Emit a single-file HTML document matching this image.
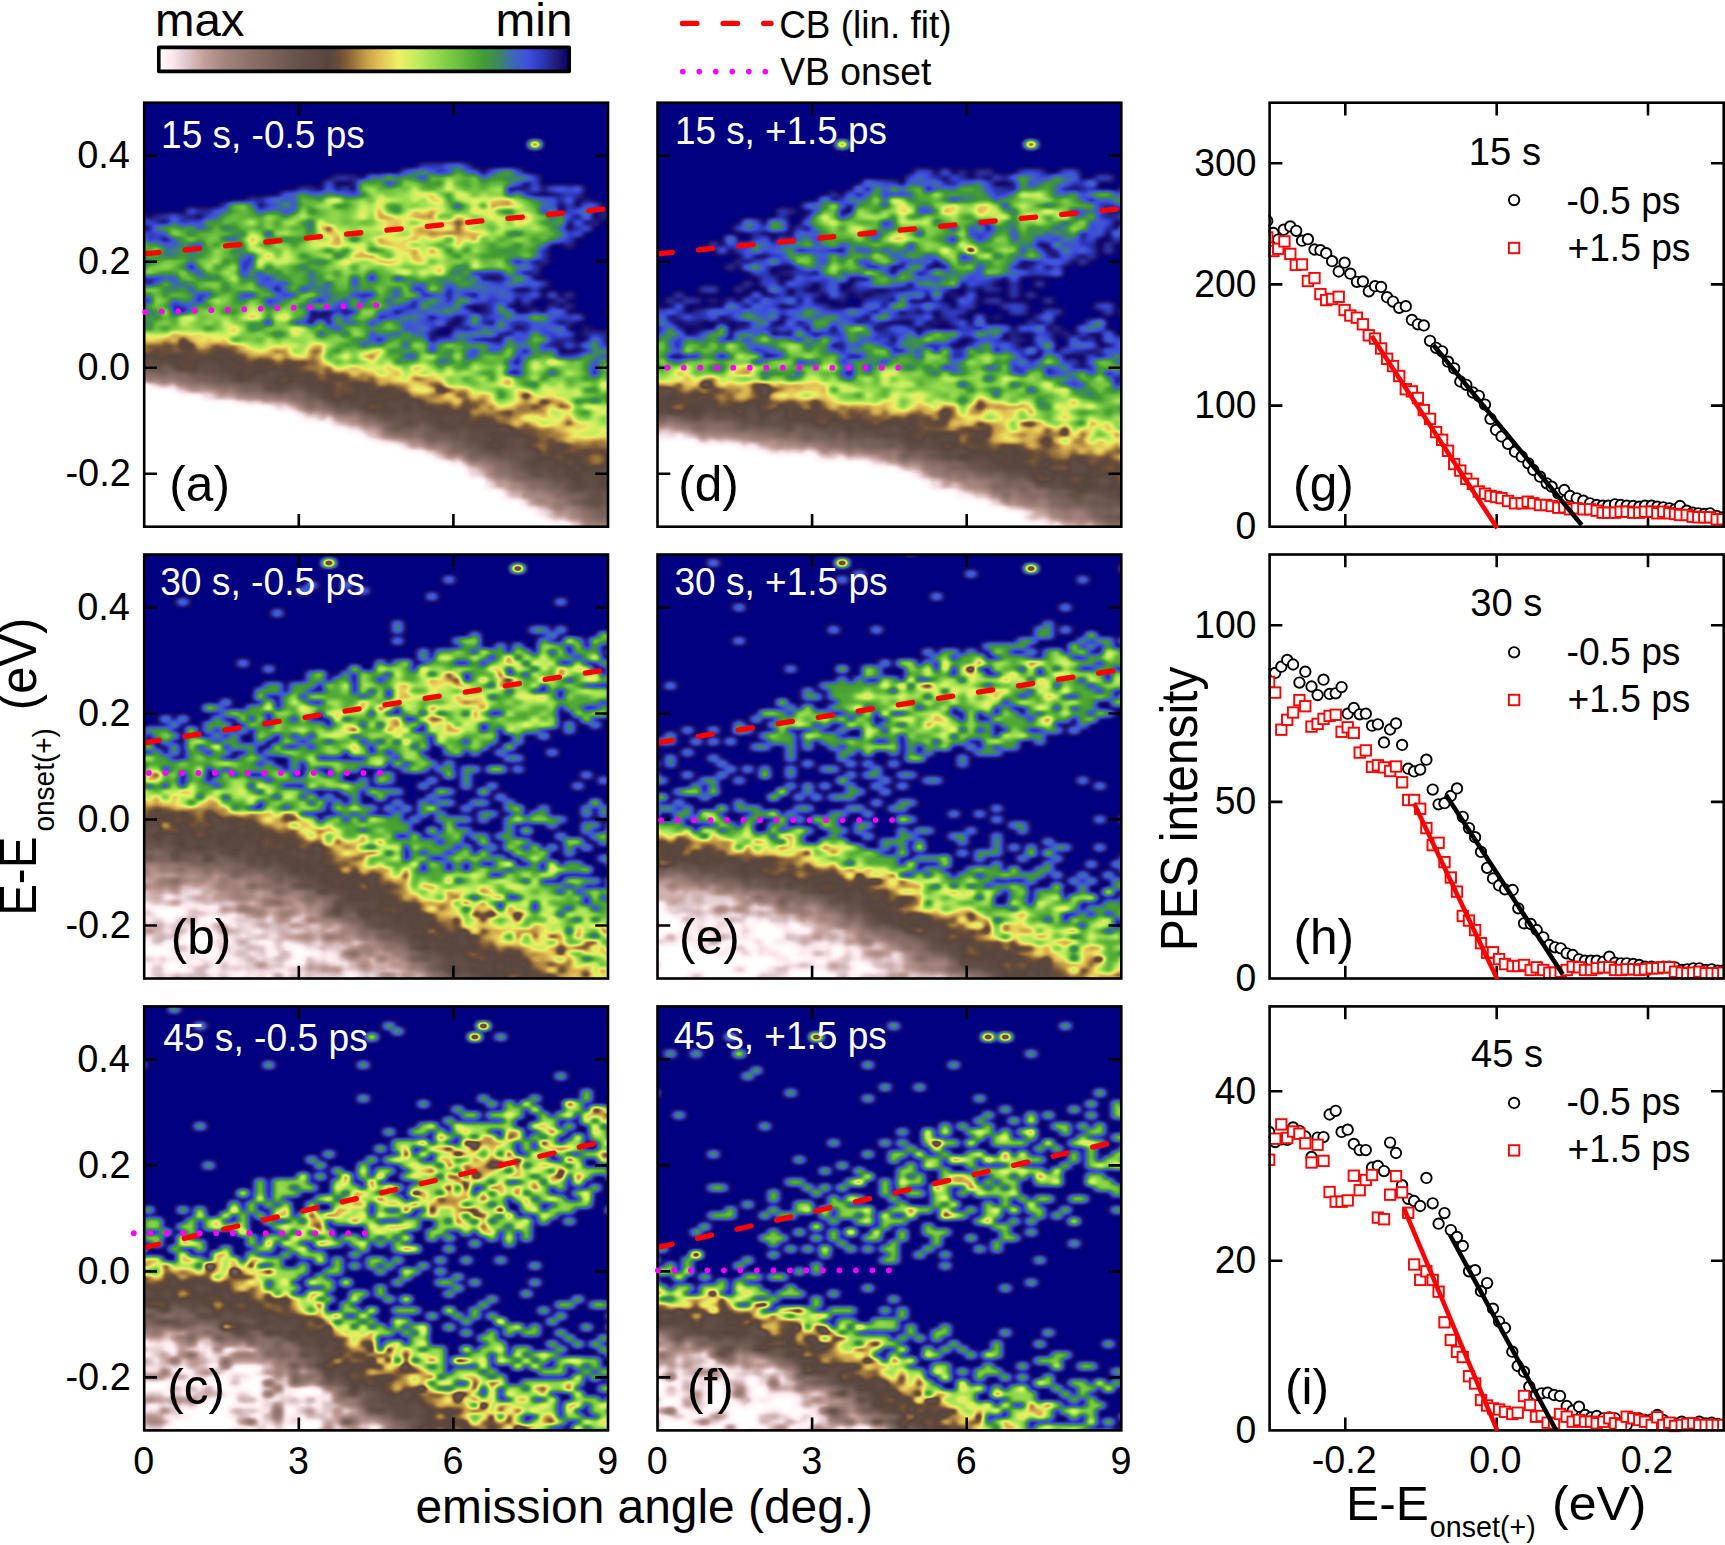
<!DOCTYPE html>
<html lang="en"><head><meta charset="utf-8"><title>Figure</title>
<style>html,body{margin:0;padding:0;background:#fff}svg{display:block}text{font-family:"Liberation Sans", Arial, sans-serif;fill:#000}</style>
</head><body>
<svg width="1725" height="1545" viewBox="0 0 1725 1545">
<defs>
<filter id="hm" x="-5%" y="-5%" width="110%" height="110%" color-interpolation-filters="sRGB"><feGaussianBlur stdDeviation="3.3 2.2"/><feComponentTransfer><feFuncR type="table" tableValues="1 1 1 1 0.965 0.93 0.895 0.864 0.84 0.817 0.793 0.77 0.745 0.718 0.692 0.666 0.639 0.625 0.61 0.595 0.58 0.566 0.551 0.538 0.525 0.513 0.5 0.488 0.475 0.463 0.451 0.439 0.428 0.416 0.404 0.392 0.385 0.377 0.37 0.362 0.355 0.347 0.363 0.388 0.418 0.468 0.518 0.573 0.63 0.687 0.744 0.795 0.828 0.862 0.889 0.899 0.909 0.919 0.929 0.91 0.872 0.834 0.795 0.757 0.719 0.682 0.644 0.606 0.57 0.541 0.511 0.482 0.453 0.424 0.395 0.368 0.34 0.313 0.286 0.259 0.253 0.247 0.241 0.235 0.235 0.235 0.235 0.239 0.244 0.248 0.246 0.224 0.201 0.178 0.161 0.151 0.141 0.127 0.095 0.063 0"/><feFuncG type="table" tableValues="1 0.973 0.945 0.918 0.882 0.846 0.81 0.773 0.737 0.7 0.663 0.626 0.6 0.58 0.561 0.541 0.522 0.509 0.496 0.483 0.47 0.457 0.444 0.433 0.423 0.413 0.403 0.393 0.383 0.373 0.364 0.354 0.344 0.334 0.324 0.314 0.308 0.301 0.295 0.289 0.283 0.276 0.281 0.291 0.306 0.343 0.381 0.43 0.483 0.537 0.59 0.64 0.682 0.724 0.765 0.805 0.845 0.885 0.925 0.939 0.936 0.932 0.929 0.926 0.911 0.894 0.878 0.862 0.845 0.826 0.807 0.788 0.769 0.75 0.731 0.708 0.684 0.66 0.636 0.612 0.59 0.569 0.547 0.525 0.489 0.452 0.416 0.389 0.362 0.335 0.308 0.282 0.255 0.228 0.199 0.167 0.135 0.103 0.067 0.031 0"/><feFuncB type="table" tableValues="1 0.978 0.956 0.933 0.896 0.859 0.822 0.783 0.739 0.694 0.65 0.606 0.576 0.555 0.535 0.515 0.494 0.481 0.468 0.456 0.443 0.43 0.417 0.405 0.394 0.383 0.371 0.36 0.349 0.338 0.329 0.32 0.31 0.301 0.292 0.282 0.276 0.27 0.264 0.257 0.251 0.245 0.237 0.227 0.22 0.22 0.22 0.23 0.244 0.258 0.272 0.288 0.306 0.324 0.341 0.352 0.364 0.376 0.387 0.389 0.384 0.379 0.374 0.369 0.355 0.341 0.326 0.311 0.297 0.287 0.277 0.267 0.257 0.246 0.236 0.228 0.22 0.212 0.204 0.196 0.245 0.294 0.343 0.392 0.492 0.591 0.69 0.74 0.789 0.839 0.87 0.826 0.783 0.74 0.684 0.611 0.537 0.474 0.453 0.431 0.502"/><feFuncA type="linear" slope="0" intercept="1"/></feComponentTransfer></filter>
<clipPath id="cp00"><rect x="144.2" y="102.7" width="463.8" height="424.0"/></clipPath>
<clipPath id="cp01"><rect x="144.2" y="554.5" width="463.8" height="424.0"/></clipPath>
<clipPath id="cp02"><rect x="144.2" y="1006.4" width="463.8" height="424.0"/></clipPath>
<clipPath id="cp10"><rect x="657.5" y="102.7" width="463.8" height="424.0"/></clipPath>
<clipPath id="cp11"><rect x="657.5" y="554.5" width="463.8" height="424.0"/></clipPath>
<clipPath id="cp12"><rect x="657.5" y="1006.4" width="463.8" height="424.0"/></clipPath>
<clipPath id="cl0"><rect x="1268.3" y="100.7" width="457.4" height="429.5"/></clipPath>
<clipPath id="cl1"><rect x="1268.3" y="552.5" width="457.4" height="429.5"/></clipPath>
<clipPath id="cl2"><rect x="1268.3" y="1004.4" width="457.4" height="429.5"/></clipPath>
<linearGradient id="cbg" x1="0" x2="1" y1="0" y2="0">
<stop offset="0.000" stop-color="rgb(255,255,255)"/>
<stop offset="0.030" stop-color="rgb(255,234,238)"/>
<stop offset="0.067" stop-color="rgb(222,200,203)"/>
<stop offset="0.114" stop-color="rgb(194,156,150)"/>
<stop offset="0.160" stop-color="rgb(163,133,126)"/>
<stop offset="0.224" stop-color="rgb(139,112,105)"/>
<stop offset="0.287" stop-color="rgb(119,96,87)"/>
<stop offset="0.350" stop-color="rgb(100,80,72)"/>
<stop offset="0.413" stop-color="rgb(88,70,62)"/>
<stop offset="0.438" stop-color="rgb(104,76,56)"/>
<stop offset="0.463" stop-color="rgb(136,100,56)"/>
<stop offset="0.507" stop-color="rgb(200,160,72)"/>
<stop offset="0.537" stop-color="rgb(226,192,86)"/>
<stop offset="0.584" stop-color="rgb(238,240,100)"/>
<stop offset="0.631" stop-color="rgb(192,236,94)"/>
<stop offset="0.679" stop-color="rgb(146,216,76)"/>
<stop offset="0.741" stop-color="rgb(100,186,60)"/>
<stop offset="0.790" stop-color="rgb(66,156,50)"/>
<stop offset="0.830" stop-color="rgb(60,134,100)"/>
<stop offset="0.860" stop-color="rgb(60,106,176)"/>
<stop offset="0.898" stop-color="rgb(64,80,224)"/>
<stop offset="0.936" stop-color="rgb(42,54,182)"/>
<stop offset="0.968" stop-color="rgb(34,28,122)"/>
<stop offset="0.990" stop-color="rgb(16,8,110)"/>
<stop offset="1.000" stop-color="rgb(0,0,128)"/>
</linearGradient>
</defs>
<rect width="1725" height="1545" fill="#fff"/>
<rect x="158.8" y="47.4" width="410.4" height="24" fill="url(#cbg)" stroke="#000" stroke-width="3.6" stroke-linejoin="round"/>
<text transform="translate(154.92,36.20) scale(1.0190,1)" font-size="46.50">max</text>
<text transform="translate(495.60,36.20) scale(1.0259,1)" font-size="46.50">min</text>
<path d="M682.5 23.4H771" stroke="#f00" stroke-width="5.4" stroke-linecap="round" stroke-dasharray="14.4 26.2" fill="none"/>
<path d="M682.8 71.6H766" stroke="#f0f" stroke-width="5.8" stroke-linecap="round" stroke-dasharray="0 16.5" fill="none"/>
<text transform="translate(779.15,37.60) scale(0.9474,1)" font-size="39.00">CB (lin. fit)</text>
<text transform="translate(780.31,85.30) scale(0.9540,1)" font-size="39.00">VB onset</text>
<g clip-path="url(#cp00)">
<g filter="url(#hm)">
<rect x="127.0" y="91.5" width="498.2" height="446.3" fill="#fff"/>
<g transform="translate(144.20,105.49) scale(8.5889,5.5789)" stroke-width="1.08" fill="none">
<path stroke="#000000" d="M-2 50h3M-2 51h6M-2 52h9M-2 53h13M-2 54h17M-2 55h20M-2 56h21M-2 57h24M-2 58h26M-2 59h28M-2 60h29M-2 61h32M-2 62h35M-2 63h36M-2 64h38M-2 65h39M-2 66h40M-2 67h42M-2 68h42M-2 69h44M-2 70h44M-2 71h46M-2 72h47M-2 73h48M-2 74h49M-2 75h52M-2 76h52M-2 77h53"/>
<path stroke="#030303" d="M7 52h1M16 54h1M36 64h1M37 65h1M45 72h1"/>
<path stroke="#050505" d="M11 53h1M19 56h1M21 56h1M24 58h1M27 60h1M40 68h1M44 71h1M46 73h1M50 76h1"/>
<path stroke="#080808" d="M15 54h1M30 61h1M38 66h1"/>
<path stroke="#0b0b0b" d="M28 60h1M34 63h1M47 74h1M50 75h1"/>
<path stroke="#0d0d0d" d="M1 50h1M4 51h1M18 55h1M22 57h1M33 62h1M38 65h1M42 70h1M48 74h1M51 77h1"/>
<path stroke="#101010" d="M-2 49h1M3 50h1M12 53h2M26 59h1M39 66h1M43 70h1M46 72h1M47 73h1"/>
<path stroke="#131313" d="M17 54h1M20 56h1"/>
<path stroke="#151515" d="M8 52h1M23 57h1M25 58h1M29 60h1M40 67h1M42 69h1"/>
<path stroke="#181818" d="M9 52h1M26 58h1M36 63h1M37 64h1M43 69h1"/>
<path stroke="#1b1b1b" d="M-1 49h1M2 50h1M10 52h1M14 53h1M27 59h1M34 62h1M41 68h2M49 74h1M52 76h1"/>
<path stroke="#1e1e1e" d="M5 51h1M19 55h2M24 57h1M31 61h2M39 65h1M49 73h1M51 76h1"/>
<path stroke="#202020" d="M6 51h2M15 53h2M22 56h1M30 60h1M35 63h1M43 68h1M45 71h1M47 71h1M48 73h1M50 74h1M53 77h2"/>
<path stroke="#232323" d="M23 56h1M27 58h1M41 67h1M44 69h1M47 72h1"/>
<path stroke="#262626" d="M8 51h1M21 55h1M24 56h1M31 60h1M44 70h3M46 71h1M49 72h1M55 77h1"/>
<path stroke="#282828" d="M1 49h1M4 50h1M11 52h1M40 65h1M40 66h1M42 67h1M50 73h1M51 75h1M53 76h1M52 77h1"/>
<path stroke="#2b2b2b" d="M12 52h1M18 54h1M25 57h1M34 61h1M47 70h1M48 71h1"/>
<path stroke="#2e2e2e" d="M0 49h1M6 50h1M13 52h1M26 57h1M33 61h1M38 64h2M52 75h2M54 76h2"/>
<path stroke="#303030" d="M-1 48h1M2 49h2M5 50h1M9 51h2M14 52h1M17 53h1M28 59h1M44 68h1M45 69h2M48 72h1M50 72h1M51 74h1"/>
<path stroke="#333333" d="M20 54h1M32 60h1M35 61h1M35 62h1"/>
<path stroke="#363636" d="M4 49h1M7 50h1M16 52h1M29 59h1M37 63h1M41 66h1M51 73h1M55 75h1"/>
<path stroke="#383838" d="M18 53h1M31 59h1M40 64h1M42 66h1M52 74h1M55 74h1"/>
<path stroke="#3b3b3b" d="M-2 48h1M0 48h1M5 49h1M15 52h1M24 55h1M27 57h1M37 62h1M41 65h1M43 67h1M45 68h2M49 71h1"/>
<path stroke="#3e3e3e" d="M3 48h1M13 51h1M17 52h2M25 56h1M30 59h1M39 63h1M43 66h1M47 69h2M48 70h1M50 70h1M52 73h1M54 73h1M54 74h1M54 75h1"/>
<path stroke="#404040" d="M45 7h1M4 48h1M11 51h1M20 53h1M19 54h1M22 55h1M26 56h1M32 58h1M34 60h1M36 62h1M41 64h1M42 65h1M49 70h1M53 74h1"/>
<path stroke="#434343" d="M2 47h1M1 48h1M7 49h1M8 50h3M12 51h1M19 53h1M21 54h1M23 55h1M32 59h1M35 60h1M36 61h1M51 72h1M55 73h1"/>
<path stroke="#464646" d="M2 48h1M6 49h1M12 50h1M28 57h1M28 58h1M31 58h1M38 63h1M42 64h1M44 67h2M47 68h1M53 72h1"/>
<path stroke="#484848" d="M11 50h1M30 58h1M34 59h1M33 60h1M38 62h1M40 63h1M44 66h1M46 67h1M48 68h1M53 73h1"/>
<path stroke="#4b4b4b" d="M-1 47h1M9 49h1M13 50h1M17 51h1M25 55h1M32 57h1M33 58h1M33 59h1M35 59h1M38 61h1M43 65h1M51 70h1M50 71h1M54 72h1"/>
<path stroke="#4e4e4e" d="M-2 47h1M0 47h1M6 48h1M8 49h1M18 51h1M23 54h1M29 57h1M36 60h1M37 61h1M43 64h1M52 72h1M55 72h1"/>
<path stroke="#515151" d="M-1 46h1M19 52h1M44 52h1M37 60h1M39 62h1M43 62h1M43 63h1M46 66h1M47 67h1M49 68h1M53 70h1M54 71h2"/>
<path stroke="#535353" d="M1 47h1M5 48h1M7 48h1M13 49h1M22 54h1M27 56h1M29 56h1M31 56h1M29 58h1M36 59h2M43 61h1M40 62h1M42 62h1M41 63h2M44 63h1M51 69h2M54 70h1M51 71h1M53 71h1"/>
<path stroke="#565656" d="M-2 46h1M3 47h1M8 48h1M17 50h1M16 51h1M34 51h1M20 52h1M21 53h1M24 54h1M32 55h1M28 56h1M30 56h1M37 58h1M43 60h1M44 65h1M49 69h2M53 69h1"/>
<path stroke="#595959" d="M-2 45h1M0 46h1M15 48h1M14 51h1M25 53h1M46 53h1M31 54h1M31 57h1M33 57h1M39 61h1M48 66h1M48 67h2M51 67h1M55 67h1M52 68h1M54 69h1M52 71h1"/>
<path stroke="#5b5b5b" d="M2 46h1M7 46h1M6 47h3M14 48h1M12 49h1M14 49h1M18 49h1M14 50h1M15 51h1M25 52h1M23 53h1M29 54h1M26 55h2M29 55h1M35 56h1M36 58h1M41 58h2M38 59h1M42 60h1M44 60h1M44 62h2M47 64h1M45 65h2M50 65h1M45 66h1M51 66h1M53 66h2M52 67h1M51 68h1M55 68h1M52 70h1"/>
<path stroke="#5e5e5e" d="M21 22h1M1 46h1M6 46h1M9 48h1M16 48h1M18 50h1M26 53h1M28 53h1M28 54h1M30 55h2M32 56h1M34 56h1M36 56h1M30 57h1M35 58h1M39 58h1M39 59h1M38 60h3M42 61h1M41 62h1M45 63h1M44 64h1M46 64h1M48 65h1M47 66h1M55 70h1"/>
<path stroke="#616161" d="M9 46h1M10 47h2M10 49h1M17 49h1M16 50h1M20 50h1M24 50h1M19 51h2M25 51h1M28 51h1M22 53h1M24 53h1M29 53h3M33 55h1M33 56h1M34 58h1M38 58h1M40 58h1M49 63h1M54 63h1M55 64h1M47 65h1M53 65h1M52 66h1"/>
<path stroke="#636363" d="M4 42h1M4 43h2M-2 44h1M-1 45h2M8 46h1M13 46h1M9 47h1M13 47h1M10 48h1M13 48h1M15 49h1M21 50h1M25 50h1M21 51h1M27 51h1M35 51h1M21 52h1M23 52h1M26 52h1M30 52h1M25 54h1M45 54h1M28 55h1M35 55h1M35 57h2M40 57h1M44 61h1M48 61h1M47 62h1M50 63h1M54 64h1M52 65h1M54 65h1M54 68h1M55 69h1"/>
<path stroke="#666666" d="M3 45h2M9 45h1M10 46h1M14 46h1M18 46h1M16 47h1M11 48h1M11 49h1M15 50h1M26 50h1M29 52h1M27 53h1M33 54h1M36 55h2M42 55h1M37 56h1M34 57h1M39 57h1M49 57h1M40 59h1M42 59h2M41 60h1M45 60h1M51 62h1M45 64h1M50 64h1M49 65h1M50 66h1M50 68h1M53 68h1"/>
<path stroke="#696969" d="M36 21h1M35 23h1M1 44h1M5 44h1M8 44h2M1 45h1M6 45h1M10 45h1M3 46h1M11 46h1M12 47h1M14 47h2M17 47h1M17 48h1M19 49h1M21 49h3M19 50h1M24 52h1M27 52h2M37 53h1M30 54h1M32 54h1M37 54h1M48 54h1M34 55h1M39 56h1M38 57h1M41 59h1M41 61h1M47 61h1M49 61h1M48 62h1M47 63h1M48 64h1M51 65h1M55 66h1M50 67h1M53 67h1"/>
<path stroke="#6b6b6b" d="M2 43h1M2 45h1M5 45h1M7 45h2M11 45h1M4 46h2M16 46h2M12 48h1M18 48h2M21 48h1M23 50h1M24 51h1M29 51h1M32 53h1M34 54h2M38 54h1M44 59h1M47 60h1M50 62h1M52 62h2M46 63h1M55 63h1M51 64h1M49 66h1M54 67h1"/>
<path stroke="#6e6e6e" d="M-2 43h1M8 43h1M2 44h1M4 44h1M26 45h1M12 46h1M4 47h2M21 47h1M16 49h1M26 49h1M31 49h1M33 50h2M26 51h1M22 52h1M36 52h1M27 54h1M41 55h1M40 56h1M37 57h1M45 59h1M40 61h1M51 63h1M55 65h1"/>
<path stroke="#717171" d="M36 22h1M33 23h1M26 27h1M-1 43h1M7 44h1M10 44h1M15 44h1M19 46h1M18 47h1M20 49h1M22 50h1M22 51h2M39 53h1M49 54h1M38 56h1M41 57h1M44 57h1M43 58h3M45 61h1M52 61h1M49 62h1M54 62h1M48 63h1M53 63h1M49 64h1M53 64h1"/>
<path stroke="#737373" d="M33 26h1M0 43h2M3 43h1M0 44h1M3 44h1M6 44h1M20 44h1M22 48h2M24 49h1M32 49h1M28 50h1M33 52h1M37 52h1M26 54h1M40 54h1M46 59h1M46 60h1M50 61h1M46 62h1"/>
<path stroke="#767676" d="M40 18h1M33 20h1M22 24h1M38 24h1M10 43h1M19 44h1M15 46h1M47 46h1M30 51h1M38 53h1M47 53h1M44 55h1M42 56h1M53 60h1M55 60h1M46 61h1M51 61h1M53 61h1"/>
<path stroke="#797979" d="M27 20h1M32 20h1M34 23h1M36 23h1M27 24h1M27 28h1M9 43h1M16 44h1M16 45h1M19 45h1M19 47h1M20 48h1M25 48h1M25 49h1M29 50h1M34 52h1M35 53h1M44 53h1M36 54h1M43 54h2M39 55h1M43 55h1M46 55h1M46 58h2M52 60h1M52 63h1M52 64h1"/>
<path stroke="#7b7b7b" d="M33 19h1M28 20h1M31 26h1M14 27h1M25 27h1M28 28h1M34 30h1M12 38h1M3 41h1M2 42h1M27 44h1M13 45h2M20 47h1M24 47h1M42 50h1M37 51h1M31 52h2M39 52h1M33 53h1M46 54h1M40 55h1M45 55h1M41 56h1M42 57h1M47 59h2M48 60h1"/>
<path stroke="#7e7e7e" d="M42 17h1M42 18h1M27 19h1M44 20h1M34 21h1M32 22h1M12 24h1M31 24h1M31 27h1M-2 42h1M7 43h1M-1 44h1M11 44h1M12 45h1M20 46h1M31 47h1M29 48h1M42 49h1M27 50h1M30 50h1M34 53h1M48 53h1M38 55h1M43 56h1M49 56h1M50 60h1"/>
<path stroke="#818181" d="M33 16h1M22 17h1M41 18h1M31 20h1M32 23h1M37 23h2M22 25h1M28 25h1M24 27h1M23 28h1M30 30h1M16 38h1M20 43h1M27 49h1M53 50h1M36 51h1M39 54h1M55 59h1M51 60h1"/>
<path stroke="#848484" d="M41 17h1M31 19h1M36 20h1M29 21h1M35 21h1M37 21h1M28 22h2M21 23h1M27 25h1M36 25h1M32 28h1M10 40h1M-1 42h1M5 42h1M25 45h1M26 48h1M52 54h1M54 61h1"/>
<path stroke="#868686" d="M32 16h1M34 17h1M38 19h1M20 21h1M43 21h1M31 22h1M39 23h1M36 24h1M21 25h1M13 28h1M17 40h1M9 42h1M20 45h1M23 45h1M28 47h1M28 49h1M33 49h1M32 50h1M51 54h1M48 58h1M49 59h1"/>
<path stroke="#898989" d="M27 17h1M33 17h1M39 19h1M22 23h1M31 23h1M29 28h1M31 28h1M38 29h1M6 41h1M1 42h1M3 42h1M6 43h1M11 43h1M12 44h1M14 44h1M32 47h1M45 57h1M55 62h1"/>
<path stroke="#8c8c8c" d="M35 15h1M36 16h1M38 17h1M25 20h1M40 20h1M28 21h1M30 24h1M33 24h1M20 25h1M29 25h1M13 26h1M30 26h1M32 30h1M5 38h1M10 41h1M17 41h1M7 42h1M35 48h1M43 51h1M43 52h1M42 54h1M53 55h1M46 56h1M43 57h1M48 57h1M50 58h1M49 60h1"/>
<path stroke="#8e8e8e" d="M35 14h1M40 17h1M27 18h1M43 18h1M30 20h1M20 22h1M12 25h1M30 25h1M25 26h1M34 29h1M4 41h1M19 43h1M15 45h1M17 45h1M45 47h1M24 48h1M34 49h1M33 51h1M40 52h1M47 52h1M50 57h2M53 58h1"/>
<path stroke="#919191" d="M21 17h1M38 18h1M34 19h1M38 21h1M33 22h1M28 23h1M28 24h1M37 24h1M23 25h2M29 26h1M15 28h1M5 41h1M0 42h1M6 42h1M33 45h1M26 46h1M23 47h1M28 48h1M33 48h1M31 50h1M41 50h1M38 52h1M45 52h1M36 53h1M40 53h1M43 53h1M45 53h1M47 54h1M47 56h1M51 58h1M55 61h1"/>
<path stroke="#949494" d="M25 19h1M40 19h1M29 20h1M12 21h1M41 21h1M29 24h1M16 27h1M21 27h1M29 27h1M33 27h1M13 29h1M29 30h1M10 31h1M15 38h1M-2 41h1M0 41h1M16 43h1M27 47h1M29 47h1M38 47h1M31 48h1M49 48h1M29 49h1M31 51h1M46 51h2M35 52h1M49 55h1M49 58h1M53 59h1"/>
<path stroke="#969696" d="M31 15h1M37 16h1M28 17h1M39 17h1M32 19h1M33 21h1M44 21h1M27 22h1M34 22h1M37 22h1M34 24h1M9 25h1M25 25h1M32 27h1M34 27h1M16 28h1M38 28h1M33 29h1M-2 37h1M13 38h1M9 39h1M18 40h1M7 41h2M8 42h1M17 43h1M13 44h1M26 44h1M18 45h1M45 46h1M48 46h1M25 47h1M37 48h1M41 49h1M45 49h1M50 52h1M41 54h1M54 54h1"/>
<path stroke="#999999" d="M31 16h1M31 17h1M37 17h1M25 18h1M34 18h1M18 20h1M37 20h1M41 20h1M45 22h1M12 23h1M41 23h1M13 24h1M12 37h1M4 38h1M4 39h1M-1 41h1M36 45h1M28 46h1M26 47h1M39 49h1M48 50h1M44 51h1M50 51h1M48 56h1M47 57h1M52 57h1M50 59h1M54 60h1"/>
<path stroke="#9c9c9c" d="M26 15h1M30 21h1M32 21h1M25 22h1M30 22h1M35 22h1M16 23h1M24 23h1M43 24h1M15 25h1M16 26h1M30 27h1M7 29h1M10 29h1M25 29h1M8 35h1M11 38h1M9 41h1M14 42h1M14 43h2M22 47h1M41 47h1M41 48h1M30 49h1M46 50h1M54 50h1M32 51h1M48 51h1M53 51h1M53 54h1M45 56h1M52 56h1"/>
<path stroke="#9e9e9e" d="M41 15h1M29 17h1M43 20h1M27 21h1M26 22h1M41 22h2M15 23h1M20 23h1M19 24h1M19 25h1M32 25h1M12 26h1M24 26h1M34 26h1M38 26h1M8 28h1M22 28h1M24 28h1M28 29h1M9 30h1M2 37h1M35 47h1M51 50h1M46 52h1M49 52h1M48 55h1M52 55h1M44 56h1M52 58h1M52 59h1"/>
<path stroke="#a1a1a1" d="M27 16h1M39 16h1M21 18h1M16 21h2M23 22h1M3 23h1M21 24h1M26 24h1M32 24h1M26 28h1M23 29h1M33 30h1M33 33h1M12 36h1M13 37h1M16 37h1M-2 39h1M9 40h1M1 41h2M24 41h1M19 42h1M21 43h1M27 45h1M21 46h1M40 50h1M38 51h1M48 52h1M42 53h1M49 53h1M55 53h1M54 57h1M54 58h1M51 59h1M54 59h1"/>
<path stroke="#a4a4a4" d="M25 17h1M20 18h1M26 18h1M33 18h1M18 19h1M44 19h1M14 20h1M22 22h1M29 23h1M40 24h1M1 26h1M34 28h1M36 28h1M2 29h1M29 29h1M0 30h1M23 30h1M0 33h1M26 37h1M9 38h1M11 40h1M16 42h1M12 43h1M31 43h1M18 44h1M25 44h1M32 45h1M27 48h1M30 48h1M36 50h1M49 51h1M47 55h1M55 57h1"/>
<path stroke="#a6a6a6" d="M30 16h1M36 17h1M32 18h1M26 19h1M30 19h1M24 20h1M39 20h1M39 22h1M43 22h1M23 23h1M35 25h1M8 26h1M19 26h1M32 26h1M36 26h1M27 27h1M37 27h1M17 28h1M30 28h1M22 29h1M41 29h1M4 30h1M21 31h1M19 34h1M1 35h1M25 37h1M7 39h1M13 41h1M18 41h2M35 43h1M22 45h1M33 47h1M46 47h1M34 48h1M46 57h1"/>
<path stroke="#a9a9a9" d="M35 13h1M30 14h1M36 15h1M40 15h1M30 17h1M30 18h1M22 19h1M43 19h1M42 20h1M45 20h1M14 22h1M26 23h1M40 23h1M5 24h1M20 24h1M8 27h1M17 27h1M20 27h1M14 28h1M41 28h1M7 32h1M7 37h1M8 38h1M5 39h1M15 39h1M22 42h1M13 43h1M32 46h1M39 47h1M36 48h1M45 48h1M36 49h1M47 49h1M35 50h1M39 50h1M39 51h1M54 56h1"/>
<path stroke="#acacac" d="M26 16h1M41 16h1M43 17h1M11 18h1M24 19h1M35 19h1M22 21h1M39 21h1M45 21h1M38 22h1M46 22h1M13 23h1M25 23h1M23 24h1M18 25h1M14 26h1M22 26h1M7 28h1M1 29h1M15 29h1M26 29h1M8 32h1M12 33h1M27 33h1M30 33h1M31 34h1M9 35h1M2 39h1M4 40h2M14 40h1M16 40h1M24 40h1M18 42h1M18 43h1M23 44h1M42 44h1M23 46h1M32 48h1M38 49h1M50 56h1M53 57h1M55 58h1"/>
<path stroke="#aeaeae" d="M25 15h1M34 15h1M29 16h1M32 17h1M17 20h1M21 20h2M46 20h1M14 21h1M40 21h1M44 22h1M17 23h1M27 23h1M30 23h1M25 24h1M-1 25h1M16 25h1M38 25h1M18 26h1M28 26h1M13 27h1M44 27h1M25 28h1M21 29h1M39 29h1M25 30h1M23 31h1M29 32h1M18 34h1M12 35h1M15 37h1M10 39h1M28 43h1M17 44h1M25 46h1M50 48h1M48 49h1M53 49h1M37 50h1M47 50h1M50 50h1M40 51h1M42 51h1"/>
<path stroke="#b1b1b1" d="M38 13h1M31 14h1M29 15h1M38 15h1M34 16h1M40 16h1M44 18h1M21 19h1M26 20h1M21 21h1M24 21h1M16 22h1M24 22h1M8 24h1M44 24h1M20 26h1M2 28h2M6 28h1M35 28h1M35 29h1M10 30h1M31 30h1M32 31h1M12 32h1M1 33h1M3 34h1M1 36h1M8 36h1M13 36h1M8 37h1M45 38h1M6 40h1M28 40h1M25 41h1M12 42h1M17 42h1M21 42h1M23 42h1M32 43h1M40 45h1M27 46h1M50 46h1M48 47h1M50 47h1M38 48h1M43 50h1M51 52h1M41 53h1M53 56h1"/>
<path stroke="#b4b4b4" d="M36 13h1M38 14h1M28 16h1M24 17h1M24 18h1M37 19h1M10 20h1M23 20h1M9 21h1M11 21h1M42 21h1M9 23h1M-1 24h1M7 24h1M31 25h1M33 25h1M37 25h1M39 25h1M41 25h1M44 25h1M17 26h1M-2 27h1M18 28h1M40 28h1M31 29h2M21 30h1M24 30h1M10 32h1M23 32h1M11 33h1M1 34h1M9 34h1M14 34h1M2 35h1M7 35h1M17 35h1M17 36h1M20 36h1M27 36h1M6 37h1M-2 38h1M7 38h1M25 38h1M1 39h1M16 39h1M28 39h1M-2 40h1M3 40h1M15 40h1M11 41h2M20 42h1M24 45h1M42 45h1M46 46h1M30 47h1M49 47h1M35 49h1M45 51h1M42 52h1"/>
<path stroke="#b7b7b7" d="M28 13h1M33 13h1M31 18h1M35 18h1M45 19h1M15 20h1M19 20h1M38 20h1M31 21h1M-2 23h1M4 23h1M45 23h1M46 24h1M7 25h1M10 25h1M39 26h1M15 27h1M35 27h1M0 29h1M16 29h1M16 30h1M4 31h2M2 32h1M28 32h1M8 33h1M17 33h1M27 34h1M18 35h1M11 37h1M18 37h1M11 39h1M-1 40h1M1 40h1M8 40h1M29 43h1M24 44h1M32 44h1M38 46h1M49 46h1M40 47h1M53 47h1M52 52h1M50 54h1M54 55h1M55 56h1"/>
<path stroke="#b9b9b9" d="M34 13h1M41 14h1M28 15h1M30 15h1M18 17h1M44 17h1M10 18h1M11 19h1M23 19h1M26 21h1M8 22h1M11 22h1M6 23h1M8 23h1M18 23h1M44 23h1M11 24h1M42 24h1M42 25h1M9 27h1M38 27h1M4 28h1M3 29h1M19 29h1M27 29h1M30 29h1M40 29h1M28 30h1M9 31h1M25 31h1M28 31h1M22 32h1M-2 33h1M30 34h1M-2 35h1M16 36h1M6 38h1M6 39h1M20 40h1M22 41h1M11 42h1M15 42h1M45 42h2M36 44h1M41 46h1M54 47h1M50 49h1M51 56h1"/>
<path stroke="#bcbcbc" d="M25 14h1M40 14h1M38 16h1M19 17h1M26 17h1M19 18h1M28 19h1M20 20h1M35 20h1M23 21h1M12 22h1M18 22h1M7 23h1M46 23h2M13 25h1M26 25h1M9 26h1M19 27h1M23 27h1M39 28h1M9 29h1M1 30h1M7 30h1M18 30h1M27 30h1M37 30h1M42 30h1M17 31h1M36 31h1M6 32h1M4 34h1M26 35h1M9 36h1M11 36h1M-1 37h1M2 38h1M10 38h1M17 38h1M24 38h1M8 39h1M29 42h1M22 43h1M36 43h1M21 44h1M29 45h1M39 45h1M41 45h1M46 45h1M36 46h1M38 50h1M52 50h1M53 53h1"/>
<path stroke="#bfbfbf" d="M36 12h1M42 12h1M37 13h1M32 15h1M37 15h1M39 15h1M23 17h1M18 18h1M37 18h1M20 19h1M36 19h1M11 20h1M34 20h1M25 21h1M48 21h1M3 22h1M39 24h1M15 26h1M7 27h1M37 28h1M42 29h1M8 30h1M22 31h1M43 31h1M18 32h1M37 32h1M6 33h1M10 33h1M24 35h1M37 35h1M6 36h1M17 37h1M-1 38h1M26 38h1M38 38h1M20 39h1M23 40h1M29 40h1M30 41h1M34 44h1M51 45h1M22 46h1M24 46h1M33 46h1M46 48h1M53 48h1M49 49h1M55 55h1"/>
<path stroke="#c1c1c1" d="M27 14h1M36 14h1M27 15h1M45 18h1M9 20h1M12 20h1M7 21h1M10 21h1M13 21h1M15 22h1M40 22h1M45 25h1M44 26h1M0 27h1M10 28h1M33 28h1M20 29h1M14 30h1M20 30h1M17 32h1M25 32h1M27 32h1M33 32h1M13 33h1M22 33h2M10 34h1M13 34h1M13 35h1M29 35h1M33 35h1M10 36h1M14 41h1M45 41h1M13 42h1M24 43h1M28 45h1M31 46h1M39 46h2M55 47h1M48 48h1M51 48h1M43 49h2M49 50h1M50 55h1"/>
<path stroke="#c4c4c4" d="M32 14h1M33 15h1M18 16h1M43 16h1M10 19h1M12 19h1M13 20h1M2 22h1M5 22h1M17 22h1M14 24h1M0 25h1M0 26h1M43 26h1M6 29h1M17 30h1M18 31h1M27 31h1M11 32h1M30 32h1M-1 33h1M27 35h1M0 36h1M24 36h1M32 36h1M22 38h1M46 38h1M3 39h1M25 39h1M19 40h1M25 40h1M21 41h1M38 43h2M45 43h1M47 45h1M44 47h1M47 47h1M44 48h1M53 52h1"/>
<path stroke="#c7c7c7" d="M32 12h1M30 13h1M26 14h1M33 14h1M39 14h1M42 14h1M4 24h1M6 24h1M41 24h1M40 26h1M4 27h1M28 27h1M41 27h2M1 28h1M15 31h1M31 31h1M20 32h1M26 32h1M4 33h1M7 33h1M34 33h1M8 34h1M23 34h1M21 36h1M41 36h1M14 37h1M35 37h1M0 38h1M3 38h1M13 39h1M22 39h1M38 39h1M26 40h2M16 41h1M34 43h1M42 43h1M31 44h1M45 44h1M21 45h1M30 46h1M44 46h1M51 46h1M54 46h1M37 47h1M52 49h1M41 51h1M54 51h1"/>
<path stroke="#c9c9c9" d="M41 12h1M40 13h1M37 14h1M16 18h1M48 20h1M15 21h1M13 22h1M10 23h1M34 25h1M4 26h1M7 26h1M-1 27h1M1 27h1M10 27h1M39 27h2M43 27h1M21 28h1M17 29h1M-1 30h1M2 30h2M12 30h1M35 30h1M38 31h1M25 33h1M28 33h1M5 34h1M4 35h1M10 35h1M2 36h1M19 36h1M36 36h1M41 39h1M42 42h1M30 44h1M39 44h1M34 45h1M53 46h1M34 47h1M36 47h1M39 48h2M37 49h1"/>
<path stroke="#cccccc" d="M41 13h1M43 13h1M20 17h1M35 17h1M23 18h1M28 18h2M41 19h1M47 19h1M16 20h1M8 21h1M18 21h1M46 21h1M1 22h1M4 22h1M47 22h1M48 23h1M15 24h1M17 24h2M45 24h1M47 24h1M1 25h1M17 25h1M40 25h1M-2 26h1M27 26h1M41 26h1M45 27h1M24 29h1M22 30h1M33 31h1M26 33h1M22 34h1M28 34h1M-1 35h1M30 35h1M-2 36h1M26 36h1M1 37h1M10 37h1M41 37h1M18 38h1M30 38h1M42 38h1M12 39h1M13 40h1M38 41h1M40 41h1M31 42h2M23 43h1M37 43h1M52 43h1M28 44h1M51 53h1"/>
<path stroke="#cfcfcf" d="M44 13h1M34 14h1M35 16h1M12 18h1M47 21h1M10 22h1M35 24h1M8 25h1M14 25h1M6 26h1M45 26h1M6 27h1M19 28h1M4 29h1M8 29h1M5 30h1M6 31h1M16 31h1M20 31h1M35 31h1M5 32h1M34 32h1M42 32h1M2 34h1M16 35h1M36 35h1M7 36h1M15 36h1M42 37h1M-1 39h1M27 39h1M2 40h1M21 40h1M25 42h1M28 42h1M30 42h1M29 44h1M52 44h2M51 47h1M54 48h1M40 49h1M51 49h1M51 51h1"/>
<path stroke="#d1d1d1" d="M31 12h1M29 13h1M21 16h1M45 17h1M39 18h1M15 19h1M51 19h1M-1 23h1M4 25h1M-1 26h1M37 26h1M42 26h1M5 27h1M43 29h2M9 32h1M36 32h1M16 33h1M24 33h1M-1 34h1M20 34h1M22 35h1M25 36h1M29 39h1M7 40h1M32 40h1M41 40h1M48 40h1M27 41h1M36 41h1M39 41h1M10 42h1M24 42h1M52 42h1M26 43h1M22 44h1M47 44h1M54 44h1M35 45h1M45 45h1M52 45h1M42 47h1M44 50h1M52 51h1M51 55h1"/>
<path stroke="#d4d4d4" d="M36 11h1M26 13h1M31 13h1M15 17h1M22 18h1M7 22h1M43 25h1M46 25h1M3 26h1M10 26h2M11 27h1M18 27h1M36 27h1M9 28h1M36 29h1M12 31h1M30 31h1M2 33h1M9 33h1M19 33h1M21 33h1M0 34h1M5 35h1M21 35h1M28 36h1M5 37h1M9 37h1M34 37h1M1 38h1M14 38h1M31 38h1M0 39h1M34 39h1M0 40h1M39 40h1M37 41h1M27 43h1M43 43h2M35 44h1M37 44h1M55 45h1M37 46h1M46 49h1"/>
<path stroke="#d7d7d7" d="M37 12h1M42 13h1M29 14h1M22 16h1M19 19h1M29 19h1M51 20h1M3 21h1M11 23h1M42 23h1M16 24h1M11 25h1M2 26h1M23 26h1M26 26h1M35 26h1M42 28h1M37 29h1M15 30h1M26 30h1M8 31h1M11 31h1M19 31h1M34 31h1M44 31h1M-1 32h1M31 32h1M39 32h1M43 32h1M3 33h1M14 33h1M38 33h1M39 34h1M32 35h1M34 35h1M44 38h1M12 40h1M51 43h1M41 44h1M29 46h1M41 52h1M50 53h1"/>
<path stroke="#d9d9d9" d="M35 11h1M27 13h1M20 16h1M25 16h1M46 18h1M9 19h1M14 19h1M5 23h1M19 23h1M2 27h2M7 31h1M-2 32h1M38 32h1M45 32h1M36 33h1M15 34h1M36 34h1M11 35h1M33 37h1M47 37h1M23 39h1M46 39h1M47 40h1M31 41h1M36 42h2M44 45h1M35 46h1M54 49h1M54 52h1"/>
<path stroke="#dcdcdc" d="M33 12h1M21 15h1M48 15h1M50 15h1M17 16h1M19 16h1M46 17h1M49 17h1M17 19h1M8 20h1M47 20h1M50 21h1M19 22h1M48 24h1M21 26h1M0 28h1M5 28h1M20 28h1M14 29h1M36 30h1M13 31h1M37 31h1M1 32h1M3 32h2M19 32h1M35 32h1M20 33h1M39 33h3M21 34h1M34 34h1M41 34h2M14 36h1M29 36h1M33 36h1M0 37h1M31 37h1M48 37h1M29 38h1M43 38h1M31 39h1M40 40h1M15 41h1M28 41h1M48 41h1M26 42h1M44 42h1M43 44h1M55 44h1"/>
<path stroke="#dfdfdf" d="M39 13h1M16 17h2M47 17h1M47 18h1M51 18h1M-1 20h1M9 22h1M48 22h1M43 23h1M-2 24h1M3 24h1M5 25h1M5 26h1M18 29h1M19 30h1M14 32h1M16 32h1M32 32h1M37 33h1M45 34h1M28 35h1M5 36h1M18 36h1M35 36h1M27 37h1M36 37h2M32 38h1M45 40h1M32 41h1M43 41h1M40 43h1M46 44h1M37 45h1M53 45h2M34 46h1M45 50h1"/>
<path stroke="#e1e1e1" d="M30 12h1M38 12h1M40 12h1M43 14h1M45 15h1M16 16h1M23 16h1M14 17h1M15 18h1M52 18h1M5 19h1M8 19h1M42 19h1M50 19h1M3 20h1M19 21h1M6 22h1M51 22h1M2 23h1M50 23h1M10 24h1M2 25h2M22 27h1M12 29h1M2 31h1M29 33h1M47 34h1M15 35h1M38 35h1M42 35h1M23 36h1M34 36h1M28 37h1M32 37h1M50 38h1M24 39h1M23 41h1M49 43h1M55 43h1M30 45h1M55 46h1M55 48h1M52 53h1M54 53h1"/>
<path stroke="#e4e4e4" d="M43 12h1M21 14h1M47 15h1M17 18h1M13 19h1M0 21h1M9 24h1M44 28h1M43 30h1M-2 31h1M21 32h1M40 32h1M44 32h1M5 33h1M17 34h1M29 34h1M3 35h1M19 35h1M23 35h1M25 35h1M39 35h1M44 35h1M47 38h1M30 39h1M45 39h1M29 41h1M49 41h1M25 43h1M33 43h1M38 45h1M42 46h1M52 46h1M43 47h1"/>
<path stroke="#e7e7e7" d="M35 12h1M45 14h1M49 15h1M24 16h1M7 20h1M49 20h1M5 21h2M1 24h1M24 24h1M-2 28h1M6 30h1M13 30h1M3 31h1M42 31h1M13 32h1M15 32h1M23 38h1M34 38h1M40 38h2M17 39h1M32 39h1M37 39h1M30 40h2M42 40h1M46 41h1M30 43h1M40 44h1M31 45h1M50 45h1M55 51h1"/>
<path stroke="#eaeaea" d="M37 11h1M45 13h1M42 16h1M9 18h1M49 19h1M0 23h2M6 25h1M11 28h1M24 31h1M24 32h1M42 33h1M7 34h1M24 34h1M40 34h1M41 35h1M22 37h1M30 37h1M28 38h1M35 38h1M48 38h2M18 39h1M33 39h1M42 39h1M47 39h1M22 40h1M46 40h1M20 41h1M26 41h1M44 41h1M35 42h1M41 43h1M47 48h1M55 54h1"/>
<path stroke="#ececec" d="M32 11h3M23 15h1M49 16h1M14 18h1M49 18h1M16 19h1M49 23h1M49 24h1M45 29h1M11 30h1M41 32h1M46 32h1M32 33h1M45 33h1M11 34h1M44 34h1M4 36h1M22 36h1M30 36h1M33 40h1M47 41h1M34 42h1M43 42h1M46 43h1M53 43h1M38 44h1M52 47h1"/>
<path stroke="#efefef" d="M34 12h1M22 13h2M32 13h1M28 14h1M18 15h1M44 16h1M50 16h1M12 17h1M36 18h1M46 19h1M2 20h1M-1 21h1M4 21h1M-2 22h1M50 22h1M0 24h1M12 27h1M46 27h1M12 28h1M39 30h3M-1 31h1M1 31h1M14 31h1M6 34h1M16 34h1M43 34h1M49 34h1M40 35h1M48 35h1M40 36h1M40 37h1M45 37h1M54 37h1M39 38h1M44 39h1M55 39h1M36 40h1M38 40h1M52 41h1M47 42h1M53 42h1M43 45h1M49 45h1M55 49h1M55 52h1"/>
<path stroke="#f2f2f2" d="M13 17h1M55 18h1M6 19h2M1 20h1M4 20h1M-2 21h1M1 21h1M49 25h1M46 26h1M-1 28h1M46 28h1M11 29h1M38 30h1M45 30h1M0 31h1M18 33h1M33 34h1M37 34h1M31 35h1M35 35h1M47 36h1M49 36h1M3 37h1M24 37h1M37 38h1M26 39h1M39 39h1M43 39h1M49 39h1M53 41h1M54 43h1M51 44h1"/>
<path stroke="#f4f4f4" d="M24 13h1M19 15h1M48 16h1M48 17h1M53 19h1M53 20h1M52 21h1M14 23h1M31 33h1M35 33h1M12 34h1M25 34h2M32 34h1M-1 36h1M3 36h1M44 40h1M54 40h1M51 41h1M38 42h1M48 42h2M55 42h1M33 44h1M48 45h1"/>
<path stroke="#f7f7f7" d="M24 14h1M22 15h1M44 15h1M46 15h1M51 17h1M5 20h1M-1 22h1M-2 25h1M29 31h1M-2 34h1M35 34h1M6 35h1M14 35h1M20 35h1M31 36h1M44 36h1M20 37h1M21 38h1M27 38h1M14 39h1M37 40h1M51 40h1M41 41h1M47 43h1M50 43h1M55 50h1"/>
<path stroke="#fafafa" d="M-2 30h1M39 31h1M41 31h1M0 32h1M39 36h1M29 37h1M39 37h1M19 38h2M35 39h1M33 41h1M39 42h1M48 43h1M52 48h1"/>
<path stroke="#fcfcfc" d="M5 29h1M26 31h1M19 37h1M40 42h1M42 48h2"/>
</g></g>
<path d="M144.7 253.8L616.0 207.9" stroke="#f00" stroke-width="5.3" stroke-linecap="round" stroke-dasharray="14.4 26.15" fill="none"/>
</g>
<rect x="144.2" y="102.7" width="463.8" height="424.0" fill="none" stroke="#000" stroke-width="2.6"/>
<path d="M298.8 102.7v12.8M298.8 526.7v-12.8M453.4 102.7v12.8M453.4 526.7v-12.8M144.2 155.7h12.8M608.0 155.7h-12.8M144.2 261.7h12.8M608.0 261.7h-12.8M144.2 367.7h12.8M608.0 367.7h-12.8M144.2 473.7h12.8M608.0 473.7h-12.8" stroke="#000" stroke-width="2.6" fill="none"/>
<path d="M145.3 312.1L377.3 305.2" stroke="#f0f" stroke-width="5.8" stroke-linecap="round" stroke-dasharray="0 16.5" fill="none"/>
<text transform="translate(161.12,148.10) scale(0.9419,1)" font-size="39.30" style="fill:#fff">15 s, -0.5 ps</text>
<text transform="translate(169.32,500.80) scale(0.9880,1)" font-size="50.20">(a)</text>
<text transform="translate(77.22,168.20) scale(0.9650,1)" font-size="39.30">0.4</text>
<text transform="translate(77.98,274.20) scale(0.9650,1)" font-size="39.30">0.2</text>
<text transform="translate(77.41,380.20) scale(0.9650,1)" font-size="39.30">0.0</text>
<text transform="translate(65.47,486.20) scale(0.9650,1)" font-size="39.30">-0.2</text>
<g clip-path="url(#cp01)">
<g filter="url(#hm)">
<rect x="127.0" y="543.4" width="498.2" height="446.3" fill="#fff"/>
<g transform="translate(144.20,557.34) scale(8.5889,5.5789)" stroke-width="1.08" fill="none">
<path stroke="#000000" d="M21 1h1M43 2h1M2 61h1M-2 62h2M5 62h1M-2 63h1M0 63h5M6 63h3M-2 64h1M1 64h4M10 64h1M0 65h1M2 65h2M6 65h4M17 65h1M6 66h1M10 66h1M5 67h3M13 67h1M0 68h1M4 68h5M11 68h1M-2 69h3M2 69h6M9 69h1M13 69h2M16 69h1M-2 70h5M5 70h3M14 70h1M16 70h3M-2 71h6M6 71h3M12 71h1M14 71h1M17 71h4M4 72h1M7 72h1M10 72h1M17 72h2M21 72h1M-2 73h3M2 73h3M8 73h1M10 73h1M16 73h3M23 73h1M-2 74h3M2 74h4M7 74h2M11 74h1M-2 75h3M10 75h2M14 75h1M16 75h1M-1 76h4M5 76h2M8 76h1M10 76h1M12 76h3M19 76h1M22 76h1M24 76h1M29 76h1M-2 77h2M1 77h1M4 77h2M7 77h2M11 77h4M22 77h3"/>
<path stroke="#030303" d="M-1 61h1M3 61h1M0 62h1M-1 63h1M7 64h1M-2 65h1M14 65h1M7 66h1M9 68h1M12 69h1M8 70h1M10 70h1M4 71h1M15 71h1M21 71h1M3 72h1M9 72h1M13 72h1M1 73h1M5 73h2M11 73h1M22 73h1M15 74h2M23 74h1M12 75h1M23 75h2M26 75h1M15 76h1M18 76h1M23 76h1M0 77h1M2 77h1M6 77h1"/>
<path stroke="#050505" d="M-1 60h1M4 61h1M5 63h1M8 64h1M-2 66h1M4 66h1M2 67h1M12 67h1M17 67h1M-2 68h1M5 71h1M9 71h1M22 71h1M-2 72h1M1 72h1M5 72h2M8 72h1M20 72h1M22 72h1M8 75h1M18 75h1M4 76h1M7 76h1M20 76h2M10 77h1M17 77h1M27 77h2"/>
<path stroke="#080808" d="M5 60h2M4 62h1M6 62h1M9 62h1M9 64h1M10 65h1M5 66h1M10 68h1M15 68h1M8 69h1M10 69h1M17 69h1M20 69h1M24 69h1M3 70h1M11 70h1M19 70h1M-1 72h1M11 72h1M14 72h1M9 74h2M18 74h1M24 74h1M28 74h1M2 75h1M13 75h1M25 75h1M-2 76h1M28 76h1M30 76h1"/>
<path stroke="#0b0b0b" d="M-2 58h1M4 60h1M8 62h1M10 62h1M12 62h1M-1 64h2M5 64h1M11 64h1M18 64h1M-1 65h1M1 65h1M12 65h1M0 66h1M2 66h1M11 66h2M19 66h1M8 67h1M11 67h1M12 68h1M14 68h1M10 71h1M2 72h1M12 73h1M21 73h1M12 74h3M17 74h1M29 74h1M7 75h1M9 75h1M22 75h1M16 76h1M27 76h1M3 77h1M9 77h1M18 77h1M21 77h1"/>
<path stroke="#0d0d0d" d="M-2 60h1M7 61h1M6 64h1M11 65h1M-1 66h1M9 66h1M16 66h1M14 67h1M18 67h1M21 67h1M15 70h1M21 70h1M13 71h1M0 72h1M16 72h1M26 72h1M7 73h1M9 73h1M14 73h2M1 74h1M4 75h1M17 75h1M19 75h3M9 76h1M20 77h1"/>
<path stroke="#101010" d="M-2 57h1M4 59h1M0 60h1M2 60h1M0 61h1M5 61h1M1 62h2M7 62h1M14 64h1M18 65h1M3 66h1M22 66h1M-1 67h1M3 67h1M15 67h1M1 68h1M13 68h1M15 69h1M18 69h1M22 69h1M13 70h1M20 70h1M22 70h2M19 72h1M20 73h1M24 73h1M27 74h1M1 75h1M3 75h1M26 76h1M15 77h1M19 77h1M29 77h1"/>
<path stroke="#131313" d="M1 57h1M0 58h1M-2 59h1M5 59h1M4 65h1M13 65h1M15 66h1M20 66h1M1 67h1M4 67h1M10 67h1M16 67h1M-1 68h1M2 68h2M1 69h1M19 69h1M4 70h1M9 70h1M11 71h1M15 72h1M23 72h1M6 74h1M11 76h1"/>
<path stroke="#151515" d="M-1 58h1M13 60h1M-2 61h1M1 61h1M14 63h2M18 63h1M14 66h1M-2 67h1M19 67h1M20 68h1M25 69h1M12 70h1M16 71h1M12 72h1M26 73h3M19 74h1M26 74h1M5 75h2M29 75h1M31 75h2M3 76h1M25 76h1"/>
<path stroke="#181818" d="M-2 56h1M2 57h2M8 57h1M6 59h2M1 60h1M7 60h2M6 61h1M10 63h1M16 63h1M19 64h1M5 65h1M1 66h1M13 66h1M18 66h1M20 67h1M22 67h1M16 68h1M11 69h1M27 71h1M19 73h1M20 74h1M25 74h1M30 74h1M17 76h1M31 76h1"/>
<path stroke="#1b1b1b" d="M-1 57h1M5 57h1M13 61h1M11 62h1M8 66h1M17 68h1M21 69h1M23 69h1M24 70h1M28 71h1M25 72h1M29 72h1M30 73h1M21 74h1M27 75h1"/>
<path stroke="#1e1e1e" d="M7 58h1M11 58h1M0 59h1M3 60h1M16 61h1M3 62h1M13 62h1M9 63h1M13 63h1M15 64h1M17 64h1M15 65h1M25 71h1M28 72h1M29 73h1M22 74h1M15 75h1M26 77h1M30 77h1"/>
<path stroke="#202020" d="M4 57h1M6 57h1M8 58h1M2 59h1M11 59h1M9 60h1M14 60h1M8 61h2M17 61h1M17 62h2M17 63h1M19 63h1M12 64h1M16 65h1M17 66h1M21 66h1M0 67h1M9 67h1M19 68h1M26 69h1M24 72h1M13 73h1M30 75h1M31 77h1"/>
<path stroke="#232323" d="M0 56h2M0 57h1M1 58h1M5 58h1M10 58h1M1 59h1M12 61h1M14 61h1M20 62h1M23 66h1M18 68h1M23 68h2M27 70h1M31 74h1M25 77h1"/>
<path stroke="#262626" d="M0 55h1M5 56h1M6 58h1M11 60h2M11 61h1M12 63h1M20 65h1M26 70h1M25 73h1M16 77h1"/>
<path stroke="#282828" d="M1 55h1M9 57h1M8 59h1M10 59h1M10 60h1M17 60h1M10 61h1M15 61h1M16 62h1M20 63h1M20 64h1M21 65h1M22 68h1M26 71h1M32 76h1"/>
<path stroke="#2b2b2b" d="M-1 55h1M2 56h1M6 56h1M4 58h1M13 58h1M9 59h1M18 60h1M13 64h1M23 67h2M26 68h1M25 70h1M23 71h1M32 74h1M28 75h1M33 75h1"/>
<path stroke="#2e2e2e" d="M-1 54h1M3 55h1M3 56h1M8 56h1M7 57h1M13 57h1M12 58h1M3 59h1M16 64h1M22 65h1M27 69h1M29 70h1M27 72h1M30 72h1"/>
<path stroke="#303030" d="M4 55h1M-1 56h1M2 58h1M9 58h1M19 65h1M29 71h2M31 73h2M32 77h1M34 77h2"/>
<path stroke="#333333" d="M-1 53h1M-2 55h1M2 55h1M12 57h1M14 58h1M16 59h1M18 61h1M20 61h1M11 63h1M24 66h1"/>
<path stroke="#363636" d="M-2 53h1M4 56h1M13 59h1M19 62h1M21 62h1M21 68h1M25 68h1M28 69h1M28 70h1"/>
<path stroke="#383838" d="M1 53h1M11 57h1M15 59h1M16 60h1M14 62h1M34 75h1"/>
<path stroke="#3b3b3b" d="M9 55h1M9 56h1M14 59h1M34 76h1M33 77h1M36 77h1"/>
<path stroke="#3e3e3e" d="M2 54h1M6 54h1M5 55h1M7 55h1M7 56h1M3 58h1M-1 59h1M19 60h1M21 61h1M15 62h1M24 64h1M23 65h1M30 70h1M31 71h1M33 76h1"/>
<path stroke="#404040" d="M10 55h1M10 56h1M16 58h1M19 61h1M21 63h1M25 67h2M29 69h1M24 71h1M35 76h2M37 77h1"/>
<path stroke="#434343" d="M-2 54h1M1 54h1M11 55h1M12 56h1M17 58h1M23 64h1M33 74h1"/>
<path stroke="#464646" d="M0 53h1M2 53h1M6 55h1M14 56h1M14 57h1M12 59h1M15 60h1M22 61h1M24 65h1M25 66h1M28 67h1M33 73h1"/>
<path stroke="#484848" d="M42 22h1M5 54h1M8 54h2M8 55h1M11 56h1M10 57h1M15 57h1M23 63h1M40 64h1M43 64h1M27 67h1M27 68h1M29 68h1M30 69h1M35 75h1"/>
<path stroke="#4b4b4b" d="M-1 52h1M11 54h1M13 56h1M16 57h1M34 74h1M37 75h1M38 77h1"/>
<path stroke="#4e4e4e" d="M-2 52h1M2 52h1M4 53h1M8 53h1M4 54h1M21 64h1M25 65h1M28 68h1M32 71h1M31 72h1M33 72h2M39 77h1"/>
<path stroke="#515151" d="M-2 51h1M0 51h1M0 52h2M7 53h1M10 54h1M15 58h1M30 68h1M33 71h1M34 73h1"/>
<path stroke="#535353" d="M24 31h1M2 51h1M3 52h1M5 53h2M11 53h1M0 54h1M15 55h1M15 56h2M17 57h1M17 59h1M37 62h1M24 63h1M47 68h1M32 72h1M38 75h1M39 76h1"/>
<path stroke="#565656" d="M-2 49h1M0 49h2M11 49h1M-1 51h1M12 52h1M13 54h1M13 55h1M18 58h2M20 59h1M27 65h1M26 66h1M48 71h1M36 75h1M40 77h1"/>
<path stroke="#595959" d="M0 50h1M2 50h1M5 51h1M18 54h1M18 57h1M19 59h1M22 62h1M26 62h1M26 63h1M22 64h1M26 65h1M36 72h1M38 73h1M51 75h1M37 76h1M40 76h1M41 77h1"/>
<path stroke="#5b5b5b" d="M8 47h1M9 48h1M-1 50h1M3 50h1M1 51h1M20 52h1M17 53h1M3 54h1M12 55h1M18 56h1M20 56h1M26 58h1M26 59h1M21 60h2M25 62h1M38 64h1M28 65h1M28 66h1M30 66h1M29 67h1M37 67h1M38 68h1M31 69h1M33 69h1M31 70h1M34 71h1M35 73h3M44 73h1M37 74h1M42 74h1M41 75h1M38 76h1M48 77h1"/>
<path stroke="#5e5e5e" d="M35 21h1M41 21h1M36 22h1M46 22h1M27 27h1M1 39h1M1 48h1M4 48h1M8 48h1M12 48h1M-1 49h1M7 49h1M8 50h1M6 51h2M11 51h1M5 52h1M7 52h2M3 53h1M9 53h1M12 53h1M18 53h1M26 53h1M14 54h2M20 54h1M17 55h1M22 57h1M24 57h1M30 57h1M18 59h1M23 60h1M26 61h1M23 62h2M26 64h1M30 64h1M36 65h1M39 65h1M43 65h1M33 66h1M37 69h1M52 69h1M38 70h1M50 70h1M36 71h1M40 72h1M35 74h1M40 74h1M47 75h1"/>
<path stroke="#616161" d="M4 46h1M7 46h1M2 47h1M17 47h1M-1 48h2M8 49h2M-2 50h1M10 50h1M10 51h1M9 52h2M19 52h1M16 53h1M12 54h1M19 54h1M14 55h1M16 55h1M19 55h1M21 56h1M20 57h1M21 59h1M24 59h1M24 60h2M27 60h1M23 61h1M28 61h1M27 62h1M31 63h1M31 65h1M27 66h1M34 67h1M36 68h1M32 69h1M34 69h1M36 69h1M33 70h1M40 71h1M35 72h1M39 73h2M43 73h1M39 74h1M48 74h1M39 75h1M46 76h2"/>
<path stroke="#636363" d="M1 46h1M7 47h1M4 49h2M13 49h1M4 50h2M12 50h2M15 50h1M3 51h1M8 51h1M12 51h1M22 51h1M11 52h1M17 52h1M15 53h1M20 53h1M17 54h1M19 57h1M26 57h1M21 58h1M23 58h1M25 58h1M28 59h1M20 60h1M22 63h1M25 63h1M30 63h1M27 64h2M32 64h1M30 65h1M29 66h1M30 67h3M39 67h1M33 68h1M35 68h1M45 68h1M35 69h1M48 70h1M35 71h1M39 71h1M43 71h1M37 72h1M42 72h1M42 73h1M47 73h1M36 74h1M44 75h1M41 76h1M44 76h1M46 77h2"/>
<path stroke="#666666" d="M3 46h1M-2 47h2M5 47h1M16 47h1M-2 48h1M3 48h1M10 48h1M10 49h1M7 50h1M11 50h1M4 51h1M9 51h1M13 51h1M15 51h1M13 52h1M19 53h1M21 54h1M20 55h1M24 56h1M20 58h1M29 64h1M31 64h1M29 65h1M33 65h1M32 68h1M37 68h1M34 70h2M37 70h1M42 71h1M41 72h1M44 74h1M45 75h1M43 76h1M48 76h1M42 77h3M54 77h1"/>
<path stroke="#696969" d="M-1 44h1M1 45h1M0 47h2M9 47h3M12 49h1M14 49h1M17 49h1M9 50h1M14 50h1M16 50h1M16 51h2M4 52h1M6 52h1M16 52h1M14 53h1M16 54h1M21 55h1M22 56h1M21 57h1M23 57h1M22 59h2M26 60h1M25 61h1M27 61h1M28 62h2M31 62h1M27 63h1M29 63h1M33 64h1M32 66h1M31 68h1M43 68h1M32 70h1M40 70h1M43 72h1M38 74h1M41 74h1M43 74h1M40 75h1"/>
<path stroke="#6b6b6b" d="M42 18h1M48 21h1M39 22h1M41 23h1M37 26h1M33 27h1M39 27h1M38 28h1M33 29h2M29 30h1M28 31h1M30 33h1M2 46h1M16 46h1M3 47h1M6 48h1M6 49h1M20 49h1M17 50h1M27 51h1M14 52h1M13 53h1M7 54h1M18 55h1M23 55h1M19 56h1M24 58h1M35 58h1M39 60h1M24 61h1M29 61h1M36 61h1M41 61h1M30 62h1M39 62h1M28 63h1M42 63h1M32 65h1M34 66h1M36 66h1M36 67h1M53 67h1M50 68h1M38 69h1M51 69h1M36 70h1M51 70h1M54 71h1M38 72h1M44 72h1M41 73h1M45 74h1M46 75h1M45 76h1M45 77h1M49 77h1"/>
<path stroke="#6e6e6e" d="M-2 43h1M-2 46h1M0 46h1M5 46h1M4 47h1M12 47h1M11 48h1M2 49h1M1 50h1M18 51h1M20 51h1M15 52h1M21 52h1M10 53h1M24 54h1M22 55h1M17 56h1M27 57h1M22 58h1M27 59h1M29 59h1M28 60h1M34 63h1M25 64h1M39 64h1M31 66h1M44 67h1M34 68h1M42 70h1M37 71h1M41 71h1M52 77h2"/>
<path stroke="#717171" d="M2 45h1M8 46h1M5 48h1M7 48h1M13 48h1M16 49h1M6 50h1M14 51h1M23 52h1M21 53h1M25 54h1M35 67h1M39 70h1M53 74h1M42 76h1"/>
<path stroke="#737373" d="M0 45h1M12 46h1M3 49h1M25 57h1M27 58h1M40 69h1M38 71h1M39 72h1M49 72h1M51 74h1M42 75h2"/>
<path stroke="#767676" d="M-2 45h1M7 45h1M9 45h1M6 47h1M15 49h1M19 51h1M18 52h1M23 54h1M26 56h1M28 58h1M29 60h1M31 61h1M33 62h1M35 66h1M39 69h1M43 70h1M45 71h1M45 73h1M48 73h2M46 74h1M49 76h1"/>
<path stroke="#797979" d="M14 48h1M18 50h1M22 54h1M32 63h1"/>
<path stroke="#7b7b7b" d="M52 18h1M42 19h1M45 19h1M32 20h1M40 20h1M48 20h1M50 20h1M33 22h1M35 22h1M30 23h1M36 23h1M30 25h1M36 25h1M46 25h1M25 26h1M38 26h1M14 27h1M18 27h1M25 27h1M22 29h1M29 29h1M35 30h1M44 30h1M30 31h1M35 31h2M29 32h1M8 34h1M24 34h1M0 40h1M13 41h1M4 42h1M1 43h1M3 43h1M-1 45h1M5 45h2M6 46h1M10 46h1M14 46h1M17 46h1M21 49h1M25 50h1M25 51h1M24 52h1M22 53h1M25 53h1M24 55h1M31 55h1M42 55h1M30 56h1M47 56h1M25 59h1M32 59h2M35 60h1M35 61h1M32 62h1M38 63h1M40 63h1M34 65h2M47 65h1M45 66h1M52 66h1M55 66h1M33 67h1M45 67h1M50 67h1M39 68h1M48 68h1M48 69h1M41 70h1M49 70h1M53 70h1M46 73h1M50 76h1M50 77h1"/>
<path stroke="#7e7e7e" d="M1 44h1M7 44h2M3 45h1M8 45h1M-1 46h1M9 46h1M13 46h1M13 47h1M15 47h1M16 48h1M18 48h1M20 50h1M27 56h2M30 58h1M30 60h1M34 62h2M43 67h1M44 70h1M47 70h1M44 71h1M46 72h1M49 74h1M52 76h1"/>
<path stroke="#818181" d="M4 45h1M29 58h1M30 59h1M35 63h1M40 67h2M46 71h1M50 74h1M48 75h1"/>
<path stroke="#848484" d="M30 61h1M34 64h1M45 72h1"/>
<path stroke="#868686" d="M2 48h1M15 48h1M40 68h1M49 75h1"/>
<path stroke="#898989" d="M-2 44h1M0 44h1M11 46h1M23 56h1M35 64h1M50 75h1"/>
<path stroke="#8c8c8c" d="M2 44h2M25 55h1M25 56h1M36 64h1M38 66h2M41 68h1M43 69h1M47 72h1M55 77h1"/>
<path stroke="#8e8e8e" d="M49 15h1M39 17h1M34 18h2M38 18h1M44 18h1M46 18h1M43 19h1M47 19h1M55 19h1M27 20h1M41 20h1M43 20h1M46 20h1M51 20h1M29 21h1M32 21h1M45 21h1M52 21h1M34 22h1M41 22h1M51 22h2M54 22h1M23 23h1M29 23h1M33 23h2M37 23h1M45 23h1M55 23h1M29 24h2M33 24h1M37 24h1M40 24h1M51 24h1M29 25h1M31 25h3M38 25h2M43 25h3M17 26h1M28 26h2M36 26h1M39 26h1M28 27h1M30 27h1M34 27h2M21 28h3M27 28h1M33 28h1M42 28h1M28 29h1M32 29h1M38 29h2M45 29h1M23 30h1M26 30h1M28 30h1M33 30h1M37 30h1M46 30h1M18 31h1M23 31h1M33 31h1M42 31h1M21 32h2M34 32h1M6 33h1M34 33h1M24 35h1M0 36h1M19 36h1M9 37h1M27 37h1M6 38h1M0 39h1M19 39h1M1 40h1M5 41h1M19 41h1M23 41h1M-2 42h2M2 42h1M5 42h1M8 42h1M11 42h1M14 42h1M-1 43h1M5 43h1M7 43h1M12 43h1M16 43h1M6 44h1M12 44h1M24 45h1M18 47h1M26 47h1M19 48h1M21 48h1M19 49h1M22 49h1M22 50h1M23 51h2M22 52h1M28 52h2M24 53h1M27 53h1M29 54h1M45 54h1M27 55h1M47 55h1M28 57h1M38 57h1M44 57h1M46 57h1M41 58h1M45 58h1M39 59h1M42 59h2M33 60h1M36 60h2M40 60h1M40 61h1M54 61h1M44 62h1M46 62h1M36 63h1M39 63h1M47 63h1M41 64h2M44 64h1M46 64h1M49 64h1M51 65h1M40 66h1M42 66h1M46 66h1M50 66h1M53 66h1M42 67h1M46 67h1M48 67h1M54 67h1M54 68h1M45 69h2M55 70h1M47 71h1M51 71h3M54 72h1M51 73h2M54 73h1M53 75h1M53 76h2M51 77h1"/>
<path stroke="#919191" d="M33 45h1M43 47h1M41 69h1"/>
<path stroke="#969696" d="M42 69h1"/>
<path stroke="#999999" d="M18 49h1M47 74h1"/>
<path stroke="#9c9c9c" d="M14 47h1M23 53h1M31 60h1M32 61h1"/>
<path stroke="#9e9e9e" d="M4 44h1M33 63h1M38 65h1M38 67h1M45 70h1M52 75h1"/>
<path stroke="#a1a1a1" d="M33 61h1M46 70h1M50 73h1M52 74h1M55 76h1"/>
<path stroke="#a4a4a4" d="M43 17h1M46 17h1M48 17h1M41 19h1M46 19h1M50 19h1M29 20h1M33 20h2M36 20h2M44 20h1M49 20h1M34 21h1M36 21h1M49 21h1M51 21h1M54 21h1M25 22h1M29 22h1M32 22h1M43 22h1M47 22h1M25 23h2M31 23h2M35 23h1M38 23h1M42 23h2M47 23h1M49 23h1M23 24h1M25 24h1M27 24h1M34 24h2M39 24h1M41 24h1M43 24h2M50 24h1M52 24h2M20 25h1M27 25h1M34 25h2M37 25h1M49 25h1M52 25h1M21 26h2M26 26h1M30 26h2M35 26h1M40 26h1M42 26h1M44 26h4M19 27h1M22 27h1M24 27h1M31 27h1M36 27h3M43 27h2M47 27h1M16 28h1M18 28h2M24 28h2M31 28h1M36 28h1M46 28h1M18 29h1M27 29h1M36 29h2M41 29h1M15 30h1M24 30h1M31 30h1M34 30h1M38 30h1M42 30h2M17 31h1M20 31h1M22 31h1M29 31h1M34 31h1M37 31h2M20 32h1M23 32h1M26 32h2M31 32h1M35 32h2M39 32h1M24 33h1M28 33h1M23 34h1M27 34h1M30 34h1M32 34h1M10 40h1M-1 41h1M3 41h1M10 41h2M0 42h1M3 42h1M9 42h2M0 43h1M4 43h1M8 43h1M10 43h2M13 43h1M17 43h1M15 44h1M18 44h1M14 45h1M18 45h2M15 46h1M19 47h1M22 47h1M24 47h1M25 48h1M27 49h1M28 50h1M26 51h1M27 52h1M31 52h1M29 53h1M28 54h1M32 54h1M33 55h1M39 56h1M29 57h1M35 57h3M39 57h1M42 57h1M32 58h1M38 58h1M40 58h1M42 58h1M34 59h1M36 59h3M40 59h1M44 59h2M34 60h1M38 60h1M43 60h2M46 60h1M49 60h1M44 61h5M50 61h1M52 61h1M38 62h1M42 62h2M43 63h2M46 63h1M50 63h2M47 64h1M50 64h3M54 64h1M40 65h1M42 65h1M48 65h1M53 65h1M37 66h1M41 66h1M43 66h1M47 66h2M51 66h1M47 67h1M51 67h1M46 68h1M53 68h1M52 70h1M49 71h1M50 72h1M53 72h1M54 75h2"/>
<path stroke="#a6a6a6" d="M38 15h1M52 15h1M46 16h2M50 16h1M36 17h1M30 19h1M24 20h1M28 20h1M25 21h1M21 23h1M17 25h1M19 25h1M53 25h1M55 25h1M14 26h1M10 28h1M15 28h1M50 28h1M52 28h2M11 29h1M13 29h1M47 29h1M51 29h1M12 30h1M45 30h1M47 30h1M5 31h1M15 31h1M43 31h1M2 32h1M13 32h1M40 32h1M5 33h1M16 33h1M38 33h1M0 34h1M5 34h1M15 34h1M21 34h1M35 34h1M38 34h1M16 35h2M21 35h2M25 35h1M30 35h2M36 35h1M6 36h1M12 36h1M26 36h2M30 36h2M4 37h1M8 37h1M10 37h1M19 37h4M26 37h1M29 37h1M32 37h1M0 38h2M22 38h1M31 38h1M3 39h1M6 39h1M9 39h1M15 39h2M11 40h1M20 40h2M27 40h1M14 41h1M21 41h2M16 42h2M26 42h1M19 43h1M27 43h1M20 44h1M22 45h1M27 47h1M35 48h1M33 49h1M35 49h1M31 50h1M36 50h1M39 51h1M43 51h1M49 51h2M42 52h1M45 52h1M37 53h1M39 53h1M43 53h1M46 53h1M36 54h1M38 54h1M41 55h1M55 55h1M48 56h1M51 56h1M47 57h1M49 58h2M54 58h1M52 60h1M54 60h1M55 61h1M51 76h1"/>
<path stroke="#a9a9a9" d="M53 14h1M37 15h1M20 21h1M13 25h1M7 27h1M42 34h1M35 39h1M34 42h1M39 42h1M52 44h1M43 45h1M45 47h2M44 49h1M54 49h1M19 50h1M53 50h1"/>
<path stroke="#acacac" d="M40 38h2"/>
<path stroke="#b1b1b1" d="M37 65h1"/>
<path stroke="#b4b4b4" d="M48 72h1"/>
<path stroke="#b7b7b7" d="M17 48h1M44 69h1"/>
<path stroke="#b9b9b9" d="M21 51h1"/>
<path stroke="#bcbcbc" d="M26 55h1M32 60h1M37 64h1"/>
<path stroke="#bfbfbf" d="M31 59h1M44 68h1"/>
<path stroke="#c1c1c1" d="M11 45h1M34 61h1M54 74h1"/>
<path stroke="#c4c4c4" d="M43 16h1M48 16h1M37 17h1M40 17h2M44 17h1M50 17h3M54 17h1M36 18h2M39 18h1M41 18h1M45 18h1M47 18h3M51 18h1M55 18h1M33 19h3M38 19h1M40 19h1M53 19h2M30 20h1M35 20h1M38 20h2M47 20h1M54 20h2M26 21h2M30 21h2M38 21h3M43 21h1M46 21h2M50 21h1M55 21h1M26 22h1M28 22h1M30 22h2M38 22h1M40 22h1M44 22h2M48 22h1M50 22h1M53 22h1M22 23h1M27 23h2M39 23h1M44 23h1M48 23h1M50 23h1M21 24h2M31 24h2M36 24h1M38 24h1M47 24h1M49 24h1M54 24h2M21 25h4M26 25h1M41 25h2M47 25h1M50 25h2M18 26h1M23 26h2M27 26h1M32 26h3M41 26h1M43 26h1M48 26h4M16 27h2M20 27h2M23 27h1M26 27h1M32 27h1M40 27h3M45 27h2M49 27h2M17 28h1M30 28h1M35 28h1M39 28h1M43 28h3M47 28h1M15 29h2M24 29h3M35 29h1M40 29h1M42 29h3M46 29h1M16 30h5M22 30h1M30 30h1M36 30h1M40 30h2M13 31h2M16 31h1M19 31h1M21 31h1M25 31h3M40 31h1M14 32h1M16 32h1M18 32h1M25 32h1M28 32h1M30 32h1M32 32h1M37 32h2M17 33h1M19 33h2M22 33h2M26 33h1M31 33h2M35 33h2M18 34h1M20 34h1M22 34h1M25 34h1M28 34h2M36 34h1M19 35h2M3 38h3M8 38h1M10 38h2M2 39h1M5 39h1M11 39h1M-2 40h1M2 40h2M5 40h2M8 40h2M12 40h2M1 41h1M6 41h2M9 41h1M15 41h1M1 42h1M6 42h2M12 42h1M15 42h1M2 43h1M14 43h1M9 44h3M14 44h1M16 44h2M15 45h1M17 45h1M20 45h1M23 46h1M21 47h1M20 48h1M22 48h3M26 48h1M23 49h2M26 49h1M28 49h1M21 50h1M23 50h2M26 50h2M28 51h4M25 52h1M32 52h2M31 53h1M33 53h2M26 54h2M31 54h1M35 54h1M37 54h1M28 55h3M34 55h1M36 55h1M38 55h1M29 56h1M31 56h1M33 56h2M36 56h1M38 56h1M40 56h2M43 56h2M31 57h4M43 57h1M45 57h1M31 58h1M33 58h2M37 58h1M39 58h1M43 58h1M35 59h1M41 59h1M46 59h3M50 59h1M41 60h2M45 60h1M47 60h1M51 60h1M53 60h1M37 61h1M39 61h1M49 61h1M36 62h1M40 62h1M47 62h4M52 62h3M48 63h1M53 63h3M45 64h1M53 64h1M55 64h1M41 65h1M44 65h3M49 65h1M54 65h2M44 66h1M49 66h1M52 67h1M49 68h1M51 68h1M47 69h1M49 69h2M53 69h2M50 71h1M52 72h1M55 72h1M53 73h1M55 73h1"/>
<path stroke="#c7c7c7" d="M47 14h1M54 14h2M46 15h1M50 15h1M53 15h2M37 16h2M41 16h1M52 16h1M32 17h1M34 17h2M32 18h1M27 19h1M29 19h1M23 21h1M20 22h1M22 22h2M18 23h2M17 24h2M16 25h1M54 25h1M16 26h1M52 26h1M54 26h2M12 27h2M53 27h3M9 28h1M11 28h3M51 28h1M8 29h1M7 30h3M13 30h1M49 30h1M2 31h1M7 31h1M9 31h1M11 31h1M44 31h2M-1 32h1M1 32h1M3 32h1M5 32h1M8 32h1M10 32h1M43 32h1M46 32h1M-2 33h2M2 33h1M7 33h1M9 33h2M13 33h1M39 33h2M43 33h1M3 34h1M7 34h1M10 34h3M37 34h1M39 34h1M-2 35h1M1 35h1M3 35h1M5 35h2M8 35h2M12 35h1M14 35h2M18 35h1M27 35h1M29 35h1M35 35h1M38 35h1M-2 36h2M1 36h2M5 36h1M7 36h2M11 36h1M13 36h1M17 36h2M28 36h1M32 36h1M0 37h4M5 37h3M11 37h2M14 37h1M17 37h1M23 37h3M31 37h1M33 37h1M35 37h1M12 38h4M17 38h1M19 38h1M23 38h2M30 38h1M32 38h1M14 39h1M20 39h1M22 39h1M27 39h2M15 40h5M22 40h1M25 40h1M28 40h1M20 41h1M24 41h2M18 42h1M23 42h2M27 42h2M21 43h1M24 43h1M22 44h1M24 44h1M29 44h1M23 45h1M25 45h2M28 45h1M30 45h1M25 46h1M29 46h1M32 46h1M28 47h2M31 47h1M34 47h1M27 48h4M29 49h2M36 49h2M42 49h1M34 50h2M38 50h2M41 50h2M48 50h1M32 51h2M35 51h2M42 51h1M44 51h1M53 51h1M34 52h2M37 52h1M40 52h1M43 52h1M47 52h1M49 52h1M51 52h1M55 52h1M36 53h1M44 53h2M49 53h1M55 53h1M39 54h3M44 54h1M46 54h1M53 54h3M45 55h1M49 55h2M54 55h1M45 56h1M49 56h2M51 58h2M54 59h2"/>
<path stroke="#c9c9c9" d="M45 13h2M48 13h1M38 14h1M36 15h1M19 21h1M19 22h1M15 23h1M17 23h1M13 24h3M9 26h1M8 27h1M2 29h1M4 29h1M55 29h1M3 30h1M52 30h1M0 31h2M49 31h1M41 35h1M42 36h1M34 38h2M37 38h2M37 39h1M33 40h1M37 40h1M32 41h1M37 41h1M40 41h1M29 42h1M35 42h1M33 43h1M41 43h1M32 44h1M34 44h2M38 44h2M42 44h1M55 44h1M32 45h1M37 45h1M42 45h1M46 45h1M51 45h1M53 45h1M34 46h1M39 46h2M43 46h1M45 46h2M51 46h1M53 46h1M35 47h3M39 47h1M42 47h1M44 47h1M47 47h2M55 47h1M42 48h1M47 48h1M51 48h2M54 48h2M51 49h1M52 50h1"/>
<path stroke="#cccccc" d="M55 0h1M35 4h1M19 5h1M23 5h1M18 6h1M25 6h1M33 7h1M4 8h1M48 8h1M15 10h1M29 12h1M29 13h1M29 15h1M11 19h1M14 20h1M14 23h1M47 35h1M43 36h1M43 38h1M51 39h1M53 40h1M50 41h1"/>
<path stroke="#d7d7d7" d="M42 68h1"/>
<path stroke="#e1e1e1" d="M10 45h1"/>
<path stroke="#e4e4e4" d="M5 44h1"/>
<path stroke="#f2f2f2" d="M37 63h1M51 72h1M55 74h1"/>
</g></g>
<path d="M144.7 742.7L616.0 668.3" stroke="#f00" stroke-width="5.3" stroke-linecap="round" stroke-dasharray="14.4 26.15" fill="none"/>
</g>
<rect x="144.2" y="554.5" width="463.8" height="424.0" fill="none" stroke="#000" stroke-width="2.6"/>
<path d="M298.8 554.5v12.8M298.8 978.5v-12.8M453.4 554.5v12.8M453.4 978.5v-12.8M144.2 607.5h12.8M608.0 607.5h-12.8M144.2 713.5h12.8M608.0 713.5h-12.8M144.2 819.5h12.8M608.0 819.5h-12.8M144.2 925.5h12.8M608.0 925.5h-12.8" stroke="#000" stroke-width="2.6" fill="none"/>
<path d="M148.9 772.9L380.9 772.9" stroke="#f0f" stroke-width="5.8" stroke-linecap="round" stroke-dasharray="0 16.5" fill="none"/>
<text transform="translate(160.16,595.20) scale(0.9466,1)" font-size="39.30" style="fill:#fff">30 s, -0.5 ps</text>
<text transform="translate(170.67,954.40) scale(0.9880,1)" font-size="50.20">(b)</text>
<text transform="translate(77.22,620.05) scale(0.9650,1)" font-size="39.30">0.4</text>
<text transform="translate(77.98,726.05) scale(0.9650,1)" font-size="39.30">0.2</text>
<text transform="translate(77.41,832.05) scale(0.9650,1)" font-size="39.30">0.0</text>
<text transform="translate(65.47,938.05) scale(0.9650,1)" font-size="39.30">-0.2</text>
<g clip-path="url(#cp02)">
<g filter="url(#hm)">
<rect x="127.0" y="995.2" width="498.2" height="446.3" fill="#fff"/>
<g transform="translate(144.20,1009.19) scale(8.5889,5.5789)" stroke-width="1.08" fill="none">
<path stroke="#000000" d="M39 3h1M38 5h1M-2 60h3M2 60h1M6 60h1M3 61h1M7 61h1M9 61h2M12 61h1M-2 62h3M7 62h1M1 63h1M-1 64h1M4 64h1M7 64h2M10 64h4M0 65h1M3 65h3M9 65h4M-1 66h1M5 66h1M7 66h3M12 66h3M-1 67h11M11 67h3M-1 68h4M6 68h1M8 68h6M16 68h1M18 68h2M-2 69h2M2 69h1M10 69h1M12 69h2M17 69h4M-2 70h2M7 70h4M13 70h1M15 70h1M21 70h1M-2 71h1M0 71h2M6 71h8M16 71h1M18 71h1M-1 72h1M4 72h6M16 72h2M-2 73h2M5 73h5M12 73h2M16 73h1M18 73h1M-2 74h2M3 74h8M13 74h1M16 74h1M18 74h3M-2 75h2M2 75h11M14 75h1M16 75h5M26 75h2M-2 76h5M4 76h6M12 76h8M22 76h1M26 76h1M-2 77h4M3 77h7M11 77h2M15 77h2M18 77h1M21 77h2M27 77h1"/>
<path stroke="#030303" d="M2 61h1M5 61h1M3 62h1M13 65h1M11 66h1M17 68h1M20 68h1M4 69h2M9 69h1M16 69h1M14 70h1M18 70h1M20 70h1M2 71h1M4 71h1M19 71h2M23 72h1M2 73h1M4 73h1M10 73h1M21 73h1M22 75h1M3 76h1M2 77h1M10 77h1M14 77h1"/>
<path stroke="#050505" d="M-1 59h1M1 60h1M6 61h1M9 62h1M8 63h1M1 64h1M-2 65h1M1 65h1M4 68h1M3 69h1M21 69h1M17 71h1M0 72h1M20 72h1M3 73h1M17 73h1M25 75h1M21 76h1M13 77h1M28 77h1"/>
<path stroke="#080808" d="M3 60h1M0 61h1M4 63h1M0 64h1M3 66h1M6 66h1M10 66h1M16 66h1M-2 67h1M16 67h1M-2 68h1M14 68h1M15 69h1M14 71h1M1 72h1M13 72h2M14 74h1M0 75h1M26 77h1"/>
<path stroke="#0b0b0b" d="M2 59h1M1 61h1M8 62h1M7 63h1M-2 64h1M2 64h2M14 64h1M0 69h1M11 69h1M16 70h1M21 72h1M17 74h1M13 75h1M15 75h1M11 76h1M23 76h1"/>
<path stroke="#0d0d0d" d="M-2 59h1M7 59h1M7 60h1M11 61h1M1 62h1M18 65h1M15 67h1M1 69h1M3 71h1M3 72h1M1 75h1"/>
<path stroke="#101010" d="M4 58h1M6 62h1M0 63h1M6 64h1M8 65h1M6 69h1M6 70h1M17 70h1M5 71h1M21 71h2M11 73h1"/>
<path stroke="#131313" d="M-2 63h1M2 66h1M10 67h1M2 70h1M11 72h2M18 72h1M20 73h1M22 74h1M23 75h1M10 76h1M23 77h1"/>
<path stroke="#151515" d="M7 46h1M2 58h2M0 59h1M2 63h1M-1 65h1M6 65h1M3 68h1M5 68h1M8 69h1M10 72h1M24 72h1M14 73h1M19 73h1M2 74h1M26 74h1M17 77h1"/>
<path stroke="#181818" d="M1 59h1M6 59h1M11 60h1M6 63h1M11 63h1M5 64h1M4 66h1M7 68h1M7 69h1M11 70h2M19 70h1M-1 71h1M29 76h1M20 77h1"/>
<path stroke="#1b1b1b" d="M4 61h1M2 62h1M5 63h1M10 63h1M12 63h1M14 63h1M16 65h1M1 70h1M1 73h1M21 74h1M25 74h1M24 75h1M29 77h1"/>
<path stroke="#1e1e1e" d="M-1 58h1M8 60h1M-1 61h1M14 65h1M19 67h1M4 70h1M19 72h1M15 74h1"/>
<path stroke="#202020" d="M3 59h1M4 60h1M-2 61h1M13 62h1M13 63h1M7 65h1M15 66h1M0 73h1M22 73h2"/>
<path stroke="#232323" d="M10 47h1M1 66h1M3 70h1M5 70h1M23 71h1M39 71h1M22 72h1M25 73h1M0 74h1M11 74h1M27 74h1M21 75h1M20 76h1M27 76h2"/>
<path stroke="#262626" d="M4 62h1M-1 63h1M15 65h1M19 65h1M0 66h1M0 70h1M24 73h1"/>
<path stroke="#282828" d="M6 57h1M0 58h1M10 62h1M-2 66h1M15 71h1M2 72h1M1 74h1M30 76h1"/>
<path stroke="#2b2b2b" d="M36 26h1M7 57h1M4 59h1M10 60h1M8 61h1M13 61h1M12 62h1M15 64h2M24 71h1M28 75h1M25 77h1"/>
<path stroke="#2e2e2e" d="M0 57h1M6 58h1M8 58h1M9 60h1M16 63h1M20 66h1M21 68h1M23 70h2M26 73h1M28 74h1"/>
<path stroke="#303030" d="M2 55h1M5 58h1M5 60h1M14 60h1M11 62h1M15 63h1M17 63h1M18 64h1M2 65h1M18 66h1M22 68h1M22 70h1M25 72h1M30 77h1"/>
<path stroke="#333333" d="M31 33h1M2 57h1M-2 58h1M13 59h1M16 60h1M17 61h1M18 67h1M22 69h1M-2 72h1M24 76h1"/>
<path stroke="#363636" d="M38 30h1M41 36h1M1 57h1M1 58h1M9 58h1M13 60h1M16 61h1M17 62h1M25 76h1M19 77h1"/>
<path stroke="#383838" d="M41 28h1M-1 55h1M5 57h1M14 61h1M17 65h1M19 66h1M24 74h1M29 75h1M31 76h1M31 77h1"/>
<path stroke="#3b3b3b" d="M-1 54h2M5 55h1M-1 56h1M9 59h2M18 63h1M9 64h1M20 67h1M15 68h1M15 73h1M27 73h1"/>
<path stroke="#3e3e3e" d="M3 55h1M-2 56h1M0 56h1M8 57h1M15 59h1M15 62h1M3 63h1M14 69h1M43 75h1"/>
<path stroke="#404040" d="M3 54h1M4 55h1M6 56h1M14 59h1M9 63h1M20 65h1M23 68h1M15 72h1M12 74h1M24 77h1"/>
<path stroke="#434343" d="M4 54h1M1 55h1M4 56h1M12 56h1M3 57h1M7 58h1M12 58h2M12 60h1M15 61h1M5 62h1M25 69h1M36 70h1M28 73h1M30 75h1M32 77h1"/>
<path stroke="#464646" d="M8 56h1M5 59h1M11 59h1M17 60h1M14 62h1M19 63h1M17 66h1M17 67h1M25 71h1"/>
<path stroke="#484848" d="M54 19h1M37 24h2M46 24h1M35 25h1M30 26h1M42 26h1M43 27h1M49 27h1M48 29h1M48 30h1M35 32h1M37 32h1M30 36h1M33 36h1M12 46h1M14 47h1M7 56h1M28 61h1M16 62h1M36 63h1M30 64h1M14 67h1M25 70h1M29 74h2"/>
<path stroke="#4b4b4b" d="M49 17h1M52 18h1M3 53h1M-2 54h1M1 54h1M4 57h1M12 59h1M15 60h1M22 67h1M32 68h1M36 69h1M27 71h1"/>
<path stroke="#4e4e4e" d="M38 25h1M40 28h1M6 54h2M5 56h1M18 61h1M26 63h1M19 64h1M26 69h1M28 72h1M31 74h1M33 77h2"/>
<path stroke="#515151" d="M-2 53h1M-2 55h1M9 55h1M11 55h1M1 56h1M11 56h1M14 57h1M8 59h1M26 61h1M19 62h1M28 63h1M22 66h1M21 67h1M23 69h1M43 77h1"/>
<path stroke="#535353" d="M3 56h1M16 57h1M16 59h1M19 61h1M20 63h1M17 64h1M25 68h1M30 69h1M40 73h1"/>
<path stroke="#565656" d="M6 50h1M0 51h1M2 51h1M5 54h1M20 56h1M-2 57h1M21 57h1M10 58h1M28 66h1M26 70h1M29 70h1M26 71h1M31 71h1M31 72h1M31 73h1M36 77h1"/>
<path stroke="#595959" d="M3 49h1M9 51h1M-1 53h1M4 53h1M0 55h1M9 56h2M17 56h1M12 57h1M16 58h1M19 60h1M22 60h1M21 61h1M20 62h1M22 62h1M23 67h1M26 68h1M27 69h1M27 70h1M28 71h1M29 72h1M32 72h1M38 72h1M29 73h1M23 74h1M31 75h1"/>
<path stroke="#5b5b5b" d="M-2 50h2M9 52h1M11 52h1M15 52h2M6 53h1M9 54h1M10 55h1M-1 57h1M15 57h1M17 57h1M18 58h1M18 62h1M23 64h1M27 64h1M22 65h1M30 71h1M35 72h1M35 77h1M38 77h1"/>
<path stroke="#5e5e5e" d="M42 23h1M43 28h1M33 29h1M35 30h1M28 32h1M40 32h1M27 34h1M34 34h1M39 34h1M31 35h1M37 36h2M-1 49h1M7 50h1M-2 51h1M0 52h1M2 52h1M5 52h1M5 53h1M20 53h1M12 54h1M6 55h1M14 55h1M22 55h1M2 56h1M13 56h1M15 56h2M18 59h2M26 60h1M20 61h1M30 62h1M30 63h1M21 66h1M23 66h1M33 66h1M38 67h1M38 68h1M24 69h1M37 69h1M28 70h1M38 70h1M26 72h1M41 72h1M43 72h1M30 73h1M42 73h1M32 74h1M47 74h1M37 75h1M35 76h1M38 76h1M40 76h1M37 77h1M50 77h1"/>
<path stroke="#616161" d="M55 21h1M47 22h1M34 23h1M32 24h1M54 24h1M48 25h1M53 26h2M35 28h1M23 30h1M27 30h1M50 30h1M26 31h1M37 31h1M45 32h1M43 33h1M10 36h1M19 37h1M21 37h1M38 37h2M42 37h1M24 38h1M36 38h1M20 39h1M39 39h1M11 40h1M14 42h1M20 42h1M-1 43h1M2 46h1M-1 48h1M12 48h1M5 49h1M0 50h1M2 50h1M5 50h1M3 51h1M7 51h1M11 51h1M14 51h1M10 52h1M14 52h1M12 53h1M12 55h1M15 55h1M18 56h1M13 57h1M11 58h1M20 58h2M21 59h1M21 60h1M21 63h1M33 63h1M37 63h1M22 64h1M24 64h2M23 65h1M31 65h1M27 66h1M27 67h1M40 67h1M46 68h1M49 68h1M31 70h1M29 71h1M27 72h1M30 72h1M37 74h1M35 75h1M40 75h1M44 75h1M32 76h1M39 77h1"/>
<path stroke="#636363" d="M55 17h1M36 30h1M30 43h1M-1 46h1M6 49h1M9 50h1M1 51h1M6 51h1M4 52h1M6 52h1M7 53h1M10 54h1M13 54h1M7 55h2M13 55h1M19 55h1M14 56h1M11 57h1M15 58h1M18 60h1M21 62h1M20 64h1M21 65h1M25 67h1M27 68h1M28 69h1M34 72h1M36 72h1M32 73h1M35 73h1M33 74h1M42 74h1M33 75h1"/>
<path stroke="#666666" d="M3 48h1M11 48h1M-2 49h1M4 49h1M9 49h1M8 50h1M8 51h1M13 53h1M16 53h1M17 55h1M41 56h1M18 57h1M17 59h1M20 59h1M25 60h1M22 61h1M25 62h1M27 62h1M23 63h1M26 64h1M30 65h1M26 66h1M24 67h1M31 68h1M30 70h1M32 71h1M33 72h1M33 73h1M34 74h3M33 76h1M44 76h1"/>
<path stroke="#696969" d="M7 47h1M10 48h1M7 49h1M-1 51h1M1 52h1M3 52h1M11 54h1M16 54h1M17 58h1M23 61h1M24 62h1M31 69h1M34 76h1M43 76h1"/>
<path stroke="#6b6b6b" d="M40 27h1M37 29h1M-2 48h1M2 48h1M1 50h1M3 50h2M5 51h1M7 52h2M9 53h2M2 54h1M14 54h1M18 55h1M10 57h1M19 58h1M20 60h1M24 65h2M29 65h1M25 66h1M30 68h1M29 69h1M34 69h1M40 74h1M38 75h1M41 75h1M42 76h1"/>
<path stroke="#6e6e6e" d="M38 27h1M37 28h1M38 29h1M-2 47h1M2 47h1M4 47h1M5 48h3M1 49h2M8 49h1M12 50h1M10 51h1M12 51h1M12 52h1M16 55h1M19 57h1M14 58h1M22 59h2M29 66h1M28 67h1M24 68h1M28 68h1M33 69h1M32 70h1M33 71h1M39 74h1M32 75h1M41 77h1"/>
<path stroke="#717171" d="M0 53h3M15 53h1M8 54h1M25 63h1M21 64h1M24 66h1M39 76h1"/>
<path stroke="#737373" d="M0 48h1M-2 52h1M11 53h1M19 56h1M26 67h1M34 75h1M36 76h1"/>
<path stroke="#767676" d="M0 49h1M15 54h1M17 54h1M20 57h1M23 62h1M24 63h1M36 73h1M36 75h1M37 76h1"/>
<path stroke="#797979" d="M13 52h1M14 53h1M23 60h1M33 70h1"/>
<path stroke="#7b7b7b" d="M10 49h1M10 50h1M24 61h1M30 67h1M32 69h1M39 75h1M40 77h1"/>
<path stroke="#7e7e7e" d="M51 20h1M53 20h1M45 21h2M52 21h1M37 22h1M42 22h2M52 22h1M39 23h2M43 23h1M50 23h1M39 24h3M30 25h1M33 25h2M40 25h1M47 25h1M49 25h1M32 26h1M45 26h1M29 27h1M34 27h2M41 27h1M53 27h1M31 28h1M39 28h1M46 28h2M50 28h1M25 29h1M32 29h1M43 29h1M45 29h1M31 30h1M42 30h2M47 30h1M23 31h1M36 31h1M41 31h1M45 31h1M47 31h1M50 31h1M22 32h1M26 32h1M41 32h1M43 32h1M24 33h2M32 33h1M35 33h1M37 33h1M39 33h1M41 33h1M21 34h1M24 34h1M32 34h1M35 34h3M44 34h1M24 35h2M28 35h2M33 35h4M44 35h1M16 36h1M19 36h1M22 36h2M36 36h1M15 37h2M22 37h1M25 37h1M27 37h1M33 37h1M36 37h1M19 38h2M39 38h1M10 39h1M16 39h1M19 39h1M26 39h1M28 39h3M37 39h1M18 40h1M20 40h1M27 40h1M17 41h1M4 42h2M4 44h1M8 44h2M0 45h2M4 45h2M8 45h1M10 45h1M12 45h2M0 46h1M8 46h1M10 46h1M11 47h1M13 47h1M11 49h1M16 49h1M16 51h1M19 51h2M19 52h1M20 54h1M25 55h1M23 57h1M25 57h1M24 58h1M26 58h1M25 59h2M29 60h1M32 60h1M30 61h1M28 62h1M32 62h1M31 64h1M27 65h2M32 65h1M32 66h1M37 66h2M29 67h1M34 67h2M41 67h1M40 68h1M45 68h1M40 69h1M42 69h1M46 69h1M34 70h1M40 70h1M43 70h2M47 70h1M35 71h1M41 71h2M46 71h1M49 71h2M45 72h1M49 72h1M46 73h2M55 73h1M46 74h1M51 74h1M53 74h1M45 75h1M50 75h1M54 75h1M50 76h1M47 77h1M49 77h1"/>
<path stroke="#818181" d="M45 18h1M53 18h1M42 19h1M49 19h1M51 19h3M36 21h1M37 26h1M40 26h1M39 29h2M55 29h1M39 30h1M51 33h1M13 34h1M47 34h1M51 34h1M45 36h1M6 37h1M9 37h1M46 37h1M8 38h1M44 38h1M8 39h1M43 39h1M39 40h2M4 41h1M30 41h1M16 42h1M21 42h1M25 42h1M18 43h1M31 43h1M3 47h1M5 47h1M8 47h1M9 48h1M13 49h1M19 49h1M13 50h1M-1 52h1M17 52h1M24 52h1M8 53h1M17 53h1M26 54h1M20 55h1M21 56h1M29 56h1M32 57h1M22 58h1M32 58h1M25 61h1M37 61h1M41 61h1M26 62h1M43 62h1M39 63h1M41 63h1M44 63h1M29 64h1M39 64h1M43 64h1M45 64h1M30 66h1M50 66h1M32 67h1M49 67h1M54 68h1M35 69h1M50 69h1M54 70h2M36 71h2M53 71h1M37 72h1M39 72h1M41 74h1M44 77h2"/>
<path stroke="#848484" d="M44 17h1M33 21h1M18 30h1M11 33h1M42 41h1M20 45h1M4 48h1M23 49h1M4 51h1M46 62h1M22 63h1M49 63h2"/>
<path stroke="#868686" d="M30 47h1M13 51h1M30 52h1M35 54h1M43 57h1M34 71h1M34 73h1"/>
<path stroke="#898989" d="M54 36h1M26 65h1M29 68h1"/>
<path stroke="#8c8c8c" d="M26 5h1"/>
<path stroke="#8e8e8e" d="M9 57h1"/>
<path stroke="#919191" d="M38 28h1M1 48h1M37 73h1"/>
<path stroke="#949494" d="M11 50h1M18 54h1"/>
<path stroke="#969696" d="M39 27h1M41 76h1"/>
<path stroke="#9c9c9c" d="M38 26h1M24 60h1M31 67h1"/>
<path stroke="#9e9e9e" d="M27 63h1M28 64h1M35 70h1"/>
<path stroke="#a1a1a1" d="M6 47h1M12 49h1M33 68h1M39 73h1"/>
<path stroke="#a4a4a4" d="M36 28h1M18 53h1M22 57h1M31 66h1M42 75h1"/>
<path stroke="#a6a6a6" d="M1 46h1M23 58h1M24 59h1M37 70h1"/>
<path stroke="#a9a9a9" d="M46 20h2M37 21h6M47 21h1M49 21h1M54 21h1M36 22h1M38 22h2M46 22h1M48 22h1M53 22h1M55 22h1M35 23h1M37 23h1M45 23h1M47 23h1M52 23h2M34 24h1M42 24h1M44 24h1M47 24h1M49 24h2M53 24h1M36 25h2M39 25h1M41 25h2M44 25h1M46 25h1M50 25h1M53 25h1M34 26h2M46 26h1M48 26h1M51 26h2M28 27h1M30 27h2M42 27h1M44 27h3M50 27h1M54 27h1M30 28h1M32 28h2M42 28h1M45 28h1M48 28h1M27 29h2M31 29h1M34 29h2M41 29h1M44 29h1M46 29h1M49 29h4M25 30h1M30 30h1M32 30h2M40 30h2M44 30h1M46 30h1M51 30h1M22 31h1M32 31h4M38 31h2M44 31h1M48 31h1M23 32h2M27 32h1M29 32h1M31 32h4M42 32h1M44 32h1M46 32h1M48 32h1M22 33h1M26 33h1M28 33h1M33 33h1M36 33h1M42 33h1M45 33h2M20 34h1M23 34h1M25 34h2M28 34h2M33 34h1M38 34h1M40 34h2M43 34h1M46 34h1M16 35h1M19 35h1M22 35h2M27 35h1M30 35h1M32 35h1M38 35h2M41 35h1M15 36h1M24 36h2M27 36h1M34 36h2M39 36h2M13 37h1M18 37h1M20 37h1M23 37h2M28 37h2M32 37h1M34 37h2M40 37h1M11 38h1M14 38h1M17 38h1M22 38h2M25 38h2M30 38h2M34 38h1M37 38h1M11 39h1M15 39h1M17 39h2M27 39h1M31 39h1M34 39h3M38 39h1M16 40h1M21 40h1M26 40h1M28 40h2M33 40h2M37 40h1M6 42h1M3 43h1M6 43h1M9 43h1M-2 45h2M6 45h1M9 45h1M3 46h3M9 46h1M11 46h1M9 47h1M12 47h1M15 47h1M13 48h5M15 49h1M15 50h3M18 52h1M21 52h1M19 53h1M23 54h2M21 55h1M23 56h2M26 56h1M27 57h1M25 58h1M27 58h2M28 60h1M31 60h1M29 61h1M31 61h1M33 61h1M29 62h1M31 62h1M33 62h2M32 63h1M34 63h1M32 64h1M34 64h1M33 65h2M36 65h3M40 65h1M35 66h2M39 66h1M41 66h1M39 67h1M36 68h2M42 68h2M38 69h1M43 69h3M39 70h1M40 71h1M43 71h3M47 71h1M40 72h1M42 72h1M44 72h1M46 72h2M52 72h1M43 73h1M49 73h2M53 73h2M43 74h1M45 74h1M48 74h1M52 74h1M54 74h1M46 75h1M52 75h2M46 76h3M51 76h1M55 76h1M48 77h1M52 77h1"/>
<path stroke="#acacac" d="M50 17h1M43 18h1M49 18h2M55 18h1M37 19h2M40 19h2M43 19h1M46 19h1M48 19h1M55 19h1M42 20h1M54 20h1M32 22h1M34 22h1M29 24h3M27 25h1M29 25h1M26 27h1M55 27h1M25 28h1M55 28h1M22 29h1M53 29h1M20 30h1M54 30h1M17 31h2M15 32h2M18 32h2M52 32h1M13 33h1M15 33h3M50 33h1M15 34h1M48 34h1M10 35h1M12 35h1M14 35h1M45 35h1M48 35h2M12 36h1M44 36h1M47 36h1M11 37h1M5 38h1M7 38h1M41 38h3M4 39h2M7 39h1M9 39h1M40 39h2M2 40h1M5 40h1M0 41h2M12 41h1M14 41h2M18 41h2M21 41h1M23 41h2M26 41h1M28 41h1M33 41h1M35 41h1M1 42h1M12 42h1M17 42h1M22 42h1M24 42h1M27 42h1M29 42h1M38 42h1M13 43h2M17 43h1M25 43h1M29 43h1M12 44h1M16 44h1M18 44h3M14 45h2M15 46h1M18 46h1M16 47h3M20 48h1M20 49h2M21 50h1M23 53h1M30 56h1M29 57h1M31 57h1M30 58h1M31 59h2M34 61h1M39 61h2M38 62h2M41 62h1M38 63h1M42 63h1M46 65h3M52 66h1M44 67h5M50 67h1M47 68h2M53 68h1M50 70h3M52 71h1M54 71h1M53 72h1"/>
<path stroke="#aeaeae" d="M51 16h1M42 17h1M42 18h1M35 20h1M32 21h1M31 22h1M20 28h1M15 31h2M13 32h1M55 33h1M50 35h2M6 36h1M48 36h2M47 37h1M1 38h1M46 38h1M-2 39h1M0 39h2M44 39h1M-1 40h1M42 40h1M44 40h1M40 41h1M35 43h1M24 44h1M22 45h1M26 45h2M29 45h1M22 46h1M24 46h1M21 47h2M24 51h2M27 51h1M28 52h1M29 54h3M33 55h1M37 56h1M35 57h1M37 58h1M40 58h1M42 58h1M44 58h1M39 59h2M40 60h2M47 60h1M50 60h1M43 61h2M48 61h1M53 61h1M45 62h1M47 62h1M54 62h2M46 63h1M48 63h1M51 63h2M48 64h1M50 64h1M52 64h1M51 65h1M53 65h3M54 66h1"/>
<path stroke="#b1b1b1" d="M51 15h1M45 16h1M40 17h1M36 18h1M13 31h1M4 36h1M0 38h1M49 38h1M44 41h1M42 42h1M34 45h1M37 45h1M26 46h1M28 46h1M32 46h1M27 47h1M29 49h1M27 50h1M39 53h1M38 54h1M46 54h1M36 55h1M38 55h1M40 55h1M48 55h1M47 56h1M42 57h1M45 57h1M51 57h1M54 57h1M45 58h1M48 58h1M49 59h1M53 59h1M52 60h1M38 74h1"/>
<path stroke="#b4b4b4" d="M39 16h1M28 22h1M21 26h1M19 27h1M31 47h1M34 47h1M30 48h1M36 48h1M34 49h2M38 49h1M36 50h1M35 51h1M44 51h1M40 52h1M50 52h1M48 53h2M52 53h2M54 55h1"/>
<path stroke="#b7b7b7" d="M18 -2h1M3 0h1M6 3h1M28 3h1M29 4h1M41 5h1M-1 10h1M14 10h1M25 10h1M48 12h1M25 16h1M32 17h1M6 21h1M7 28h1M0 36h1M41 45h1M45 46h1M45 49h1"/>
<path stroke="#bcbcbc" d="M42 77h1"/>
<path stroke="#bfbfbf" d="M-1 47h1"/>
<path stroke="#c1c1c1" d="M0 47h1"/>
<path stroke="#c4c4c4" d="M37 27h1M1 47h1M8 48h1"/>
<path stroke="#c7c7c7" d="M38 73h1"/>
<path stroke="#d4d4d4" d="M39 26h1"/>
<path stroke="#d9d9d9" d="M15 51h1"/>
<path stroke="#dfdfdf" d="M36 27h1M19 54h1"/>
<path stroke="#e4e4e4" d="M36 29h1M37 30h1M14 50h1"/>
<path stroke="#e7e7e7" d="M34 68h1"/>
<path stroke="#eaeaea" d="M33 67h1M38 71h1"/>
<path stroke="#ececec" d="M-2 46h1M41 73h1"/>
<path stroke="#efefef" d="M45 76h1M46 77h1"/>
<path stroke="#f2f2f2" d="M35 68h1"/>
</g></g>
<path d="M144.7 1247.5L616.0 1138.6" stroke="#f00" stroke-width="5.3" stroke-linecap="round" stroke-dasharray="14.4 26.15" fill="none"/>
</g>
<rect x="144.2" y="1006.4" width="463.8" height="424.0" fill="none" stroke="#000" stroke-width="2.6"/>
<path d="M298.8 1006.4v12.8M298.8 1430.4v-12.8M453.4 1006.4v12.8M453.4 1430.4v-12.8M144.2 1059.4h12.8M608.0 1059.4h-12.8M144.2 1165.4h12.8M608.0 1165.4h-12.8M144.2 1271.4h12.8M608.0 1271.4h-12.8M144.2 1377.4h12.8M608.0 1377.4h-12.8" stroke="#000" stroke-width="2.6" fill="none"/>
<path d="M133.8 1233.2L365.8 1233.2" stroke="#f0f" stroke-width="5.8" stroke-linecap="round" stroke-dasharray="0 16.5" fill="none"/>
<text transform="translate(163.16,1051.20) scale(0.9464,1)" font-size="39.30" style="fill:#fff">45 s, -0.5 ps</text>
<text transform="translate(167.22,1403.50) scale(0.9880,1)" font-size="50.20">(c)</text>
<text transform="translate(77.22,1071.90) scale(0.9650,1)" font-size="39.30">0.4</text>
<text transform="translate(77.98,1177.90) scale(0.9650,1)" font-size="39.30">0.2</text>
<text transform="translate(77.41,1283.90) scale(0.9650,1)" font-size="39.30">0.0</text>
<text transform="translate(65.47,1389.90) scale(0.9650,1)" font-size="39.30">-0.2</text>
<text transform="translate(133.34,1473.50) scale(0.9600,1)" font-size="39.30">0</text>
<text transform="translate(288.03,1473.50) scale(0.9600,1)" font-size="39.30">3</text>
<text transform="translate(442.44,1473.50) scale(0.9600,1)" font-size="39.30">6</text>
<text transform="translate(597.23,1473.50) scale(0.9600,1)" font-size="39.30">9</text>
<g clip-path="url(#cp10)">
<g filter="url(#hm)">
<rect x="640.3" y="91.5" width="498.2" height="446.3" fill="#fff"/>
<g transform="translate(657.50,105.49) scale(8.5889,5.5789)" stroke-width="1.08" fill="none">
<path stroke="#000000" d="M-2 59h2M2 59h1M-2 60h7M-2 61h12M-2 62h15M17 62h1M-2 63h21M21 63h1M-2 64h27M-2 65h30M-2 66h32M-2 67h33M-2 68h34M-2 69h37M-2 70h37M-2 71h41M-2 72h43M-2 73h45M-2 74h45M-2 75h47M46 75h1M-2 76h50M49 76h1M-2 77h52"/>
<path stroke="#030303" d="M10 61h2M32 68h1M35 70h2"/>
<path stroke="#050505" d="M0 59h1M6 60h1M14 62h1M31 67h1M43 73h1"/>
<path stroke="#080808" d="M1 59h1M15 62h1M30 66h1M39 71h1M45 75h1M48 76h1M50 76h1M50 77h1"/>
<path stroke="#0b0b0b" d="M13 62h1M18 62h1M19 63h1M25 64h1M34 68h1M35 69h1M44 74h1"/>
<path stroke="#0d0d0d" d="M3 59h1M16 62h1M20 63h1M26 64h1M28 65h1M37 70h1M41 72h1M43 74h1M51 77h1"/>
<path stroke="#101010" d="M7 60h2M32 67h1M45 74h1M52 77h1"/>
<path stroke="#131313" d="M0 58h1M9 60h1M29 65h1M38 70h1M42 72h1M50 75h1"/>
<path stroke="#151515" d="M-2 58h2M1 58h1M5 60h1M12 61h1M22 63h3M36 69h1M48 75h1"/>
<path stroke="#181818" d="M4 59h1M20 62h1M25 63h1M30 65h1M33 68h1M35 68h1M44 73h1M47 75h1M55 77h1"/>
<path stroke="#1b1b1b" d="M13 61h1M27 64h1M37 69h1M51 76h1"/>
<path stroke="#1e1e1e" d="M10 60h1M31 66h1M41 71h1M45 73h1"/>
<path stroke="#202020" d="M2 58h1M13 60h1M17 61h1M21 62h1M33 67h1M46 74h1"/>
<path stroke="#232323" d="M3 58h1M7 59h1M14 61h3M38 69h1M39 70h1M43 72h2M49 75h1M54 77h1"/>
<path stroke="#262626" d="M36 26h1M5 59h2M8 59h1M19 62h1M23 62h1M29 64h1M34 67h1M36 67h1M36 68h2M40 71h1"/>
<path stroke="#282828" d="M1 57h1M11 60h2M14 60h1M18 61h1M27 63h1M30 64h1M41 70h1M44 71h1M46 73h1M47 74h1M53 77h1"/>
<path stroke="#2b2b2b" d="M26 63h1M28 64h1M42 71h1M45 72h1M48 73h2M48 74h2M51 75h1"/>
<path stroke="#2e2e2e" d="M-2 57h2M9 59h2M15 60h1M19 61h1M27 62h1M32 66h1M34 66h1M38 68h1M41 69h1M47 73h1"/>
<path stroke="#303030" d="M22 62h1M24 62h1M26 62h1M32 65h1M36 66h1M38 67h1M43 71h1M45 71h1M53 76h1"/>
<path stroke="#333333" d="M43 7h1M2 57h1M6 58h1M16 60h1M31 65h1M35 67h1M37 67h1M46 72h1M50 74h1M52 76h1M55 76h1"/>
<path stroke="#363636" d="M0 57h1M11 59h2M25 62h1M33 65h1M33 66h1M43 68h1M40 69h1M42 70h1"/>
<path stroke="#383838" d="M7 57h1M7 58h1M21 61h1M31 64h1M35 66h1M39 67h1M43 69h2M44 70h1M48 72h1M54 75h1"/>
<path stroke="#3b3b3b" d="M3 57h1M5 58h1M8 58h1M13 59h1M18 60h1M20 61h1M32 64h1M41 68h1M39 69h1M47 71h1M49 72h1M53 75h1M55 75h1"/>
<path stroke="#3e3e3e" d="M1 56h1M6 57h1M8 57h1M4 58h1M15 59h1M19 60h1M21 60h1M30 63h1M39 68h1M42 68h1M40 70h1M43 70h1M50 73h1M53 73h1M52 75h1M54 76h1"/>
<path stroke="#404040" d="M-1 56h1M16 59h1M22 61h2M28 62h1M29 63h1M34 64h1M40 68h1M46 71h1M47 72h1M51 74h1"/>
<path stroke="#434343" d="M5 50h1M4 57h2M16 58h1M14 59h1M21 59h1M17 60h1M20 60h1M24 60h1M25 61h1M33 64h1M35 65h1M42 67h1M42 69h1M45 69h1M46 70h1M53 72h1"/>
<path stroke="#464646" d="M10 58h2M13 58h1M24 61h1M55 62h1M28 63h1M34 65h1M39 66h1M45 70h1M50 72h1M51 73h2M54 73h1"/>
<path stroke="#484848" d="M-2 56h1M2 56h1M9 58h1M12 58h1M18 59h2M28 61h1M30 62h1M35 64h1M40 67h1M47 69h1M50 70h1M48 71h1M51 72h1"/>
<path stroke="#4b4b4b" d="M21 7h1M5 56h1M14 58h1M17 59h1M22 60h2M25 60h2M26 61h1M31 62h1M37 66h2M41 67h1M47 70h1M51 70h1M51 71h1"/>
<path stroke="#4e4e4e" d="M0 56h1M13 56h1M9 57h1M17 58h1M27 60h1M27 61h1M29 62h1M32 62h1M31 63h1M36 65h1M40 66h1M46 69h1M49 70h1M49 71h2M52 72h1M54 72h2"/>
<path stroke="#515151" d="M18 58h1M24 59h1M52 71h2M55 73h1M52 74h2"/>
<path stroke="#535353" d="M3 56h1M6 56h1M8 56h1M16 57h1M27 58h1M20 59h1M23 59h1M35 62h1M32 63h1M37 65h1M41 66h1"/>
<path stroke="#565656" d="M12 52h1M-2 55h1M14 55h1M33 55h1M11 56h1M10 57h1M12 57h1M21 58h1M31 60h1M36 64h3M49 65h1M42 66h1M43 67h1M51 67h2M46 68h1M54 71h1M54 74h1"/>
<path stroke="#595959" d="M1 51h1M12 51h1M6 55h1M11 55h1M7 56h1M9 56h1M14 57h1M43 57h1M19 58h2M26 58h1M22 59h1M31 61h1M34 62h1M48 64h1M48 65h1M46 67h1M45 68h1M48 69h1M52 70h1M55 74h1"/>
<path stroke="#5b5b5b" d="M12 50h1M9 54h1M0 55h1M5 55h1M7 55h2M10 55h1M16 55h1M14 56h1M11 57h1M13 57h1M15 57h1M17 57h1M20 57h1M15 58h1M47 58h1M37 59h1M47 59h1M33 60h1M45 60h1M34 63h1M37 63h1M38 65h2M45 66h1M53 69h1M48 70h1"/>
<path stroke="#5e5e5e" d="M0 52h1M4 52h1M-1 53h1M10 54h1M18 54h1M37 54h1M-1 55h1M13 55h1M4 56h1M10 56h1M22 57h1M23 58h1M25 59h2M28 59h1M28 60h1M34 60h1M55 60h1M29 61h2M33 62h1M33 63h1M39 63h1M45 64h1M44 68h1M51 68h2M50 69h2"/>
<path stroke="#616161" d="M-1 51h2M-1 52h1M1 52h1M0 53h1M0 54h1M5 54h1M11 54h1M14 54h1M1 55h1M3 55h1M12 56h1M33 56h1M23 57h1M29 58h1M27 59h1M37 60h1M32 61h1M36 63h1M46 66h1M50 67h1M52 69h1M53 70h1"/>
<path stroke="#636363" d="M11 50h1M13 51h1M6 53h1M11 53h1M6 54h1M2 55h1M29 56h1M29 57h1M32 57h1M37 57h1M42 57h1M24 58h2M38 58h1M31 59h1M33 59h2M29 60h1M32 60h1M36 60h1M40 61h1M36 62h1M41 62h1M40 63h1M39 64h1M41 64h1M40 65h1M43 66h1M47 66h3M54 66h1M47 68h1M49 68h1"/>
<path stroke="#666666" d="M2 52h1M1 53h2M5 53h1M12 53h1M18 53h1M-2 54h1M3 54h2M15 54h1M17 55h1M19 55h1M20 56h1M21 57h1M26 57h2M28 58h1M36 58h1M29 59h1M32 59h1M38 59h1M34 61h1M41 61h1M38 62h1M42 62h1M54 62h1M38 63h1M41 63h2M49 63h1M49 64h1M41 65h3M52 66h1M55 66h1M47 67h1M48 68h1M50 68h1"/>
<path stroke="#696969" d="M2 50h1M-2 51h1M11 51h1M-2 52h1M5 52h1M4 53h1M37 53h1M4 55h1M18 55h1M17 56h2M31 56h1M24 57h1M28 57h1M33 57h1M35 58h1M35 61h1M37 61h1M45 61h1M37 62h1M48 63h1M42 64h1M44 64h1M46 64h2M51 64h2M44 65h2M50 65h2M53 65h1M44 66h1M50 66h1M49 69h1M55 69h1"/>
<path stroke="#6b6b6b" d="M6 51h2M3 52h1M3 53h1M8 53h1M15 53h1M1 54h1M8 54h1M12 55h1M20 55h1M22 55h1M23 56h1M27 56h1M18 57h1M31 57h1M22 58h1M30 58h1M45 58h1M30 60h1M39 62h2M43 62h1M43 63h1M52 63h1M53 64h1M51 66h1M49 67h1M53 67h1M53 68h2M54 69h1M54 70h1M55 71h1"/>
<path stroke="#6e6e6e" d="M4 51h1M6 52h1M8 52h1M-2 53h1M10 53h1M-1 54h1M7 54h1M12 54h1M16 54h1M15 55h1M15 56h2M19 56h1M25 56h1M30 56h1M30 59h1M36 59h1M49 59h1M36 61h1M38 61h1M42 61h1M44 62h1M35 63h1M44 63h2M40 64h1M53 66h1M55 68h1"/>
<path stroke="#717171" d="M10 48h1M6 49h1M-2 50h2M11 52h1M13 53h1M21 54h1M33 54h1M26 55h1M30 55h1M21 56h1M24 56h1M19 57h1M30 57h1M35 59h1M44 60h1M33 61h1M53 62h1M46 65h1M54 65h1M44 67h2M48 67h1M55 67h1"/>
<path stroke="#737373" d="M6 50h1M2 51h1M17 53h1M19 54h1M9 55h1M23 55h2M34 55h1M43 55h1M22 56h1M28 56h1M25 57h1M31 58h2M37 58h1M42 59h1M45 59h1M53 59h1M38 60h1M39 61h1M46 61h1M45 62h1M48 62h1M50 63h2M43 64h1M50 64h1M54 64h1M47 65h1M52 65h1M55 70h1"/>
<path stroke="#767676" d="M33 19h1M9 51h1M14 51h1M7 53h1M9 53h1M14 53h1M13 54h1M34 54h1M39 54h1M42 54h1M37 55h1M26 56h1M38 57h1M33 58h1M46 59h1M53 61h1M52 62h1M46 63h1"/>
<path stroke="#797979" d="M45 19h1M43 20h1M7 52h1M16 53h1M2 54h1M22 54h1M24 54h1M38 54h1M41 54h1M29 55h1M32 55h1M36 55h1M34 56h1M50 57h1M48 60h2M44 61h1M49 61h1M46 62h1"/>
<path stroke="#7b7b7b" d="M33 26h1M2 48h1M9 48h1M5 49h1M0 50h1M8 51h1M48 53h1M17 54h1M23 54h1M40 54h1M21 55h1M44 57h1M41 59h1M35 60h1M50 62h1M47 63h1M54 67h1"/>
<path stroke="#7e7e7e" d="M37 19h1M47 20h1M-2 48h1M3 49h1M14 50h1M16 50h1M3 51h1M5 51h1M19 51h1M19 53h1M32 56h1M34 58h1M52 58h1M44 59h1M53 63h1M55 65h1"/>
<path stroke="#818181" d="M27 24h1M10 47h1M8 50h1M15 50h1M45 50h1M30 54h1M50 54h1M39 57h1M39 58h1M42 60h1M48 61h1M47 62h1M55 63h1"/>
<path stroke="#848484" d="M10 50h1M18 50h1M16 51h1M47 51h1M10 52h1M25 54h2M31 54h1M40 55h1M40 58h1M43 58h1M39 59h1M43 60h1M50 61h1"/>
<path stroke="#868686" d="M27 17h1M34 18h1M28 24h1M35 25h1M1 50h1M17 51h1M9 52h1M36 54h1M46 54h1M28 55h1M31 55h1M35 56h1M47 56h1M35 57h1M43 59h1M39 60h1M51 60h1M43 61h1M47 61h1M51 61h1"/>
<path stroke="#898989" d="M37 18h2M19 20h1M40 20h1M-2 49h1M17 50h1M10 51h1M15 51h1M19 52h1M30 52h1M55 52h1M20 54h1M25 55h1M49 58h1M46 60h1M49 62h1"/>
<path stroke="#8c8c8c" d="M42 16h1M28 18h1M28 19h2M38 27h1M9 47h1M-1 48h1M40 49h1M3 50h2M9 50h1M13 50h1M55 51h1M13 52h1M15 52h1M20 53h1M26 53h1M38 53h1M43 54h1M27 55h1M40 56h2M34 57h1M36 57h1M52 57h1M55 59h1"/>
<path stroke="#8e8e8e" d="M44 16h1M34 19h1M20 21h1M26 48h2M26 49h1M19 50h1M18 51h1M27 52h1M29 52h1M27 53h1M30 53h1M41 55h1M47 55h1M40 57h1M42 58h1M46 58h1M54 63h1"/>
<path stroke="#919191" d="M23 22h1M3 47h1M19 47h1M8 48h1M-1 49h1M22 51h1M18 52h1M24 52h1M27 54h1M48 54h1M39 55h1M51 57h1M54 57h1M50 58h1M40 59h1M50 59h1M54 59h1M40 60h1M52 61h1M54 61h1M55 64h1"/>
<path stroke="#949494" d="M43 16h1M38 19h1M28 20h1M28 21h1M9 45h1M17 45h1M20 47h1M34 49h1M41 49h1M29 50h1M46 51h1M32 53h1M44 58h1M41 60h1M53 60h1M51 62h1"/>
<path stroke="#969696" d="M32 16h1M42 18h1M28 23h1M3 48h1M1 49h1M18 49h1M24 49h1M7 50h1M21 50h1M26 50h1M28 50h1M21 51h1M37 52h1M39 53h1M29 54h1M47 54h1M36 56h2M50 56h1M54 60h1"/>
<path stroke="#999999" d="M39 19h1M37 20h1M29 21h3M20 29h1M23 40h1M8 43h1M11 47h1M4 49h1M17 49h1M33 49h1M14 52h1M16 52h1M20 52h1M42 53h1M38 55h1M46 56h1M48 56h1M48 59h1"/>
<path stroke="#9c9c9c" d="M28 17h1M33 18h1M24 20h1M39 20h1M44 21h1M22 22h1M35 23h1M7 49h1M51 49h1M20 50h1M23 51h1M47 52h1M49 54h1M47 57h1M55 61h1"/>
<path stroke="#9e9e9e" d="M20 18h1M23 19h1M46 19h1M25 20h1M34 20h1M48 22h1M29 24h1M40 26h1M25 27h1M34 27h1M24 30h1M12 42h1M15 43h1M38 45h1M36 46h1M38 46h1M-2 47h1M2 49h1M8 49h1M28 52h1M31 52h1M53 53h1M32 54h1M55 58h1M52 60h1"/>
<path stroke="#a1a1a1" d="M26 20h1M23 23h1M3 44h1M0 46h1M45 46h1M2 47h1M20 49h1M28 49h1M43 49h1M27 50h1M37 50h1M40 50h1M45 51h1M21 53h1M23 53h1M40 53h1M54 53h1M39 56h1M53 56h1"/>
<path stroke="#a4a4a4" d="M25 17h1M45 17h1M35 18h1M36 19h1M38 20h1M42 20h1M46 20h1M39 21h1M49 21h1M27 23h1M37 27h1M32 45h1M37 48h1M11 49h1M32 50h1M34 52h1M40 52h1M24 53h1M29 53h1M43 53h1M43 56h1M55 56h1M51 58h1M53 58h1"/>
<path stroke="#a6a6a6" d="M44 17h1M26 19h1M44 19h1M31 20h1M44 20h1M19 21h1M24 22h1M31 25h1M16 28h1M26 28h1M20 30h1M31 42h1M15 44h1M11 45h1M31 45h1M-2 46h1M12 47h1M27 47h1M36 49h1M28 51h1M33 51h1M42 51h1M22 53h1M33 53h1M52 59h1"/>
<path stroke="#a9a9a9" d="M29 18h1M27 19h1M42 19h1M23 20h1M20 22h1M22 23h1M23 24h1M26 24h1M41 26h1M22 28h1M34 28h1M36 29h1M16 43h1M33 44h1M10 45h1M14 46h1M1 48h1M17 48h1M30 48h1M0 49h1M13 49h1M37 49h1M22 50h1M24 50h1M39 50h1M44 50h1M24 51h2M27 51h1M30 51h1M35 51h1M38 52h1M47 53h1M45 57h1M50 60h1"/>
<path stroke="#acacac" d="M47 17h1M32 18h1M36 18h1M39 18h1M47 19h1M34 21h1M42 21h1M31 22h1M31 23h1M39 24h1M32 25h1M38 30h1M37 45h1M1 47h1M8 47h1M11 48h1M18 48h1M29 48h1M33 48h1M23 49h1M35 49h1M34 51h1M17 52h1M25 53h1M46 53h1M51 54h1M35 55h1M46 55h1M44 56h1M41 58h1M48 58h1"/>
<path stroke="#aeaeae" d="M43 18h1M35 19h1M22 21h1M30 24h1M40 24h1M31 26h1M33 27h1M17 28h1M34 32h1M19 42h1M0 43h1M6 43h1M8 44h1M16 44h1M26 44h1M5 46h1M10 46h1M15 46h1M31 46h1M14 47h1M40 47h1M14 49h1M42 49h1M38 50h1M52 50h1M55 50h1M51 51h1M41 52h1M31 53h1M34 53h1M49 53h1M51 56h1M54 56h1M47 60h1"/>
<path stroke="#b1b1b1" d="M43 17h1M27 18h1M41 18h1M43 19h1M33 20h1M32 22h1M42 22h1M35 24h1M25 25h1M28 25h1M36 25h1M43 27h1M39 28h1M32 30h1M39 30h1M32 41h1M14 43h1M25 44h1M36 44h1M8 46h1M13 46h1M19 46h2M52 46h1M17 47h1M26 47h1M28 48h1M9 49h1M29 49h1M31 50h1M33 50h2M31 51h2M37 51h1M54 51h1M21 52h1M25 52h1M46 52h1M36 53h1M42 55h1M44 55h1M38 56h1"/>
<path stroke="#b4b4b4" d="M30 15h1M42 17h1M24 19h1M21 21h1M43 21h1M35 22h1M17 25h1M39 26h1M22 29h1M5 44h1M31 44h1M20 45h1M40 45h1M4 46h1M6 46h1M51 46h1M43 48h2M51 50h1M32 52h1M36 52h1M53 52h1M28 54h1M35 54h1M46 57h1M53 57h1"/>
<path stroke="#b7b7b7" d="M51 16h2M47 18h1M20 19h1M50 20h1M29 22h1M49 22h1M31 24h1M34 26h1M35 29h1M26 31h1M16 41h1M-1 44h1M9 46h1M33 46h1M37 46h1M13 47h1M16 47h1M5 48h1M10 49h1M19 49h1M32 49h1M43 50h1M50 50h1M43 52h1M54 52h1M52 53h1M55 54h1M51 55h1M49 56h1M41 57h1"/>
<path stroke="#b9b9b9" d="M25 21h1M35 21h1M20 23h2M29 23h1M32 23h1M40 25h1M32 26h1M35 26h1M17 27h1M23 27h1M20 28h1M28 31h1M7 40h1M22 40h1M34 41h1M37 41h1M3 43h2M18 44h1M16 45h1M18 45h1M3 46h1M4 47h2M32 47h1M36 47h1M53 47h1M0 48h1M6 48h1M25 48h1M38 48h1M49 48h1M27 49h1M30 49h2M44 49h1M49 49h1M25 50h1M29 51h1M41 51h1M22 52h1M52 52h1M28 53h1M50 53h1M48 55h1M53 55h1M42 56h1"/>
<path stroke="#bcbcbc" d="M36 15h1M30 16h1M34 16h1M32 17h1M48 18h2M19 19h1M20 20h1M32 20h1M36 21h1M45 21h1M25 22h1M20 25h1M30 25h1M38 25h2M20 27h1M21 29h1M25 30h1M7 41h1M-1 43h1M24 43h1M45 43h1M55 43h1M39 45h1M23 47h1M30 47h1M37 47h1M20 48h1M23 48h1M36 48h1M40 48h1M23 50h1M40 51h1M44 51h1M45 53h1M55 53h1M52 54h1M45 55h1M52 56h1M48 57h1"/>
<path stroke="#bfbfbf" d="M27 15h1M35 15h1M45 16h1M31 17h1M41 17h1M25 18h1M18 20h1M28 22h1M40 23h1M42 23h1M48 23h1M26 27h1M29 27h1M40 27h1M39 29h1M32 34h1M28 36h1M19 39h1M0 44h1M6 44h1M15 45h1M26 45h1M28 46h1M32 46h1M18 47h1M25 47h1M4 48h1M39 48h1M25 49h1M39 49h1M36 50h1M33 52h1M48 52h1M41 53h1M53 54h1"/>
<path stroke="#c1c1c1" d="M42 13h1M42 14h1M40 17h1M50 18h1M18 21h1M33 21h1M46 21h1M19 22h1M54 22h1M21 24h1M41 25h1M46 25h1M16 27h1M13 28h1M25 28h1M11 29h1M23 29h1M30 29h1M34 29h1M33 32h1M17 37h1M18 39h1M22 41h1M0 42h1M17 42h1M-2 43h1M9 43h1M9 44h1M-1 45h1M28 45h1M33 45h1M7 46h1M29 46h1M52 47h1M7 48h1M19 48h1M26 51h1M35 52h1M44 52h1M51 59h1"/>
<path stroke="#c4c4c4" d="M46 13h1M45 14h1M29 15h1M44 15h2M25 16h1M37 16h1M48 16h1M30 17h1M38 17h1M46 17h1M48 17h1M24 18h1M35 20h1M13 21h1M23 21h1M48 21h1M13 22h1M37 22h1M45 22h1M33 23h2M19 24h1M24 25h1M26 25h1M33 25h1M37 26h1M43 26h1M40 28h1M25 31h1M26 32h1M28 35h1M27 36h1M10 38h1M20 38h1M26 38h1M51 39h1M1 41h1M6 41h1M11 42h1M33 42h1M38 44h1M0 45h1M27 46h1M46 46h1M15 47h1M15 48h1M51 48h1M55 48h1M16 49h1M50 49h1M30 50h1M26 52h1M42 52h1M45 52h1M45 56h1"/>
<path stroke="#c7c7c7" d="M25 15h1M31 16h1M33 16h1M53 17h1M40 19h1M30 20h1M24 21h1M30 22h1M26 23h1M20 24h1M24 24h1M32 24h1M30 26h1M15 27h1M27 28h1M17 29h1M40 29h1M19 30h1M28 30h1M21 31h1M34 31h1M25 32h1M13 33h1M22 37h1M24 41h1M39 41h1M6 42h1M14 42h1M22 42h1M32 42h1M18 43h2M38 43h1M19 45h1M25 45h1M41 45h1M45 45h1M40 46h1M0 47h1M47 47h1M51 47h1M46 49h1M42 50h1M46 50h1M51 53h1M50 55h1M54 58h1"/>
<path stroke="#c9c9c9" d="M19 17h1M46 18h1M33 22h1M44 23h1M46 23h1M8 24h1M22 24h1M42 24h2M27 25h1M37 25h1M11 26h1M44 27h1M29 29h1M38 29h1M35 30h1M31 32h1M8 36h1M31 36h1M25 38h1M44 40h1M10 41h1M33 41h1M30 43h1M4 44h1M43 44h1M-2 45h1M53 45h1M23 46h2M42 46h1M31 48h1M38 51h1M51 52h1"/>
<path stroke="#cccccc" d="M23 15h1M37 15h1M42 15h1M37 17h1M23 18h1M44 18h1M14 22h1M47 22h1M19 23h1M39 23h1M36 24h1M16 25h1M15 26h1M22 26h1M47 26h1M22 27h1M24 27h1M30 27h1M22 30h1M29 31h1M30 34h1M15 35h1M12 39h1M37 39h1M1 40h1M18 40h1M12 41h1M29 41h1M30 42h1M17 44h1M5 45h1M29 45h1M30 46h1M35 46h1M45 49h1M47 49h1M49 52h1M49 55h1M52 55h1"/>
<path stroke="#cfcfcf" d="M37 14h1M50 14h1M35 16h2M41 16h1M50 16h1M22 17h1M32 19h1M36 20h1M41 20h1M45 20h1M10 21h1M40 21h1M21 22h1M40 22h1M43 22h2M53 23h1M17 24h1M19 25h1M27 26h1M42 27h1M21 28h1M37 28h1M29 30h1M33 30h1M30 32h1M13 38h1M19 38h1M0 39h1M39 40h1M50 40h1M9 41h1M31 41h1M9 42h1M7 43h1M28 43h1M54 43h1M7 44h1M10 44h1M23 44h1M36 45h1M39 46h1M21 47h1M28 47h1M44 47h1M14 48h1M48 48h1M52 49h1M49 51h1M52 51h1M23 52h1M54 55h2"/>
<path stroke="#d1d1d1" d="M24 14h1M32 14h1M46 14h1M33 15h1M24 17h1M33 17h1M54 17h1M25 19h1M22 20h1M10 22h1M18 22h1M43 23h1M47 24h1M23 25h1M34 25h1M36 28h1M38 28h1M41 28h1M19 29h1M40 30h1M18 37h1M11 38h1M17 38h1M24 40h1M2 41h1M3 42h1M13 42h1M29 42h1M5 43h1M29 43h1M1 44h1M24 44h1M29 44h1M1 46h1M12 46h1M22 46h1M35 47h1M21 49h1M48 51h1M50 51h1M44 54h1"/>
<path stroke="#d4d4d4" d="M30 13h1M43 13h1M43 15h1M36 17h1M18 18h1M30 18h1M55 18h1M27 20h1M29 20h1M11 25h1M42 25h1M25 26h1M10 29h1M23 30h1M46 30h1M32 32h1M29 34h1M10 37h1M23 37h1M45 38h1M15 39h1M38 40h1M13 43h1M25 43h1M37 43h1M49 43h1M22 44h1M24 45h1M13 48h1M35 48h1M54 50h1M20 51h1M53 51h1"/>
<path stroke="#d7d7d7" d="M48 13h1M28 15h1M38 16h1M54 16h1M29 17h1M19 18h1M31 18h1M54 20h1M14 21h1M17 21h1M41 21h1M39 22h1M16 23h1M47 23h1M33 24h1M12 25h1M22 25h1M14 26h1M38 26h1M41 27h1M31 28h1M33 28h1M41 30h1M27 31h1M33 31h1M27 32h1M32 33h1M28 34h1M12 35h1M24 36h1M-2 37h1M13 37h1M26 37h1M9 38h1M16 38h1M11 39h1M21 39h1M21 40h1M49 40h1M5 42h1M15 42h1M23 42h1M48 43h1M14 44h1M19 44h1M21 45h1M25 46h1M24 48h1M12 49h1M36 51h1M54 54h1M49 57h1"/>
<path stroke="#d9d9d9" d="M29 14h1M44 14h1M47 14h1M24 16h1M47 16h1M23 17h1M35 17h1M54 18h1M50 19h1M48 20h2M27 21h1M27 22h1M41 22h1M38 24h1M15 25h1M43 25h1M28 26h1M49 26h1M28 27h1M32 27h1M18 28h1M46 28h1M18 29h1M34 30h1M36 30h1M35 31h1M20 33h1M35 35h1M11 36h1M25 36h1M6 37h2M0 38h1M19 40h1M40 40h1M23 41h1M38 41h1M52 41h1M1 42h1M4 42h1M20 42h1M28 42h1M44 42h1M52 42h1M12 43h1M37 44h1M40 44h1M6 45h1M46 45h1M44 46h1M31 47h1M54 47h1M50 52h1M44 53h1M45 54h1M55 57h1"/>
<path stroke="#dcdcdc" d="M41 13h1M47 13h1M31 14h1M36 14h1M34 15h1M46 15h1M22 16h1M29 16h1M46 16h1M17 18h1M55 19h1M26 22h1M16 24h1M48 24h1M14 25h1M18 25h1M7 26h1M13 26h1M29 26h1M18 27h1M47 27h1M35 28h1M45 28h1M26 29h1M16 31h1M41 31h1M15 32h1M20 32h1M24 32h1M11 34h1M20 34h1M36 34h1M17 35h1M1 37h1M15 37h1M37 38h1M11 40h1M28 40h1M5 41h1M48 42h1M10 43h1M22 43h1M40 43h1M50 43h1M13 44h1M45 44h1M52 44h1M27 45h1M55 45h1M39 47h1M53 48h1M15 49h1M39 51h1"/>
<path stroke="#dfdfdf" d="M33 12h1M25 14h1M35 14h1M32 15h1M49 17h1M51 17h1M21 18h1M51 21h1M46 22h1M51 22h1M24 23h1M45 23h1M45 24h1M48 25h1M10 27h1M19 27h1M21 27h1M44 29h1M21 30h1M42 30h1M30 31h2M37 31h1M28 32h1M10 35h1M2 36h1M3 38h1M18 38h1M31 38h1M35 39h1M16 40h1M27 40h1M42 40h1M0 41h1M1 43h1M11 43h1M8 45h1M34 46h1M50 46h1M53 46h2M6 47h2M29 47h1M34 47h1M43 47h1M46 47h1M55 47h1M12 48h1M32 48h1M34 48h1M47 48h1M54 49h2"/>
<path stroke="#e1e1e1" d="M26 15h1M53 16h1M26 17h1M39 17h1M41 19h1M51 19h1M32 21h1M17 23h2M50 23h2M12 24h1M25 24h1M39 27h1M26 30h1M18 31h1M20 31h1M36 32h1M16 37h1M6 38h1M12 38h1M30 39h1M50 39h1M51 40h1M18 42h1M17 43h1M20 44h1M55 44h1M2 46h1M18 46h1M-1 47h1M41 48h1M48 49h1M35 53h1"/>
<path stroke="#e4e4e4" d="M30 12h1M43 12h1M47 12h2M34 13h1M45 13h1M30 14h1M38 15h1M52 17h1M49 19h1M11 21h1M50 21h1M52 21h1M11 22h1M41 24h1M50 24h1M21 25h1M10 26h1M18 26h1M23 26h1M26 26h1M44 26h1M27 27h1M30 28h1M13 32h1M23 32h1M12 36h1M17 36h1M52 36h1M9 37h1M11 37h1M27 37h1M21 38h1M-2 39h1M20 39h1M14 40h1M43 40h1M11 41h1M26 42h1M38 42h1M23 43h1M-2 44h1M30 44h1M47 44h1M53 44h1M22 49h1M47 50h1M49 50h1"/>
<path stroke="#e7e7e7" d="M31 12h1M29 13h1M31 13h1M44 13h1M26 14h1M38 14h1M43 14h1M55 17h1M45 18h1M18 19h1M30 19h1M47 21h1M9 22h1M36 22h1M38 23h1M41 23h1M14 24h1M8 25h1M47 25h1M12 26h1M24 26h1M48 26h1M31 27h1M36 27h1M12 28h1M24 28h1M29 28h1M12 29h1M46 29h1M11 30h1M31 30h1M45 30h1M38 31h1M16 32h1M14 33h1M13 35h2M36 35h1M9 36h1M29 36h1M32 36h1M41 36h1M51 36h1M-1 37h1M8 37h1M12 37h1M19 37h1M45 37h1M22 39h1M28 41h1M36 41h1M44 41h1M10 42h1M24 42h1M45 42h1M53 42h1M44 43h1M53 43h1M2 44h1M54 44h1M14 45h1M30 45h1M50 45h1M52 45h1M54 45h1M17 46h1M21 48h1M39 52h1"/>
<path stroke="#eaeaea" d="M42 12h1M44 12h1M39 13h1M51 13h2M55 15h1M27 16h1M40 16h1M55 16h1M26 18h1M14 19h1M12 22h1M55 22h1M36 23h2M44 24h1M9 25h2M19 26h1M42 26h1M50 26h1M52 26h1M14 27h1M15 28h1M19 28h1M23 28h1M47 28h1M16 29h1M37 29h1M37 30h1M44 30h1M12 31h1M17 31h1M19 31h1M32 31h1M12 32h1M5 33h2M30 33h2M14 34h1M17 34h1M25 35h1M13 36h1M18 36h1M30 36h1M35 36h1M42 36h1M0 37h1M20 37h2M24 37h1M34 37h1M41 37h1M46 37h1M52 37h1M-2 38h2M22 38h1M27 38h1M30 38h1M44 38h1M17 41h1M21 41h1M35 41h1M34 42h1M37 42h1M54 42h1M39 43h1M12 44h1M41 44h1M41 46h1M38 47h1M42 47h1M16 48h1M46 48h1M50 48h1"/>
<path stroke="#ececec" d="M27 14h1M49 14h1M54 15h1M26 16h1M28 16h1M39 16h1M49 16h1M21 17h1M53 18h1M51 20h1M37 21h1M50 22h1M25 23h1M11 24h1M53 24h1M55 24h1M6 25h1M13 25h1M49 25h1M9 26h1M48 27h1M50 27h1M11 28h1M14 28h1M28 28h1M49 28h1M12 30h1M43 30h1M36 31h1M37 32h1M44 32h1M19 33h1M33 33h1M41 33h1M2 34h1M16 34h1M27 34h1M41 34h1M43 34h1M3 35h1M32 35h1M39 35h1M45 35h1M16 36h1M36 36h1M40 36h1M2 37h1M5 37h1M14 37h1M31 37h1M33 37h1M42 37h1M54 37h1M15 38h1M34 38h1M17 39h1M45 39h1M12 40h1M15 40h1M35 40h2M25 41h1M45 41h1M49 41h1M7 42h1M21 42h1M25 42h1M39 42h1M26 43h1M33 43h1M48 46h1M22 47h1M41 50h1"/>
<path stroke="#efefef" d="M37 12h2M32 13h1M48 14h1M39 15h1M50 15h1M20 16h1M51 18h1M31 19h1M14 20h1M38 21h1M16 22h1M18 24h1M37 24h1M46 24h1M52 25h1M13 27h1M44 28h1M8 29h1M41 29h1M16 30h1M13 31h1M39 31h1M10 32h1M17 32h1M19 32h1M38 32h1M41 32h1M9 33h1M16 33h1M23 33h1M38 33h1M21 34h1M1 35h1M4 35h1M8 35h1M24 35h1M26 35h1M38 35h1M33 36h1M29 37h1M35 37h1M4 38h2M23 38h1M29 38h1M1 39h1M24 39h2M34 39h1M43 39h1M0 40h1M10 40h1M29 40h1M19 41h1M27 41h1M2 42h1M50 42h1M32 43h1M36 43h1M41 43h1M34 44h2M42 44h1M48 44h1M42 45h1M47 46h1M45 47h1M38 49h1M48 50h1"/>
<path stroke="#f2f2f2" d="M35 12h1M35 13h1M40 15h1M34 17h1M40 18h1M15 19h1M21 20h1M53 20h1M52 22h1M11 23h1M49 24h1M29 25h1M50 25h1M17 26h1M46 26h1M45 27h1M9 28h1M17 30h1M24 33h1M29 33h1M36 33h1M39 33h1M18 34h1M26 34h1M-1 36h1M19 36h1M2 38h1M8 38h1M28 38h1M33 38h1M2 40h1M46 40h1M20 41h1M26 41h1M41 42h1M27 43h1M11 44h1M21 44h1M27 44h1M49 44h1M51 44h1M34 45h2M26 46h1M43 46h1M41 47h1M48 47h1M50 47h1M43 51h1"/>
<path stroke="#f4f4f4" d="M37 13h1M40 13h1M33 14h2M47 15h1M49 15h1M52 18h1M17 20h1M52 20h1M30 23h1M15 24h1M35 27h1M24 29h1M43 29h1M15 30h1M27 33h1M25 34h1M6 35h1M4 37h1M13 40h1M26 40h1M31 40h1M41 41h1M47 41h1M2 43h1M16 46h1M21 46h1M24 47h1M42 48h1M35 50h1"/>
<path stroke="#f7f7f7" d="M41 14h1M41 15h1M52 19h2M26 21h1M14 30h1M22 33h1M23 34h1M34 34h1M21 35h1M39 38h1M3 39h2M7 39h1M32 39h1M9 40h1M4 41h1M14 41h1M42 42h1M21 43h1M45 48h1M53 50h1"/>
<path stroke="#fafafa" d="M14 23h1M34 24h1M42 28h1M28 29h1M33 29h1M23 31h1M9 39h1M5 40h1M22 45h1M49 47h1M53 49h1"/>
<path stroke="#fcfcfc" d="M45 26h1M27 29h1M31 29h1M4 40h1M-2 42h1M7 45h1"/>
</g></g>
<path d="M658.0 253.8L1129.3 207.9" stroke="#f00" stroke-width="5.3" stroke-linecap="round" stroke-dasharray="14.4 26.15" fill="none"/>
</g>
<rect x="657.5" y="102.7" width="463.8" height="424.0" fill="none" stroke="#000" stroke-width="2.6"/>
<path d="M812.1 102.7v12.8M812.1 526.7v-12.8M966.7 102.7v12.8M966.7 526.7v-12.8M657.5 155.7h12.8M1121.3 155.7h-12.8M657.5 261.7h12.8M1121.3 261.7h-12.8M657.5 367.7h12.8M1121.3 367.7h-12.8M657.5 473.7h12.8M1121.3 473.7h-12.8" stroke="#000" stroke-width="2.6" fill="none"/>
<path d="M667.3 367.7L899.3 367.7" stroke="#f0f" stroke-width="5.8" stroke-linecap="round" stroke-dasharray="0 16.5" fill="none"/>
<text transform="translate(674.94,144.00) scale(0.9376,1)" font-size="39.30" style="fill:#fff">15 s, +1.5 ps</text>
<text transform="translate(678.22,500.80) scale(0.9880,1)" font-size="50.20">(d)</text>
<g clip-path="url(#cp11)">
<g filter="url(#hm)">
<rect x="640.3" y="543.4" width="498.2" height="446.3" fill="#fff"/>
<g transform="translate(657.50,557.34) scale(8.5889,5.5789)" stroke-width="1.08" fill="none">
<path stroke="#000000" d="M21 1h1M43 2h1M-2 60h1M-1 62h2M8 62h1M-2 63h3M5 63h1M12 63h1M-2 64h4M8 64h1M-2 65h5M4 65h1M6 65h1M10 65h1M12 65h1M0 66h4M6 66h1M8 66h2M11 66h3M15 66h2M-2 67h5M4 67h1M7 67h1M9 67h1M11 67h4M16 67h2M-2 68h3M2 68h1M4 68h2M9 68h1M11 68h4M-2 69h2M2 69h2M5 69h1M7 69h4M12 69h2M19 69h1M-2 70h7M6 70h2M10 70h2M13 70h4M20 70h2M-2 71h9M8 71h2M11 71h1M14 71h2M17 71h1M20 71h2M23 71h1M-2 72h16M15 72h3M20 72h1M0 73h15M22 73h3M-2 74h11M10 74h3M15 74h5M23 74h3M-2 75h6M5 75h7M15 75h6M22 75h1M-2 76h5M4 76h7M12 76h4M17 76h4M22 76h1M32 76h1M-2 77h6M5 77h5M15 77h3M19 77h11"/>
<path stroke="#030303" d="M-2 62h1M11 63h1M7 65h1M11 65h1M5 66h1M10 66h1M3 67h1M8 67h1M6 68h1M10 68h1M8 70h1M17 70h1M22 70h1M16 71h1M18 72h2M-2 73h1M18 73h2M22 74h1M23 75h1M16 76h1M31 76h1M4 77h1"/>
<path stroke="#050505" d="M2 64h2M9 64h1M4 66h1M14 66h1M15 67h1M1 69h1M4 69h1M14 69h2M18 69h1M12 70h1M18 70h2M7 71h1M12 71h1M14 72h1M23 72h1M15 73h1M13 74h1M26 74h1M23 76h1M30 77h1"/>
<path stroke="#080808" d="M-1 60h1M4 63h1M5 64h1M5 65h1M15 65h1M-2 66h1M3 68h1M11 69h1M23 70h1M25 70h1M13 71h1M27 71h1M27 72h1M14 75h1M29 75h1M3 76h1M24 76h1M10 77h1M13 77h1M18 77h1M31 77h1"/>
<path stroke="#0b0b0b" d="M3 61h1M3 62h1M6 62h2M1 63h2M6 64h1M13 64h1M7 66h1M17 66h1M6 67h1M10 67h1M21 67h1M8 68h1M0 69h1M19 71h1M22 71h1M22 72h1M24 72h1M26 72h1M16 73h1M9 74h1M21 74h1M28 74h1M25 75h1M11 76h1M28 76h2M34 77h1"/>
<path stroke="#0d0d0d" d="M2 60h1M-2 61h2M5 61h4M5 62h1M3 63h1M20 67h1M16 68h1M21 68h1M20 69h2M5 70h1M10 71h1M21 72h1M-1 73h1M17 73h1M25 73h1M28 73h1M20 74h1M13 75h1M24 75h1M26 75h1M30 75h1M32 75h1M21 76h1M33 76h1M11 77h1M32 77h1"/>
<path stroke="#101010" d="M-2 59h1M4 62h1M9 62h1M13 63h1M4 64h1M7 64h1M11 64h1M9 65h1M5 67h1M17 68h1M19 68h1M22 68h1M16 69h1M9 70h1M28 72h1M21 73h1M26 73h1M14 74h1M4 75h1M12 75h1M31 75h1M35 77h1"/>
<path stroke="#131313" d="M0 59h1M4 61h1M2 62h1M6 63h1M8 63h1M10 64h1M15 64h1M13 65h2M-1 66h1M18 66h1M15 68h1M25 69h1M24 70h1M28 71h1M27 73h1M27 74h1M21 75h1M33 75h1M30 76h1M12 77h1M14 77h1M33 77h1"/>
<path stroke="#151515" d="M-1 59h1M0 60h2M3 60h3M0 61h1M11 62h1M10 63h1M12 64h1M8 65h1M17 65h1M19 66h1M18 67h1M17 69h1M26 70h1M18 71h1M25 72h1M25 76h2M34 76h1"/>
<path stroke="#181818" d="M1 61h2M10 61h1M1 62h1M14 64h1M3 65h1M16 65h1M19 67h1M1 68h1M7 68h1M20 68h1M20 73h1M29 74h1M36 77h1"/>
<path stroke="#1b1b1b" d="M36 20h1M-1 58h1M1 58h1M6 59h1M27 75h1"/>
<path stroke="#1e1e1e" d="M0 58h1M6 60h1M9 61h1M17 63h1M18 65h1M22 67h1M6 69h1M22 69h2M26 69h1M24 71h1M29 73h1M30 74h1"/>
<path stroke="#202020" d="M4 59h1M18 63h1M18 64h1M20 66h1M18 68h1M24 68h1M26 71h1M30 73h1M34 75h1M27 76h1M35 76h2"/>
<path stroke="#232323" d="M2 59h2M9 60h1M16 64h1M27 70h1M29 72h1M33 73h1"/>
<path stroke="#262626" d="M-2 58h1M2 58h1M8 60h1M10 62h1M12 62h2M9 63h1M17 64h1M25 71h1M29 71h1M31 74h1M28 75h1"/>
<path stroke="#282828" d="M-2 57h1M11 60h1M15 62h1M7 63h1M19 64h2M19 65h2M23 67h1M23 68h1M25 68h1M31 73h2M32 74h1M35 75h1"/>
<path stroke="#2b2b2b" d="M2 57h1M3 58h1M1 59h1M7 60h1M13 61h1M15 63h1M22 66h1"/>
<path stroke="#2e2e2e" d="M18 62h1M23 66h1M27 69h1M36 75h1"/>
<path stroke="#303030" d="M-1 57h1M5 59h1M7 59h1M10 60h1M12 60h1M12 61h1M17 62h1M14 63h1M16 63h1M21 65h1M24 67h1M33 72h1M33 74h1"/>
<path stroke="#333333" d="M9 59h1M19 63h1M21 66h1M24 69h1M28 70h1M31 72h2M37 76h2"/>
<path stroke="#363636" d="M1 57h1M21 64h1M26 68h1M30 71h1M37 75h1M37 77h1"/>
<path stroke="#383838" d="M5 58h1M23 65h1M28 68h1M29 70h2M31 71h1M34 73h1"/>
<path stroke="#3b3b3b" d="M3 57h1M11 61h1M16 61h1M16 62h1M26 67h1M28 69h2"/>
<path stroke="#3e3e3e" d="M0 57h1M4 58h1M8 59h1M14 60h1M14 61h1M20 63h1M27 68h1M35 74h1M38 77h1"/>
<path stroke="#404040" d="M1 56h1M7 58h1M13 60h1M17 61h1M22 65h1M25 67h1M30 69h1M30 72h1M51 72h1"/>
<path stroke="#434343" d="M6 58h1M8 58h1M15 60h1M15 61h1M18 61h1M19 62h1M21 63h1M23 64h1M29 68h1M34 74h1M38 75h1"/>
<path stroke="#464646" d="M2 56h1M6 57h1M27 67h1M36 74h1"/>
<path stroke="#484848" d="M31 23h1M-1 55h1M9 58h1M11 58h1M25 58h1M19 61h1M24 66h1M26 66h1M32 71h1M37 74h1"/>
<path stroke="#4b4b4b" d="M-2 55h1M0 56h1M4 56h1M4 57h2M12 59h1M16 60h1M14 62h1M31 70h1M33 71h1M34 72h1"/>
<path stroke="#4e4e4e" d="M-1 56h1M23 57h1M10 59h2M21 62h1M22 64h1M28 67h1M31 69h1M39 76h2"/>
<path stroke="#515151" d="M2 55h1M12 58h1M14 58h1M14 59h1M23 63h1M24 65h1M30 68h1"/>
<path stroke="#535353" d="M3 56h1M7 56h1M7 57h2M22 63h1M24 64h1M25 66h1M39 75h1M41 76h1"/>
<path stroke="#565656" d="M17 53h1M16 59h1M20 61h1M43 77h2"/>
<path stroke="#595959" d="M3 55h1M8 55h1M6 56h1M9 57h1M10 58h1M13 58h1M18 60h1M20 62h1M31 68h1M32 70h2M36 73h1M38 74h1M43 75h1"/>
<path stroke="#5b5b5b" d="M4 53h1M7 55h1M17 60h1M23 61h1M22 62h2M38 67h1M32 68h1M34 70h1M34 71h1M36 72h1M37 73h1M39 74h1M42 77h1"/>
<path stroke="#5e5e5e" d="M37 19h1M-2 52h1M2 52h1M4 55h1M6 55h1M-2 56h1M5 56h1M8 56h1M27 57h1M15 58h1M20 58h1M13 59h1M17 59h1M21 60h1M23 60h1M27 64h1M30 64h1M36 64h1M25 65h1M27 66h1M32 69h1M41 72h1M35 73h1M43 74h1M42 76h1M45 76h1"/>
<path stroke="#616161" d="M-1 54h1M1 54h1M6 54h1M8 54h1M9 55h1M11 55h2M10 56h2M11 57h2M26 60h1M22 61h1M24 61h1M25 62h2M28 62h1M24 63h1M26 63h1M25 64h1M32 66h1M31 67h3M34 69h2M37 70h1M39 71h1M38 72h1M38 73h2M43 76h1M47 76h1M39 77h1M53 77h1"/>
<path stroke="#636363" d="M0 51h1M-1 52h1M1 52h1M2 54h1M13 54h1M9 56h1M17 58h3M21 58h1M20 60h1M22 60h1M21 61h1M28 61h2M26 64h1M29 64h1M27 65h1M29 65h1M31 65h1M38 66h1M33 68h1M36 69h1M42 70h1M35 71h1M38 71h1M40 71h1M35 72h1M42 72h1M45 72h1M44 73h1M49 74h1M44 75h1M44 76h1M48 77h2"/>
<path stroke="#666666" d="M2 51h1M-2 53h1M1 53h1M7 53h1M3 54h2M12 54h1M5 55h1M10 55h1M17 56h1M22 56h1M10 57h1M14 57h2M19 57h2M23 58h2M15 59h1M18 59h1M21 59h1M23 59h1M26 61h1M24 62h1M25 63h1M28 65h1M30 65h1M36 65h1M29 66h3M34 67h1M36 67h1M35 68h1M33 69h1M39 69h1M41 69h1M35 70h1M39 70h1M41 70h1M43 70h1M37 72h1M39 72h2M43 73h1M45 73h1M40 74h1M44 74h2M40 75h1M42 75h1M40 77h1"/>
<path stroke="#696969" d="M-2 51h1M3 51h1M5 52h1M2 53h1M5 53h1M5 54h1M7 54h1M9 54h1M11 54h1M13 55h1M17 55h1M13 56h1M15 56h1M20 56h1M18 57h1M16 58h1M22 59h1M19 60h1M25 60h1M27 62h1M34 65h1M29 67h1M41 71h1M41 75h1M45 75h1M41 77h1M45 77h1"/>
<path stroke="#6b6b6b" d="M43 19h1M28 23h1M45 29h1M31 30h1M11 51h1M0 52h1M14 52h1M19 52h1M0 53h1M20 53h1M-2 54h1M0 54h1M15 55h1M18 56h1M28 58h1M24 59h1M27 63h1M28 64h1M33 66h1M40 66h1M48 67h1M36 68h1M44 68h1M38 69h1M54 72h1M41 73h1M41 74h2M46 75h1M53 75h2M47 77h1"/>
<path stroke="#6e6e6e" d="M-2 50h1M2 50h1M6 52h1M6 53h1M14 54h1M1 55h1M19 59h2M24 60h1M25 61h1M29 62h1M31 64h1M26 65h1M33 65h1M28 66h1M35 66h1M37 67h1M37 69h1M38 70h1M37 71h1M44 72h1M50 73h1M46 74h1M49 76h1"/>
<path stroke="#717171" d="M-1 51h1M10 54h1M14 55h1M16 56h1M13 57h1M17 57h1M32 65h1M35 67h1M40 67h1M43 72h1M42 73h1M47 75h1M46 76h1M48 76h1"/>
<path stroke="#737373" d="M3 52h1M10 52h1M-1 53h1M10 53h1M15 54h1M12 56h1M19 56h1M21 57h1M22 58h1M36 70h1M36 71h1M40 73h1M48 73h1M52 76h1M46 77h1"/>
<path stroke="#767676" d="M1 51h1M16 54h1M14 56h1M27 60h1M27 61h1M30 62h1M28 63h1M34 68h1M40 69h1M46 73h1M47 74h1M48 75h2M50 77h2"/>
<path stroke="#797979" d="M9 53h1M0 55h1M29 63h1M30 67h1M37 68h1M40 70h1M42 71h1"/>
<path stroke="#7b7b7b" d="M33 19h1M44 19h1M33 20h1M41 21h1M46 21h1M29 22h1M40 22h1M44 22h1M26 23h1M30 23h1M34 24h1M40 24h1M47 24h1M24 25h1M39 25h1M45 25h1M23 27h1M44 27h1M26 28h1M32 29h1M34 31h1M-1 49h1M3 50h1M6 50h1M14 50h2M7 51h2M15 51h1M3 53h1M24 56h1M16 57h1M26 58h1M28 59h3M34 60h1M36 60h1M47 63h1M32 64h1M42 64h1M37 65h2M42 67h2M46 69h3M50 70h2M50 72h1M54 73h2"/>
<path stroke="#7e7e7e" d="M-1 50h1M4 51h3M7 52h2M16 53h1M20 55h1M25 59h1M30 61h1M34 64h2M34 66h1M45 70h1M43 71h1M47 73h1M50 74h1M51 75h2M54 77h1"/>
<path stroke="#818181" d="M0 50h1M16 55h1M26 59h1M45 71h1M51 76h1M52 77h1"/>
<path stroke="#848484" d="M4 52h1M8 53h1"/>
<path stroke="#898989" d="M12 53h1M38 68h1M50 76h1"/>
<path stroke="#8c8c8c" d="M13 53h1M21 56h1M33 64h1M46 72h1"/>
<path stroke="#8e8e8e" d="M52 17h1M52 18h1M47 19h1M31 20h1M43 20h1M55 20h1M31 21h1M36 21h1M47 21h1M36 22h1M42 22h1M50 22h1M53 22h1M55 22h1M33 23h1M43 23h1M45 23h1M32 24h1M36 24h4M44 24h1M23 25h1M28 25h1M32 25h1M36 25h1M46 25h1M54 25h1M31 26h1M34 26h1M38 26h1M42 26h1M48 26h1M27 27h2M33 27h1M38 27h1M24 28h1M32 28h1M47 28h1M19 29h1M28 29h2M33 29h1M16 30h1M22 30h1M33 30h1M45 30h1M24 31h1M27 31h1M17 32h1M24 32h1M33 32h1M40 32h1M42 32h1M39 33h1M6 47h1M3 49h1M5 49h1M10 49h1M16 49h1M10 50h1M12 51h1M12 52h1M15 52h1M20 52h3M11 53h1M18 54h1M23 55h1M29 55h1M25 56h2M24 57h1M26 57h1M29 58h1M31 58h2M36 58h1M27 59h1M33 59h1M30 60h1M33 60h1M38 60h1M52 60h1M35 61h1M38 61h1M46 61h1M50 61h1M32 62h1M41 62h1M44 62h1M32 63h1M35 63h2M46 63h1M37 64h1M41 64h1M42 65h1M52 65h1M41 66h2M44 66h1M51 66h1M41 67h1M45 67h1M47 67h1M41 68h1M45 68h1M50 68h1M53 68h1M44 70h1M47 70h1M49 70h1M46 71h1M49 71h2M47 72h1M49 72h1M49 73h1M51 73h1M53 74h3M50 75h1"/>
<path stroke="#919191" d="M14 42h1M5 46h1M13 46h1M30 52h1"/>
<path stroke="#949494" d="M28 47h1M18 55h1M30 63h1"/>
<path stroke="#969696" d="M44 71h1"/>
<path stroke="#999999" d="M17 54h1M19 55h1"/>
<path stroke="#9c9c9c" d="M36 66h1M39 68h1"/>
<path stroke="#9e9e9e" d="M14 53h1M35 65h1M42 69h1"/>
<path stroke="#a1a1a1" d="M1 50h1M15 53h1M28 60h1M37 66h1M43 69h1"/>
<path stroke="#a4a4a4" d="M37 18h1M46 18h2M39 19h2M42 19h1M46 19h1M48 19h1M35 20h1M39 20h1M45 20h1M47 20h1M35 21h1M37 21h1M40 21h1M43 21h1M48 21h3M53 21h1M33 22h2M37 22h3M41 22h1M45 22h1M51 22h1M32 23h1M34 23h3M41 23h1M44 23h1M47 23h1M52 23h1M24 24h1M28 24h1M30 24h2M35 24h1M45 24h1M25 25h3M29 25h2M33 25h2M38 25h1M26 26h1M28 26h1M36 26h2M39 26h1M43 26h1M45 26h1M47 26h1M22 27h1M29 27h1M37 27h1M45 27h1M47 27h1M30 28h2M36 28h1M40 28h1M21 29h1M23 29h1M27 29h1M31 29h1M36 29h1M39 29h1M44 29h1M24 30h1M29 30h1M32 30h1M34 30h1M36 30h1M25 31h1M28 31h1M30 31h2M33 31h1M36 31h1M29 32h1M32 32h1M35 32h1M-1 48h1M-2 49h1M0 49h2M6 49h1M4 50h1M7 50h1M9 50h1M12 50h1M9 51h1M19 51h1M13 52h1M16 52h3M19 53h1M21 53h1M24 53h1M19 54h1M21 54h1M23 54h1M23 56h1M28 56h1M25 57h1M30 57h1M32 57h1M27 58h1M30 58h1M35 59h1M29 60h1M32 60h1M35 60h1M31 61h2M34 61h1M36 61h1M45 61h1M33 62h2M37 62h2M45 62h1M34 63h1M42 63h1M44 63h1M39 64h2M43 64h1M46 64h1M41 65h1M46 65h1M48 65h1M51 65h1M43 66h1M45 66h1M50 66h1M52 66h1M46 67h1M50 67h1M42 68h2M47 68h1M51 68h2M45 69h1M50 69h1M55 69h1M53 70h2M47 71h1M51 71h1M55 72h1M53 73h1M51 74h1M55 75h1M53 76h3"/>
<path stroke="#a6a6a6" d="M54 15h1M48 16h1M39 17h1M46 17h1M49 17h1M53 17h1M33 18h1M28 19h2M29 20h1M24 21h1M26 22h1M53 23h1M51 25h1M53 26h1M17 27h1M13 28h1M16 28h2M51 28h1M16 29h1M18 29h1M14 30h2M17 30h1M44 30h1M14 31h1M41 31h1M13 32h1M18 32h1M41 32h1M22 33h1M31 33h1M33 33h1M38 33h1M24 34h4M33 34h1M24 35h1M7 45h1M-1 46h1M6 46h1M14 47h1M18 47h1M7 48h1M10 48h1M19 48h1M13 49h1M21 51h1M28 53h1M33 54h1M33 55h1M37 56h1M41 56h1M22 57h1M40 57h1M41 59h1M46 59h1M54 59h1M42 60h1M48 61h2M48 62h1M31 63h1M54 64h1M55 65h1"/>
<path stroke="#a9a9a9" d="M50 14h1M24 20h1M14 26h1M12 28h1M50 29h1M9 31h1M29 36h2M12 39h1M21 40h1M3 42h2M6 42h1M0 43h1M13 43h1M43 53h1M45 53h1M55 55h1"/>
<path stroke="#acacac" d="M21 20h1M48 74h1"/>
<path stroke="#bcbcbc" d="M39 67h1M55 77h1"/>
<path stroke="#bfbfbf" d="M11 52h1M33 63h1M44 69h1"/>
<path stroke="#c1c1c1" d="M46 70h1"/>
<path stroke="#c4c4c4" d="M43 17h1M45 17h1M48 17h1M35 18h2M40 18h3M45 18h1M50 18h2M53 18h2M34 19h3M38 19h1M41 19h1M45 19h1M49 19h2M52 19h4M30 20h1M40 20h2M48 20h1M51 20h2M29 21h2M32 21h2M42 21h1M45 21h1M51 21h1M54 21h2M27 22h1M32 22h1M46 22h3M54 22h1M24 23h2M27 23h1M37 23h1M39 23h2M42 23h1M48 23h2M51 23h1M22 24h2M25 24h2M29 24h1M41 24h2M46 24h1M48 24h3M52 24h1M20 25h3M35 25h1M37 25h1M40 25h2M43 25h2M49 25h2M21 26h5M27 26h1M29 26h2M32 26h2M35 26h1M41 26h1M44 26h1M46 26h1M49 26h1M20 27h2M25 27h2M31 27h2M35 27h2M40 27h1M43 27h1M18 28h2M22 28h1M29 28h1M33 28h1M38 28h1M41 28h1M43 28h1M45 28h2M17 29h1M20 29h1M24 29h1M30 29h1M34 29h1M40 29h3M19 30h1M23 30h1M26 30h2M30 30h1M35 30h1M37 30h2M40 30h4M18 31h1M21 31h1M29 31h1M32 31h1M38 31h1M19 32h2M25 32h3M30 32h2M36 32h3M21 33h1M23 33h2M27 33h1M29 33h2M34 33h2M-2 48h1M0 48h3M2 49h1M8 49h2M15 49h1M8 50h1M11 50h1M16 50h1M10 51h1M13 51h1M16 51h1M20 51h1M23 52h1M18 53h1M22 53h2M25 53h1M20 54h1M22 54h1M24 54h4M21 55h1M24 55h4M27 56h1M29 56h1M31 56h1M33 57h1M33 58h3M31 59h1M37 59h1M31 60h1M37 60h1M39 60h1M41 60h1M44 60h1M33 61h1M41 61h2M44 61h1M35 62h2M42 62h1M46 62h2M37 63h4M43 63h1M45 63h1M48 63h1M50 63h1M38 64h1M44 64h2M49 64h1M51 64h1M40 65h1M43 65h2M49 65h2M54 65h1M39 66h1M46 66h3M55 66h1M44 67h1M49 67h1M51 67h1M53 67h3M46 68h1M49 68h1M55 68h1M49 69h1M51 69h4M52 70h1M55 70h1M48 71h1M52 71h2M55 71h1M52 72h2M52 73h1M52 74h1"/>
<path stroke="#c7c7c7" d="M42 15h2M49 15h1M51 15h2M38 16h5M50 16h1M52 16h1M55 16h1M33 17h2M36 17h1M40 17h1M32 18h1M31 19h1M25 20h1M25 21h1M21 22h1M23 22h1M19 23h5M54 23h2M20 24h2M55 24h1M17 25h2M52 25h1M50 26h1M54 26h2M15 27h1M49 27h2M14 28h1M48 28h2M14 29h2M46 29h2M49 29h1M13 30h1M42 31h1M45 31h2M12 32h1M14 32h2M43 32h2M13 33h3M17 33h1M19 33h2M40 33h2M15 34h1M17 34h1M20 34h1M22 34h2M29 34h1M31 34h2M36 34h1M38 34h1M21 35h2M27 35h1M29 35h1M31 35h1M21 36h1M9 44h1M-2 45h1M0 45h2M3 45h1M9 45h3M16 45h2M2 46h2M11 46h2M15 46h1M2 47h1M4 47h2M7 47h1M10 47h2M16 47h1M19 47h2M8 48h1M13 48h2M20 48h1M17 49h1M20 49h2M23 49h1M20 50h1M24 50h1M26 51h3M26 52h1M28 52h1M30 54h3M39 55h1M45 55h1M32 56h1M36 56h1M38 56h2M44 56h2M35 57h2M38 57h2M41 57h4M46 57h1M49 57h1M52 57h1M37 58h2M43 58h1M48 58h1M50 58h1M53 58h1M39 59h2M42 59h1M49 59h1M53 59h1M55 59h1M45 60h2M49 60h1M54 61h1M52 62h2M51 63h4M53 64h1M55 64h1"/>
<path stroke="#c9c9c9" d="M44 14h2M31 17h1M26 19h1M17 24h1M52 28h1M11 29h1M9 30h1M49 30h1M6 31h1M10 31h1M48 31h1M4 33h1M6 33h1M8 33h1M44 33h1M11 34h2M40 34h2M3 35h1M15 35h1M37 35h3M6 36h1M15 36h1M35 36h1M1 37h1M7 37h1M17 37h1M22 37h1M24 37h1M27 37h1M8 38h1M10 38h1M12 38h1M15 38h1M19 38h2M25 38h1M-1 39h1M3 39h1M7 39h1M15 39h1M22 39h1M24 39h2M-1 40h2M5 40h2M9 40h1M26 40h1M4 41h1M6 41h1M15 41h1M17 41h1M19 41h1M22 41h1M25 41h1M-2 42h1M2 42h1M17 42h1M22 42h2M26 42h1M-2 43h1M5 43h1M16 43h1M18 43h1M20 43h3M-1 44h1M2 44h1M25 44h1M28 44h2M22 45h2M27 45h2M20 46h2M24 46h1M29 47h1M23 48h2M28 49h1M30 49h2M28 50h2M34 50h2M30 51h1M35 51h1M39 51h1M45 51h1M39 52h1M41 52h1M43 52h1M46 52h2M51 52h1M35 53h1M37 53h3M37 54h1M42 54h1M46 54h1M54 54h1M50 55h1M53 55h1M54 56h1M55 57h1"/>
<path stroke="#cccccc" d="M43 -2h1M51 -2h1M29 -1h1M6 1h1M54 2h1M23 3h1M36 3h1M-2 4h1M21 4h1M49 4h1M32 7h1M9 9h1M47 9h1M45 12h1M20 13h1M25 13h1M44 13h2M47 13h1M9 15h1M15 20h1M1 23h1M3 31h1M1 32h1M0 33h2M1 36h1M-2 37h2M35 37h1M28 39h2M31 40h2M49 40h1M28 41h1M51 41h1M39 45h1M34 46h1M37 46h1M39 47h1M51 47h1M54 47h1M41 48h2M36 49h1M42 49h1M39 50h1"/>
<path stroke="#d7d7d7" d="M9 52h1"/>
<path stroke="#dcdcdc" d="M40 68h1"/>
<path stroke="#e1e1e1" d="M31 62h1"/>
<path stroke="#ececec" d="M48 72h1"/>
</g></g>
<path d="M658.0 742.7L1129.3 668.3" stroke="#f00" stroke-width="5.3" stroke-linecap="round" stroke-dasharray="14.4 26.15" fill="none"/>
</g>
<rect x="657.5" y="554.5" width="463.8" height="424.0" fill="none" stroke="#000" stroke-width="2.6"/>
<path d="M812.1 554.5v12.8M812.1 978.5v-12.8M966.7 554.5v12.8M966.7 978.5v-12.8M657.5 607.5h12.8M1121.3 607.5h-12.8M657.5 713.5h12.8M1121.3 713.5h-12.8M657.5 819.5h12.8M1121.3 819.5h-12.8M657.5 925.5h12.8M1121.3 925.5h-12.8" stroke="#000" stroke-width="2.6" fill="none"/>
<path d="M661.1 820.1L893.1 820.1" stroke="#f0f" stroke-width="5.8" stroke-linecap="round" stroke-dasharray="0 16.5" fill="none"/>
<text transform="translate(674.42,595.20) scale(0.9430,1)" font-size="39.30" style="fill:#fff">30 s, +1.5 ps</text>
<text transform="translate(679.12,954.40) scale(0.9880,1)" font-size="50.20">(e)</text>
<g clip-path="url(#cp12)">
<g filter="url(#hm)">
<rect x="640.3" y="995.2" width="498.2" height="446.3" fill="#fff"/>
<g transform="translate(657.50,1009.19) scale(8.5889,5.5789)" stroke-width="1.08" fill="none">
<path stroke="#000000" d="M18 5h1M38 5h1M40 5h1M-2 61h2M-2 62h1M5 62h1M-1 63h1M2 63h1M6 63h1M-2 64h1M5 64h1M7 64h1M-2 65h3M2 65h1M8 65h1M12 65h2M-2 66h2M2 66h1M5 66h1M8 66h1M10 66h2M14 66h1M-2 67h5M4 67h1M6 67h2M10 67h2M-2 68h3M2 68h1M4 68h1M6 68h2M11 68h2M-2 69h3M2 69h1M6 69h2M11 69h2M0 70h3M5 70h4M11 70h1M13 70h4M-2 71h5M6 71h4M11 71h5M-2 72h2M2 72h2M5 72h2M8 72h5M14 72h4M-2 73h3M3 73h3M8 73h4M15 73h2M0 74h4M7 74h5M14 74h1M17 74h2M0 75h8M9 75h4M15 75h3M21 75h1M23 75h2M-2 76h13M12 76h1M14 76h2M20 76h2M23 76h2M-2 77h12M11 77h1M13 77h2M17 77h1M19 77h1M21 77h2M25 77h1"/>
<path stroke="#030303" d="M6 64h1M7 65h1M9 65h1M3 66h1M18 69h1M12 70h1M10 71h1M16 71h1M13 72h1M18 73h1M22 76h1M26 77h1"/>
<path stroke="#050505" d="M0 64h1M4 66h1M9 66h1M14 67h1M5 68h1M8 68h1M3 69h1M5 69h1M13 69h3M5 71h1M18 72h1M1 73h1M-2 74h1M13 74h1"/>
<path stroke="#080808" d="M4 62h1M12 67h1M10 69h1M9 70h1M18 71h1M7 72h1M19 73h1M16 74h1M22 75h1M17 76h1"/>
<path stroke="#0b0b0b" d="M0 61h1M-1 62h1M2 64h1M4 64h1M9 64h1M10 65h1M14 65h1M7 66h1M12 66h1M5 67h1M15 67h1M10 68h1M16 69h1M4 72h1M14 73h1M6 74h1M11 76h1M26 76h1M28 77h1"/>
<path stroke="#0d0d0d" d="M5 63h1M3 65h1M0 66h1M1 69h1M4 71h1M19 71h1M17 73h1M19 74h1M25 75h1M13 76h1M16 76h1M10 77h1M12 77h1M16 77h1M23 77h1"/>
<path stroke="#101010" d="M2 62h1M13 64h1M8 69h1M2 73h1M19 75h1M15 77h1M18 77h1"/>
<path stroke="#131313" d="M3 60h1M-2 63h1M4 63h1M8 64h1M1 65h1M6 66h1M8 67h1M1 68h1M19 69h1M-2 70h1M17 70h1M12 73h1M22 73h1M4 74h1M13 75h1M20 75h1"/>
<path stroke="#151515" d="M3 62h1M11 63h2M11 65h1M3 67h1M9 67h1M15 68h1M17 69h1M10 70h1M12 74h1M26 75h1M18 76h1M24 77h1"/>
<path stroke="#181818" d="M5 61h1M3 63h1M11 64h1M4 65h1M3 68h1M14 68h1M3 70h2M13 73h1M23 73h1M23 74h1M27 77h1"/>
<path stroke="#1b1b1b" d="M32 24h1M4 44h1M9 62h1M9 63h1M1 64h1M12 64h1M15 65h1M13 66h1M15 66h1M19 70h1M3 71h1M17 71h1M15 74h1M25 76h1"/>
<path stroke="#1e1e1e" d="M-1 59h2M1 60h1M1 63h1M3 64h1M13 68h1M20 70h2M22 72h1M7 73h1M-2 75h1M19 76h1"/>
<path stroke="#202020" d="M3 61h1M20 71h1M22 71h1M0 72h1M6 73h1M-1 75h1"/>
<path stroke="#232323" d="M6 51h1M0 60h1M1 61h1M1 62h1M0 63h1M10 63h1M5 65h1M16 67h1M17 68h1"/>
<path stroke="#262626" d="M2 61h1M10 64h1M4 69h1M21 71h1M-1 74h1M24 74h1M14 75h1M18 75h1"/>
<path stroke="#282828" d="M10 62h1M6 65h1M18 68h2M-1 70h1M18 70h1M22 70h1M24 73h1M20 74h1M8 75h1M20 77h1"/>
<path stroke="#2b2b2b" d="M4 61h1M11 62h1M-1 64h1M9 68h1M25 73h1"/>
<path stroke="#2e2e2e" d="M-2 59h1M-1 60h1M7 63h1M13 63h1M14 64h1M20 68h1M21 74h1"/>
<path stroke="#303030" d="M0 58h1M6 61h1M29 76h1"/>
<path stroke="#333333" d="M12 53h1M15 64h1M17 66h1M5 74h1"/>
<path stroke="#363636" d="M19 58h1M16 68h1M21 73h1M28 76h1"/>
<path stroke="#383838" d="M9 61h1M9 69h1M21 72h1M29 77h1"/>
<path stroke="#3b3b3b" d="M-1 58h1M1 59h1M3 59h1M-2 60h1M4 60h1M6 62h1M8 63h1M1 66h1M22 69h1M27 75h1M30 77h1"/>
<path stroke="#3e3e3e" d="M5 59h1M12 62h1M14 63h1M18 66h1M13 67h1M24 71h1M19 72h1M23 72h1M26 73h2"/>
<path stroke="#404040" d="M4 59h1M2 60h1M6 60h1M0 62h1M16 65h1M17 67h1M23 71h1M1 72h1M20 73h1"/>
<path stroke="#434343" d="M16 57h1M1 58h1M24 63h1M21 68h1M20 69h1M31 70h1M22 74h1M26 74h1M30 76h1"/>
<path stroke="#464646" d="M-2 58h1M8 62h1M16 66h1M22 68h1"/>
<path stroke="#484848" d="M-1 51h1M16 54h1M7 60h1M25 60h1M10 61h1M15 63h1M19 67h1M25 72h1M29 75h1"/>
<path stroke="#4b4b4b" d="M33 37h1M5 60h1M8 60h1M19 66h1M37 73h1"/>
<path stroke="#4e4e4e" d="M-2 57h2M1 57h1M2 58h1M9 60h2M14 61h1M16 64h1M20 66h1M18 67h1M30 69h1M24 72h1M27 76h1"/>
<path stroke="#515151" d="M10 59h1M13 61h1M13 62h2M23 69h2M32 70h1"/>
<path stroke="#535353" d="M2 57h1M11 58h2M7 59h2M11 60h1M19 60h1M17 63h1M24 70h1M31 77h1M37 77h1"/>
<path stroke="#565656" d="M-2 52h1M2 54h1M5 57h1M11 57h1M7 61h1M22 64h1M20 65h1M20 67h1M29 72h1M30 73h1M27 74h1M30 75h1M35 76h1M33 77h1"/>
<path stroke="#595959" d="M6 55h1M10 55h1M0 57h1M6 57h1M3 58h1M2 59h1M17 59h1M16 61h1M26 67h1M27 69h1M28 70h1M34 72h1"/>
<path stroke="#5b5b5b" d="M0 55h2M3 56h1M5 56h3M11 56h1M3 57h1M8 57h1M4 58h1M9 59h1M11 59h1M18 61h1M21 64h1M23 70h1M28 73h1M36 77h1"/>
<path stroke="#5e5e5e" d="M7 52h1M11 53h1M-1 54h1M7 57h1M18 57h2M15 58h1M15 59h1M18 59h1M21 59h1M8 61h1M23 61h1M27 63h1M18 64h2M23 67h1M30 67h1M33 76h1M34 77h1"/>
<path stroke="#616161" d="M40 26h1M34 27h1M38 27h1M44 30h1M32 32h1M36 32h1M4 54h1M15 54h1M-1 55h1M2 55h1M8 55h1M9 56h1M10 57h1M23 57h1M6 59h1M13 59h1M15 60h1M18 60h1M15 61h1M7 62h1M16 62h1M16 63h1M23 64h1M28 66h1M22 67h1M24 67h2M25 68h2M39 69h1M25 70h1M29 70h1M26 71h1M29 71h1M43 71h1M45 71h1M33 72h1M33 73h1M29 74h1M33 75h1M34 76h1M48 76h1"/>
<path stroke="#636363" d="M43 22h1M23 31h1M29 36h1M38 38h1M22 40h1M7 53h1M7 54h1M7 55h1M0 56h1M2 56h1M9 57h1M5 58h1M10 58h1M12 59h1M20 59h1M11 61h1M18 63h1M20 64h1M19 65h1M21 65h1M21 67h1M27 71h1M30 71h1M20 72h1M26 72h1M31 72h1M32 73h1M30 74h1M35 77h1"/>
<path stroke="#666666" d="M-2 53h1M3 54h1M5 54h1M3 55h1M5 55h1M9 55h1M13 55h1M15 56h1M6 58h2M14 59h1M12 60h1M19 61h1M18 65h1M23 66h1M25 66h1M27 72h1M31 73h1M25 74h1M32 74h1M32 75h1M31 76h1M32 77h1M38 77h1"/>
<path stroke="#696969" d="M-1 56h1M1 56h1M4 57h1M8 58h2M24 68h1M21 69h1M25 69h1M37 74h1M31 75h1M32 76h1M36 76h1"/>
<path stroke="#6b6b6b" d="M4 53h1M4 56h1M8 56h1M14 56h1M17 61h1M18 62h1M22 65h1M22 66h1M28 67h1M27 68h1M26 69h1M26 70h1M35 75h1"/>
<path stroke="#6e6e6e" d="M0 53h1M-2 54h1M0 54h2M8 54h1M12 56h1M14 57h2M14 58h1M17 60h1M20 60h1M15 62h1M20 63h1M25 65h1M23 68h1M25 71h1M31 71h2M32 72h1M34 74h1M36 74h1M28 75h1M34 75h1M37 76h1"/>
<path stroke="#717171" d="M13 60h1M12 61h1M17 64h1M21 66h1M28 69h1M28 74h1"/>
<path stroke="#737373" d="M14 60h1M17 65h1M24 65h1M27 70h1M28 71h1M28 72h1M31 74h1"/>
<path stroke="#767676" d="M-2 55h1M16 60h1M19 62h1M24 66h1M30 72h1"/>
<path stroke="#797979" d="M-1 53h1M10 56h1M16 58h1M20 61h1M20 62h1M21 63h1M23 65h1"/>
<path stroke="#7b7b7b" d="M36 75h1"/>
<path stroke="#7e7e7e" d="M35 30h1M35 31h2M-1 50h1M-2 51h1M0 51h1M2 51h1M10 51h1M3 52h3M9 52h1M8 53h1M14 54h1M18 55h2M13 56h1M16 56h1M21 57h1M17 58h1M20 58h1M24 60h1M24 61h1M24 62h1M25 63h1M29 63h1M26 64h1M28 65h1M32 65h1M26 66h1M30 66h1M33 66h1M27 67h1M35 67h1M30 68h1M35 68h1M37 68h1M29 69h1M32 69h2M35 70h1M36 71h1M38 71h1M40 71h1M37 72h1M39 72h1M43 72h2M34 73h1M42 73h1M44 73h1M40 74h1M40 75h2M45 75h1M44 76h1M39 77h1M45 77h1"/>
<path stroke="#818181" d="M40 23h1M36 24h1M45 24h1M49 24h2M55 24h1M32 25h1M30 26h1M37 26h1M42 26h1M35 27h1M40 27h1M31 28h1M41 28h1M51 28h1M53 28h1M40 29h1M42 29h1M46 29h1M34 30h1M28 31h1M34 31h1M46 31h1M50 31h1M37 33h1M41 33h1M22 34h1M33 34h1M34 35h1M43 35h1M24 36h1M33 36h1M39 36h1M41 36h1M26 37h1M29 37h1M34 37h1M24 38h1M2 48h1M9 50h1M-1 52h1M6 53h1M9 54h3M18 58h1M28 61h1M17 62h1M22 62h1M31 62h1M22 63h2M25 64h1M29 68h1M42 68h1M33 71h1M48 72h1M29 73h1M35 73h1M50 74h1M52 76h1M41 77h1M51 77h2M54 77h1"/>
<path stroke="#848484" d="M43 20h1M33 22h1M37 22h1M31 23h1M24 30h1M55 30h1M17 36h1M19 36h1M18 39h1M25 40h1M0 47h1M3 47h1M-2 56h1M21 62h1M38 62h1M19 63h1M44 67h1"/>
<path stroke="#868686" d="M31 22h1M19 43h1M13 58h1M46 64h1M51 67h1M52 68h1"/>
<path stroke="#898989" d="M48 38h1M4 55h1M12 57h2M16 59h1M33 74h1"/>
<path stroke="#8c8c8c" d="M9 8h1"/>
<path stroke="#8e8e8e" d="M11 55h1"/>
<path stroke="#919191" d="M1 53h1M28 68h1M35 74h1"/>
<path stroke="#969696" d="M2 53h1M24 64h1M38 76h1"/>
<path stroke="#999999" d="M37 75h1"/>
<path stroke="#9c9c9c" d="M3 53h1M12 55h1M21 61h1"/>
<path stroke="#9e9e9e" d="M39 76h1M40 77h1"/>
<path stroke="#a1a1a1" d="M27 66h1M38 75h1"/>
<path stroke="#a4a4a4" d="M5 53h1M26 65h1M36 73h1M40 76h1"/>
<path stroke="#a6a6a6" d="M21 60h1M22 61h1M23 62h1M29 67h1M34 71h1M35 72h1M41 76h1"/>
<path stroke="#a9a9a9" d="M-2 50h1M0 50h1M2 50h2M5 50h1M1 51h1M5 51h1M9 51h1M11 51h1M2 52h1M6 52h1M8 52h1M10 52h1M13 52h1M17 54h1M14 55h1M16 55h2M17 56h2M22 58h1M22 59h3M22 60h1M25 61h1M27 62h1M28 63h1M27 64h2M27 65h1M29 65h2M29 66h1M31 67h1M31 68h2M36 68h1M34 69h3M33 70h2M36 70h1M35 71h1M37 71h1M36 72h1M38 72h1M41 72h2M41 73h1M43 73h1M45 73h1M39 74h1M41 74h2M42 75h1M44 75h1M46 75h2M42 76h2M47 76h1M43 77h2M48 77h1M50 77h1"/>
<path stroke="#acacac" d="M55 20h1M46 21h2M49 21h1M51 21h1M55 21h1M40 22h1M42 22h1M47 22h1M50 22h2M55 22h1M37 23h1M39 23h1M43 23h1M49 23h1M53 23h2M34 24h1M39 24h4M48 24h1M51 24h1M44 25h1M46 25h1M50 25h1M54 25h2M33 26h1M36 26h1M48 26h1M50 26h1M53 26h3M31 27h2M36 27h1M39 27h1M41 27h4M48 27h1M50 27h1M52 27h2M29 28h1M32 28h1M36 28h1M47 28h1M50 28h1M52 28h1M54 28h1M28 29h2M33 29h1M37 29h3M41 29h1M43 29h2M28 30h1M30 30h1M33 30h1M36 30h1M39 30h2M42 30h1M45 30h2M50 30h1M26 31h1M29 31h2M33 31h1M38 31h1M40 31h2M44 31h2M26 32h1M28 32h1M33 32h1M37 32h1M39 32h1M41 32h1M26 33h1M29 33h2M32 33h2M35 33h1M38 33h3M23 34h1M27 34h1M32 34h1M40 34h1M42 34h1M44 34h1M28 35h1M32 35h1M38 35h1M40 35h1M22 36h2M27 36h2M30 36h2M36 36h1M38 36h1M22 37h1M24 37h1M35 37h1M38 37h2M23 38h1M26 38h3M37 38h1M31 39h1M-1 49h1M7 49h1M9 49h1M6 50h2M10 50h2M12 51h1M14 51h2M18 53h1M20 54h1M21 56h2M24 57h1M25 59h2M26 60h2M32 64h2M33 65h1M35 65h1M37 65h1M37 66h1M39 68h1M41 68h1M40 69h4M41 70h3M44 71h1M46 71h1M45 72h1M47 72h1M49 72h1M48 73h1M50 73h1M52 74h1M48 75h2M50 76h2M54 76h1"/>
<path stroke="#aeaeae" d="M55 16h1M50 17h1M53 17h1M48 18h1M53 18h2M43 19h1M45 19h1M50 19h1M53 19h3M41 20h1M35 21h1M38 21h1M36 22h1M38 22h1M31 24h1M33 24h1M29 25h1M27 26h2M27 27h1M23 29h1M51 30h1M22 31h1M51 31h2M19 32h1M21 32h1M51 32h3M18 33h1M20 34h1M45 34h1M48 34h2M16 35h2M20 35h2M16 36h1M21 36h1M43 36h2M47 36h1M15 37h1M19 37h1M21 37h1M44 37h1M20 38h1M41 38h1M43 38h1M26 39h1M39 39h2M16 40h1M20 40h1M28 40h1M31 40h3M18 41h1M20 41h1M24 41h2M28 41h1M32 41h1M36 41h1M27 42h1M32 42h1M1 47h1M5 48h1M10 48h2M15 50h1M16 51h1M18 52h1M21 54h2M25 56h2M25 57h3M29 58h1M28 59h1M30 59h1M31 61h1M33 61h1M32 62h1M36 62h1M38 64h1M42 64h1M38 65h2M40 66h1M42 66h1M45 66h1M45 67h1M48 67h1M46 68h1M49 68h1M47 69h1M49 69h1M48 70h1M50 70h1M50 71h2M50 72h1M55 72h1M54 73h1"/>
<path stroke="#b1b1b1" d="M51 15h1M40 18h1M38 19h1M37 20h1M33 21h1M28 24h1M24 26h1M21 28h1M17 32h1M53 33h1M55 34h1M13 36h1M12 37h1M14 37h1M46 37h1M13 40h1M40 40h1M43 40h1M12 41h3M40 41h2M13 42h1M21 42h1M39 42h1M15 43h1M17 43h1M22 43h1M24 43h1M26 43h2M31 43h1M-2 44h1M13 44h1M19 44h1M27 44h1M30 44h1M-1 45h1M3 45h1M10 45h1M-2 46h1M1 46h1M3 46h1M9 46h1M16 47h1M13 48h2M20 51h1M6 54h1M26 54h1M28 55h1M27 56h1M29 57h1M32 58h2M32 59h1M34 60h1M39 60h1M35 61h1M39 61h1M39 62h1M46 62h1M44 63h3M49 64h2M49 67h1M53 67h1M50 68h1M55 69h1M30 70h1M55 70h1"/>
<path stroke="#b4b4b4" d="M26 24h1M19 29h1M16 31h1M13 33h1M13 34h1M10 35h1M8 36h1M53 36h1M7 37h2M5 39h1M4 40h1M-2 42h1M-2 43h1M0 43h1M37 43h1M39 43h1M33 44h1M26 45h2M18 46h1M18 47h1M24 50h1M27 52h1M28 54h1M33 57h1M40 58h1M45 58h1M44 60h1M47 62h1M55 63h1M53 65h1"/>
<path stroke="#b7b7b7" d="M55 0h1M27 3h1M47 3h1M8 5h1M-2 6h1M1 8h1M4 8h1M43 8h1M24 10h1M34 10h1M11 11h1M10 12h1M26 14h1M30 14h1M-1 15h1M15 15h1M24 16h1M37 16h1M2 19h1M12 21h1M28 22h1M20 24h1M6 26h1M16 27h1M15 31h1M6 32h2M6 37h1M55 40h1M48 42h1M44 45h1M33 46h1M43 49h1M40 50h1M52 60h1"/>
<path stroke="#d1d1d1" d="M19 59h1"/>
<path stroke="#e1e1e1" d="M0 52h1"/>
<path stroke="#e4e4e4" d="M17 57h1"/>
<path stroke="#e7e7e7" d="M39 75h1"/>
<path stroke="#eaeaea" d="M1 52h1M31 69h1M38 74h1M42 77h1"/>
<path stroke="#f2f2f2" d="M12 54h1"/>
</g></g>
<path d="M658.0 1247.5L1129.3 1138.6" stroke="#f00" stroke-width="5.3" stroke-linecap="round" stroke-dasharray="14.4 26.15" fill="none"/>
</g>
<rect x="657.5" y="1006.4" width="463.8" height="424.0" fill="none" stroke="#000" stroke-width="2.6"/>
<path d="M812.1 1006.4v12.8M812.1 1430.4v-12.8M966.7 1006.4v12.8M966.7 1430.4v-12.8M657.5 1059.4h12.8M1121.3 1059.4h-12.8M657.5 1165.4h12.8M1121.3 1165.4h-12.8M657.5 1271.4h12.8M1121.3 1271.4h-12.8M657.5 1377.4h12.8M1121.3 1377.4h-12.8" stroke="#000" stroke-width="2.6" fill="none"/>
<path d="M657.9 1270.3L889.9 1270.3" stroke="#f0f" stroke-width="5.8" stroke-linecap="round" stroke-dasharray="0 16.5" fill="none"/>
<text transform="translate(673.66,1049.30) scale(0.9433,1)" font-size="39.30" style="fill:#fff">45 s, +1.5 ps</text>
<text transform="translate(686.92,1403.50) scale(0.9880,1)" font-size="50.20">(f)</text>
<text transform="translate(646.64,1473.50) scale(0.9600,1)" font-size="39.30">0</text>
<text transform="translate(801.33,1473.50) scale(0.9600,1)" font-size="39.30">3</text>
<text transform="translate(955.74,1473.50) scale(0.9600,1)" font-size="39.30">6</text>
<text transform="translate(1110.53,1473.50) scale(0.9600,1)" font-size="39.30">9</text>
<text transform="translate(415.49,1522.50) scale(0.9972,1)" font-size="48.00">emission angle (deg.)</text>
<g transform="translate(36.3,912) rotate(-90)">
<text transform="translate(-3.80,0.00) scale(0.9315,1)" font-size="51.00">E-E</text>
<text transform="translate(80.38,17.50) scale(0.9346,1)" font-size="30.00">onset(+)</text>
<text transform="translate(201.86,0.00) scale(0.9610,1)" font-size="51.00">(eV)</text>
</g>
<path d="M1345.3 102.7v12.8M1345.3 526.7v-12.8M1496.7 102.7v12.8M1496.7 526.7v-12.8M1648.0 102.7v12.8M1648.0 526.7v-12.8M1269.6 405.6h12.8M1723.7 405.6h-12.8M1269.6 284.4h12.8M1723.7 284.4h-12.8M1269.6 163.3h12.8M1723.7 163.3h-12.8" stroke="#000" stroke-width="2.6" fill="none"/>
<g clip-path="url(#cl0)">
<g fill="#fff" stroke="#000" stroke-width="1.9">
<circle cx="1267.2" cy="220.9" r="5.2"/>
<circle cx="1273.4" cy="233.0" r="5.2"/>
<circle cx="1278.2" cy="239.6" r="5.2"/>
<circle cx="1283.7" cy="229.7" r="5.2"/>
<circle cx="1290.3" cy="226.4" r="5.2"/>
<circle cx="1296.2" cy="230.8" r="5.2"/>
<circle cx="1302.0" cy="240.7" r="5.2"/>
<circle cx="1307.9" cy="239.2" r="5.2"/>
<circle cx="1314.5" cy="249.5" r="5.2"/>
<circle cx="1320.4" cy="250.2" r="5.2"/>
<circle cx="1326.2" cy="253.2" r="5.2"/>
<circle cx="1332.1" cy="261.2" r="5.2"/>
<circle cx="1338.7" cy="271.5" r="5.2"/>
<circle cx="1344.6" cy="262.7" r="5.2"/>
<circle cx="1350.3" cy="273.7" r="5.2"/>
<circle cx="1356.9" cy="281.8" r="5.2"/>
<circle cx="1362.9" cy="281.4" r="5.2"/>
<circle cx="1368.8" cy="291.3" r="5.2"/>
<circle cx="1375.0" cy="286.2" r="5.2"/>
<circle cx="1381.1" cy="286.9" r="5.2"/>
<circle cx="1387.1" cy="297.2" r="5.2"/>
<circle cx="1393.0" cy="301.6" r="5.2"/>
<circle cx="1399.2" cy="307.8" r="5.2"/>
<circle cx="1405.8" cy="306.2" r="5.2"/>
<circle cx="1411.9" cy="319.9" r="5.2"/>
<circle cx="1417.9" cy="324.3" r="5.2"/>
<circle cx="1423.8" cy="325.4" r="5.2"/>
<circle cx="1430.0" cy="340.8" r="5.2"/>
<circle cx="1436.1" cy="347.8" r="5.2"/>
<circle cx="1442.1" cy="351.3" r="5.2"/>
<circle cx="1448.0" cy="361.7" r="5.2"/>
<circle cx="1454.2" cy="368.3" r="5.2"/>
<circle cx="1460.3" cy="381.5" r="5.2"/>
<circle cx="1466.3" cy="384.8" r="5.2"/>
<circle cx="1472.9" cy="392.5" r="5.2"/>
<circle cx="1478.8" cy="395.8" r="5.2"/>
<circle cx="1485.0" cy="404.6" r="5.2"/>
<circle cx="1490.5" cy="418.9" r="5.2"/>
<circle cx="1496.0" cy="429.9" r="5.2"/>
<circle cx="1501.5" cy="436.5" r="5.2"/>
<circle cx="1508.0" cy="443.8" r="5.2"/>
<circle cx="1515.0" cy="451.7" r="5.2"/>
<circle cx="1521.7" cy="456.7" r="5.2"/>
<circle cx="1528.3" cy="463.3" r="5.2"/>
<circle cx="1533.3" cy="470.0" r="5.2"/>
<circle cx="1540.0" cy="476.7" r="5.2"/>
<circle cx="1546.7" cy="483.3" r="5.2"/>
<circle cx="1551.7" cy="486.7" r="5.2"/>
<circle cx="1558.3" cy="493.3" r="5.2"/>
<circle cx="1564.3" cy="490.0" r="5.2"/>
<circle cx="1570.0" cy="496.0" r="5.2"/>
<circle cx="1576.7" cy="498.3" r="5.2"/>
<circle cx="1583.3" cy="500.7" r="5.2"/>
<circle cx="1590.0" cy="503.3" r="5.2"/>
<circle cx="1596.7" cy="505.0" r="5.2"/>
<circle cx="1602.7" cy="505.7" r="5.2"/>
<circle cx="1608.3" cy="505.7" r="5.2"/>
<circle cx="1615.0" cy="504.3" r="5.2"/>
<circle cx="1620.7" cy="505.0" r="5.2"/>
<circle cx="1626.7" cy="505.7" r="5.2"/>
<circle cx="1633.3" cy="506.0" r="5.2"/>
<circle cx="1639.3" cy="506.7" r="5.2"/>
<circle cx="1645.0" cy="505.7" r="5.2"/>
<circle cx="1651.7" cy="505.7" r="5.2"/>
<circle cx="1657.3" cy="506.7" r="5.2"/>
<circle cx="1663.3" cy="507.3" r="5.2"/>
<circle cx="1669.3" cy="508.3" r="5.2"/>
<circle cx="1675.0" cy="509.3" r="5.2"/>
<circle cx="1680.0" cy="506.0" r="5.2"/>
<circle cx="1686.7" cy="510.7" r="5.2"/>
<circle cx="1692.7" cy="512.7" r="5.2"/>
<circle cx="1698.3" cy="513.3" r="5.2"/>
<circle cx="1704.3" cy="514.0" r="5.2"/>
<circle cx="1710.0" cy="513.3" r="5.2"/>
<circle cx="1716.7" cy="516.0" r="5.2"/>
<circle cx="1722.7" cy="517.3" r="5.2"/>
</g>
<g fill="#fff" stroke="#f00" stroke-width="1.9">
<rect x="1262.0" y="232.2" width="10.4" height="10.4"/>
<rect x="1268.2" y="245.8" width="10.4" height="10.4"/>
<rect x="1273.0" y="243.6" width="10.4" height="10.4"/>
<rect x="1279.2" y="236.2" width="10.4" height="10.4"/>
<rect x="1285.1" y="248.7" width="10.4" height="10.4"/>
<rect x="1290.6" y="259.7" width="10.4" height="10.4"/>
<rect x="1296.8" y="259.3" width="10.4" height="10.4"/>
<rect x="1302.7" y="275.8" width="10.4" height="10.4"/>
<rect x="1309.3" y="272.9" width="10.4" height="10.4"/>
<rect x="1315.2" y="288.9" width="10.4" height="10.4"/>
<rect x="1321.0" y="294.9" width="10.4" height="10.4"/>
<rect x="1326.9" y="293.8" width="10.4" height="10.4"/>
<rect x="1333.5" y="291.6" width="10.4" height="10.4"/>
<rect x="1339.4" y="304.8" width="10.4" height="10.4"/>
<rect x="1345.1" y="310.3" width="10.4" height="10.4"/>
<rect x="1351.7" y="312.5" width="10.4" height="10.4"/>
<rect x="1357.7" y="319.1" width="10.4" height="10.4"/>
<rect x="1363.6" y="330.1" width="10.4" height="10.4"/>
<rect x="1369.8" y="333.4" width="10.4" height="10.4"/>
<rect x="1375.9" y="343.3" width="10.4" height="10.4"/>
<rect x="1381.9" y="353.6" width="10.4" height="10.4"/>
<rect x="1387.8" y="360.9" width="10.4" height="10.4"/>
<rect x="1394.0" y="370.8" width="10.4" height="10.4"/>
<rect x="1400.6" y="384.0" width="10.4" height="10.4"/>
<rect x="1406.7" y="386.2" width="10.4" height="10.4"/>
<rect x="1412.7" y="392.8" width="10.4" height="10.4"/>
<rect x="1418.6" y="404.9" width="10.4" height="10.4"/>
<rect x="1424.8" y="413.7" width="10.4" height="10.4"/>
<rect x="1430.9" y="426.9" width="10.4" height="10.4"/>
<rect x="1436.9" y="434.6" width="10.4" height="10.4"/>
<rect x="1442.8" y="445.6" width="10.4" height="10.4"/>
<rect x="1449.0" y="458.8" width="10.4" height="10.4"/>
<rect x="1455.1" y="465.4" width="10.4" height="10.4"/>
<rect x="1461.1" y="473.7" width="10.4" height="10.4"/>
<rect x="1467.7" y="478.6" width="10.4" height="10.4"/>
<rect x="1473.6" y="486.3" width="10.4" height="10.4"/>
<rect x="1479.8" y="488.5" width="10.4" height="10.4"/>
<rect x="1485.3" y="490.7" width="10.4" height="10.4"/>
<rect x="1490.8" y="491.8" width="10.4" height="10.4"/>
<rect x="1496.3" y="492.9" width="10.4" height="10.4"/>
<rect x="1502.8" y="495.8" width="10.4" height="10.4"/>
<rect x="1509.8" y="498.1" width="10.4" height="10.4"/>
<rect x="1516.5" y="498.1" width="10.4" height="10.4"/>
<rect x="1522.5" y="496.5" width="10.4" height="10.4"/>
<rect x="1528.1" y="498.1" width="10.4" height="10.4"/>
<rect x="1534.8" y="499.8" width="10.4" height="10.4"/>
<rect x="1540.8" y="499.8" width="10.4" height="10.4"/>
<rect x="1546.5" y="500.8" width="10.4" height="10.4"/>
<rect x="1553.1" y="502.5" width="10.4" height="10.4"/>
<rect x="1559.1" y="502.1" width="10.4" height="10.4"/>
<rect x="1564.8" y="504.1" width="10.4" height="10.4"/>
<rect x="1571.5" y="503.1" width="10.4" height="10.4"/>
<rect x="1578.1" y="504.1" width="10.4" height="10.4"/>
<rect x="1584.8" y="504.1" width="10.4" height="10.4"/>
<rect x="1591.5" y="505.5" width="10.4" height="10.4"/>
<rect x="1597.5" y="507.5" width="10.4" height="10.4"/>
<rect x="1603.1" y="507.5" width="10.4" height="10.4"/>
<rect x="1609.8" y="507.5" width="10.4" height="10.4"/>
<rect x="1615.5" y="506.5" width="10.4" height="10.4"/>
<rect x="1621.5" y="506.5" width="10.4" height="10.4"/>
<rect x="1628.1" y="507.5" width="10.4" height="10.4"/>
<rect x="1634.1" y="507.5" width="10.4" height="10.4"/>
<rect x="1639.8" y="506.5" width="10.4" height="10.4"/>
<rect x="1646.5" y="506.5" width="10.4" height="10.4"/>
<rect x="1652.1" y="508.1" width="10.4" height="10.4"/>
<rect x="1658.1" y="506.5" width="10.4" height="10.4"/>
<rect x="1664.1" y="508.1" width="10.4" height="10.4"/>
<rect x="1669.8" y="508.8" width="10.4" height="10.4"/>
<rect x="1674.8" y="509.8" width="10.4" height="10.4"/>
<rect x="1681.5" y="509.8" width="10.4" height="10.4"/>
<rect x="1687.5" y="511.5" width="10.4" height="10.4"/>
<rect x="1693.1" y="512.1" width="10.4" height="10.4"/>
<rect x="1699.1" y="512.1" width="10.4" height="10.4"/>
<rect x="1704.8" y="512.1" width="10.4" height="10.4"/>
<rect x="1711.5" y="514.1" width="10.4" height="10.4"/>
<rect x="1717.5" y="514.1" width="10.4" height="10.4"/>
</g>
</g>
<rect x="1269.6" y="102.7" width="454.1" height="424.0" fill="none" stroke="#000" stroke-width="2.6"/>
<g clip-path="url(#cl0)">
<path d="M1433.3 345.0L1581.7 525.0" stroke="#000" stroke-width="4.6"/>
<path d="M1371.7 336.0L1497.3 528.3" stroke="#f00" stroke-width="4.6"/>
</g>
<text transform="translate(1235.59,539.30) scale(0.9500,1)" font-size="39.30">0</text>
<text transform="translate(1194.14,418.16) scale(0.9500,1)" font-size="39.30">100</text>
<text transform="translate(1194.14,297.01) scale(0.9500,1)" font-size="39.30">200</text>
<text transform="translate(1194.14,175.87) scale(0.9500,1)" font-size="39.30">300</text>
<text transform="translate(1468.84,165.00) scale(0.9720,1)" font-size="39.30">15 s</text>
<circle cx="1514.1" cy="200.1" r="5.2" fill="#fff" stroke="#000" stroke-width="1.9"/>
<rect x="1508.9" y="242.8" width="10.4" height="10.4" fill="none" stroke="#f00" stroke-width="1.9"/>
<text transform="translate(1566.62,214.00) scale(0.9480,1)" font-size="39.30">-0.5 ps</text>
<text transform="translate(1567.44,260.70) scale(0.9460,1)" font-size="39.30">+1.5 ps</text>
<text transform="translate(1293.12,500.80) scale(0.9880,1)" font-size="50.20">(g)</text>
<path d="M1345.3 554.5v12.8M1345.3 978.5v-12.8M1496.7 554.5v12.8M1496.7 978.5v-12.8M1648.0 554.5v12.8M1648.0 978.5v-12.8M1269.6 801.9h12.8M1723.7 801.9h-12.8M1269.6 625.2h12.8M1723.7 625.2h-12.8" stroke="#000" stroke-width="2.6" fill="none"/>
<g clip-path="url(#cl1)">
<g fill="#fff" stroke="#000" stroke-width="1.9">
<circle cx="1269.1" cy="674.0" r="5.2"/>
<circle cx="1275.2" cy="672.9" r="5.2"/>
<circle cx="1281.3" cy="666.7" r="5.2"/>
<circle cx="1287.2" cy="659.9" r="5.2"/>
<circle cx="1293.1" cy="664.5" r="5.2"/>
<circle cx="1299.4" cy="682.6" r="5.2"/>
<circle cx="1305.3" cy="671.7" r="5.2"/>
<circle cx="1311.5" cy="686.5" r="5.2"/>
<circle cx="1317.6" cy="695.1" r="5.2"/>
<circle cx="1323.5" cy="679.7" r="5.2"/>
<circle cx="1329.6" cy="693.9" r="5.2"/>
<circle cx="1335.7" cy="693.3" r="5.2"/>
<circle cx="1341.6" cy="687.1" r="5.2"/>
<circle cx="1347.7" cy="713.7" r="5.2"/>
<circle cx="1353.8" cy="708.0" r="5.2"/>
<circle cx="1359.7" cy="714.3" r="5.2"/>
<circle cx="1365.8" cy="713.7" r="5.2"/>
<circle cx="1372.0" cy="725.7" r="5.2"/>
<circle cx="1377.9" cy="724.3" r="5.2"/>
<circle cx="1384.0" cy="742.4" r="5.2"/>
<circle cx="1390.1" cy="729.5" r="5.2"/>
<circle cx="1396.0" cy="723.4" r="5.2"/>
<circle cx="1402.1" cy="744.9" r="5.2"/>
<circle cx="1408.2" cy="768.7" r="5.2"/>
<circle cx="1414.1" cy="771.4" r="5.2"/>
<circle cx="1420.2" cy="769.6" r="5.2"/>
<circle cx="1426.4" cy="759.7" r="5.2"/>
<circle cx="1432.7" cy="789.6" r="5.2"/>
<circle cx="1438.6" cy="804.3" r="5.2"/>
<circle cx="1444.5" cy="803.2" r="5.2"/>
<circle cx="1450.8" cy="795.9" r="5.2"/>
<circle cx="1457.0" cy="788.4" r="5.2"/>
<circle cx="1462.8" cy="816.8" r="5.2"/>
<circle cx="1469.0" cy="828.1" r="5.2"/>
<circle cx="1475.1" cy="837.2" r="5.2"/>
<circle cx="1481.0" cy="851.9" r="5.2"/>
<circle cx="1487.1" cy="867.8" r="5.2"/>
<circle cx="1493.0" cy="878.4" r="5.2"/>
<circle cx="1499.1" cy="885.4" r="5.2"/>
<circle cx="1505.0" cy="889.3" r="5.2"/>
<circle cx="1512.7" cy="890.0" r="5.2"/>
<circle cx="1518.3" cy="908.3" r="5.2"/>
<circle cx="1524.0" cy="923.3" r="5.2"/>
<circle cx="1530.7" cy="924.0" r="5.2"/>
<circle cx="1536.7" cy="930.0" r="5.2"/>
<circle cx="1543.3" cy="937.3" r="5.2"/>
<circle cx="1549.3" cy="945.0" r="5.2"/>
<circle cx="1555.0" cy="947.3" r="5.2"/>
<circle cx="1560.7" cy="948.3" r="5.2"/>
<circle cx="1566.7" cy="953.3" r="5.2"/>
<circle cx="1572.7" cy="955.0" r="5.2"/>
<circle cx="1579.0" cy="959.3" r="5.2"/>
<circle cx="1585.0" cy="960.7" r="5.2"/>
<circle cx="1591.0" cy="960.7" r="5.2"/>
<circle cx="1596.7" cy="960.7" r="5.2"/>
<circle cx="1603.3" cy="961.7" r="5.2"/>
<circle cx="1609.3" cy="956.7" r="5.2"/>
<circle cx="1615.0" cy="962.7" r="5.2"/>
<circle cx="1621.0" cy="963.3" r="5.2"/>
<circle cx="1626.7" cy="963.3" r="5.2"/>
<circle cx="1633.3" cy="964.0" r="5.2"/>
<circle cx="1639.3" cy="965.0" r="5.2"/>
<circle cx="1645.0" cy="966.7" r="5.2"/>
<circle cx="1651.7" cy="966.7" r="5.2"/>
<circle cx="1657.3" cy="967.3" r="5.2"/>
<circle cx="1663.3" cy="966.7" r="5.2"/>
<circle cx="1669.3" cy="966.7" r="5.2"/>
<circle cx="1675.0" cy="967.3" r="5.2"/>
<circle cx="1681.7" cy="970.0" r="5.2"/>
<circle cx="1687.3" cy="969.3" r="5.2"/>
<circle cx="1693.3" cy="968.3" r="5.2"/>
<circle cx="1699.3" cy="968.3" r="5.2"/>
<circle cx="1705.7" cy="970.0" r="5.2"/>
<circle cx="1711.7" cy="969.3" r="5.2"/>
<circle cx="1717.7" cy="970.7" r="5.2"/>
<circle cx="1723.3" cy="970.7" r="5.2"/>
</g>
<g fill="#fff" stroke="#f00" stroke-width="1.9">
<rect x="1263.9" y="676.7" width="10.4" height="10.4"/>
<rect x="1270.0" y="687.4" width="10.4" height="10.4"/>
<rect x="1276.1" y="724.5" width="10.4" height="10.4"/>
<rect x="1282.0" y="714.6" width="10.4" height="10.4"/>
<rect x="1287.9" y="707.3" width="10.4" height="10.4"/>
<rect x="1294.2" y="694.9" width="10.4" height="10.4"/>
<rect x="1300.1" y="701.0" width="10.4" height="10.4"/>
<rect x="1306.3" y="721.4" width="10.4" height="10.4"/>
<rect x="1312.4" y="718.7" width="10.4" height="10.4"/>
<rect x="1318.3" y="713.7" width="10.4" height="10.4"/>
<rect x="1324.4" y="710.7" width="10.4" height="10.4"/>
<rect x="1330.5" y="709.6" width="10.4" height="10.4"/>
<rect x="1336.4" y="726.6" width="10.4" height="10.4"/>
<rect x="1342.5" y="722.1" width="10.4" height="10.4"/>
<rect x="1348.6" y="727.7" width="10.4" height="10.4"/>
<rect x="1354.5" y="747.4" width="10.4" height="10.4"/>
<rect x="1360.6" y="745.2" width="10.4" height="10.4"/>
<rect x="1366.8" y="761.7" width="10.4" height="10.4"/>
<rect x="1372.7" y="760.1" width="10.4" height="10.4"/>
<rect x="1378.8" y="762.2" width="10.4" height="10.4"/>
<rect x="1384.9" y="765.8" width="10.4" height="10.4"/>
<rect x="1390.8" y="761.3" width="10.4" height="10.4"/>
<rect x="1396.9" y="777.1" width="10.4" height="10.4"/>
<rect x="1403.0" y="794.8" width="10.4" height="10.4"/>
<rect x="1408.9" y="794.8" width="10.4" height="10.4"/>
<rect x="1415.0" y="803.6" width="10.4" height="10.4"/>
<rect x="1421.2" y="822.9" width="10.4" height="10.4"/>
<rect x="1427.5" y="839.9" width="10.4" height="10.4"/>
<rect x="1433.4" y="837.6" width="10.4" height="10.4"/>
<rect x="1439.3" y="856.9" width="10.4" height="10.4"/>
<rect x="1445.6" y="872.3" width="10.4" height="10.4"/>
<rect x="1451.8" y="886.4" width="10.4" height="10.4"/>
<rect x="1457.6" y="910.8" width="10.4" height="10.4"/>
<rect x="1463.8" y="915.4" width="10.4" height="10.4"/>
<rect x="1469.9" y="924.9" width="10.4" height="10.4"/>
<rect x="1475.8" y="938.0" width="10.4" height="10.4"/>
<rect x="1481.9" y="947.5" width="10.4" height="10.4"/>
<rect x="1487.8" y="947.1" width="10.4" height="10.4"/>
<rect x="1493.9" y="953.9" width="10.4" height="10.4"/>
<rect x="1499.8" y="958.9" width="10.4" height="10.4"/>
<rect x="1507.5" y="960.8" width="10.4" height="10.4"/>
<rect x="1513.1" y="960.8" width="10.4" height="10.4"/>
<rect x="1518.8" y="959.8" width="10.4" height="10.4"/>
<rect x="1525.5" y="964.8" width="10.4" height="10.4"/>
<rect x="1531.5" y="962.1" width="10.4" height="10.4"/>
<rect x="1538.1" y="964.8" width="10.4" height="10.4"/>
<rect x="1544.1" y="967.5" width="10.4" height="10.4"/>
<rect x="1549.8" y="967.5" width="10.4" height="10.4"/>
<rect x="1555.5" y="966.5" width="10.4" height="10.4"/>
<rect x="1561.5" y="964.8" width="10.4" height="10.4"/>
<rect x="1567.5" y="961.5" width="10.4" height="10.4"/>
<rect x="1573.8" y="962.1" width="10.4" height="10.4"/>
<rect x="1579.8" y="964.8" width="10.4" height="10.4"/>
<rect x="1585.8" y="964.8" width="10.4" height="10.4"/>
<rect x="1591.5" y="963.1" width="10.4" height="10.4"/>
<rect x="1598.1" y="962.1" width="10.4" height="10.4"/>
<rect x="1604.1" y="962.1" width="10.4" height="10.4"/>
<rect x="1609.8" y="964.8" width="10.4" height="10.4"/>
<rect x="1615.8" y="964.8" width="10.4" height="10.4"/>
<rect x="1621.5" y="964.1" width="10.4" height="10.4"/>
<rect x="1628.1" y="964.1" width="10.4" height="10.4"/>
<rect x="1634.1" y="964.8" width="10.4" height="10.4"/>
<rect x="1639.8" y="964.1" width="10.4" height="10.4"/>
<rect x="1646.5" y="963.1" width="10.4" height="10.4"/>
<rect x="1652.1" y="963.1" width="10.4" height="10.4"/>
<rect x="1658.1" y="962.1" width="10.4" height="10.4"/>
<rect x="1664.1" y="962.1" width="10.4" height="10.4"/>
<rect x="1669.8" y="966.5" width="10.4" height="10.4"/>
<rect x="1676.5" y="967.5" width="10.4" height="10.4"/>
<rect x="1682.1" y="968.1" width="10.4" height="10.4"/>
<rect x="1688.1" y="967.5" width="10.4" height="10.4"/>
<rect x="1694.1" y="966.5" width="10.4" height="10.4"/>
<rect x="1700.5" y="968.1" width="10.4" height="10.4"/>
<rect x="1706.5" y="968.1" width="10.4" height="10.4"/>
<rect x="1712.5" y="968.1" width="10.4" height="10.4"/>
<rect x="1718.1" y="967.5" width="10.4" height="10.4"/>
</g>
</g>
<rect x="1269.6" y="554.5" width="454.1" height="424.0" fill="none" stroke="#000" stroke-width="2.6"/>
<g clip-path="url(#cl1)">
<path d="M1446.0 795.0L1562.7 974.3" stroke="#000" stroke-width="4.6"/>
<path d="M1414.0 803.3L1497.3 979.3" stroke="#f00" stroke-width="4.6"/>
</g>
<text transform="translate(1235.59,991.15) scale(0.9500,1)" font-size="39.30">0</text>
<text transform="translate(1214.86,814.48) scale(0.9500,1)" font-size="39.30">50</text>
<text transform="translate(1194.14,637.82) scale(0.9500,1)" font-size="39.30">100</text>
<text transform="translate(1470.17,616.05) scale(0.9720,1)" font-size="39.30">30 s</text>
<circle cx="1514.1" cy="652.3" r="5.2" fill="#fff" stroke="#000" stroke-width="1.9"/>
<rect x="1508.9" y="694.8" width="10.4" height="10.4" fill="none" stroke="#f00" stroke-width="1.9"/>
<text transform="translate(1566.62,664.55) scale(0.9480,1)" font-size="39.30">-0.5 ps</text>
<text transform="translate(1567.44,711.85) scale(0.9460,1)" font-size="39.30">+1.5 ps</text>
<text transform="translate(1293.42,954.40) scale(0.9880,1)" font-size="50.20">(h)</text>
<path d="M1345.3 1006.4v12.8M1345.3 1430.4v-12.8M1496.7 1006.4v12.8M1496.7 1430.4v-12.8M1648.0 1006.4v12.8M1648.0 1430.4v-12.8M1269.6 1260.8h12.8M1723.7 1260.8h-12.8M1269.6 1091.2h12.8M1723.7 1091.2h-12.8" stroke="#000" stroke-width="2.6" fill="none"/>
<g clip-path="url(#cl2)">
<g fill="#fff" stroke="#000" stroke-width="1.9">
<circle cx="1269.1" cy="1131.9" r="5.2"/>
<circle cx="1275.2" cy="1142.1" r="5.2"/>
<circle cx="1281.3" cy="1139.4" r="5.2"/>
<circle cx="1287.2" cy="1139.9" r="5.2"/>
<circle cx="1293.1" cy="1127.4" r="5.2"/>
<circle cx="1299.4" cy="1130.8" r="5.2"/>
<circle cx="1305.3" cy="1136.5" r="5.2"/>
<circle cx="1311.5" cy="1156.9" r="5.2"/>
<circle cx="1317.6" cy="1137.6" r="5.2"/>
<circle cx="1323.5" cy="1137.1" r="5.2"/>
<circle cx="1329.6" cy="1114.5" r="5.2"/>
<circle cx="1335.7" cy="1110.8" r="5.2"/>
<circle cx="1341.6" cy="1131.9" r="5.2"/>
<circle cx="1347.7" cy="1129.7" r="5.2"/>
<circle cx="1353.8" cy="1143.9" r="5.2"/>
<circle cx="1359.7" cy="1150.1" r="5.2"/>
<circle cx="1365.8" cy="1150.1" r="5.2"/>
<circle cx="1372.0" cy="1167.5" r="5.2"/>
<circle cx="1377.9" cy="1165.9" r="5.2"/>
<circle cx="1384.0" cy="1171.1" r="5.2"/>
<circle cx="1390.1" cy="1142.6" r="5.2"/>
<circle cx="1396.0" cy="1153.0" r="5.2"/>
<circle cx="1402.1" cy="1185.2" r="5.2"/>
<circle cx="1408.2" cy="1198.8" r="5.2"/>
<circle cx="1414.1" cy="1201.0" r="5.2"/>
<circle cx="1420.2" cy="1206.0" r="5.2"/>
<circle cx="1426.4" cy="1177.9" r="5.2"/>
<circle cx="1432.7" cy="1203.3" r="5.2"/>
<circle cx="1438.6" cy="1223.7" r="5.2"/>
<circle cx="1444.5" cy="1213.1" r="5.2"/>
<circle cx="1450.8" cy="1230.1" r="5.2"/>
<circle cx="1457.0" cy="1236.9" r="5.2"/>
<circle cx="1462.8" cy="1245.9" r="5.2"/>
<circle cx="1469.0" cy="1271.3" r="5.2"/>
<circle cx="1475.1" cy="1270.2" r="5.2"/>
<circle cx="1481.0" cy="1291.2" r="5.2"/>
<circle cx="1487.1" cy="1283.1" r="5.2"/>
<circle cx="1493.0" cy="1308.7" r="5.2"/>
<circle cx="1499.1" cy="1321.6" r="5.2"/>
<circle cx="1505.0" cy="1328.0" r="5.2"/>
<circle cx="1512.3" cy="1351.7" r="5.2"/>
<circle cx="1517.7" cy="1366.0" r="5.2"/>
<circle cx="1524.0" cy="1371.7" r="5.2"/>
<circle cx="1529.3" cy="1386.7" r="5.2"/>
<circle cx="1536.0" cy="1395.0" r="5.2"/>
<circle cx="1541.7" cy="1393.3" r="5.2"/>
<circle cx="1547.7" cy="1392.7" r="5.2"/>
<circle cx="1554.0" cy="1395.0" r="5.2"/>
<circle cx="1560.0" cy="1396.0" r="5.2"/>
<circle cx="1566.7" cy="1406.0" r="5.2"/>
<circle cx="1572.7" cy="1410.7" r="5.2"/>
<circle cx="1579.0" cy="1406.7" r="5.2"/>
<circle cx="1585.0" cy="1415.0" r="5.2"/>
<circle cx="1591.0" cy="1417.3" r="5.2"/>
<circle cx="1596.7" cy="1416.0" r="5.2"/>
<circle cx="1603.3" cy="1418.3" r="5.2"/>
<circle cx="1609.3" cy="1417.3" r="5.2"/>
<circle cx="1615.0" cy="1418.3" r="5.2"/>
<circle cx="1621.0" cy="1423.3" r="5.2"/>
<circle cx="1626.7" cy="1425.0" r="5.2"/>
<circle cx="1633.3" cy="1418.3" r="5.2"/>
<circle cx="1639.3" cy="1418.3" r="5.2"/>
<circle cx="1645.0" cy="1420.0" r="5.2"/>
<circle cx="1651.7" cy="1419.3" r="5.2"/>
<circle cx="1657.3" cy="1415.0" r="5.2"/>
<circle cx="1663.3" cy="1420.0" r="5.2"/>
<circle cx="1669.3" cy="1423.3" r="5.2"/>
<circle cx="1675.0" cy="1423.3" r="5.2"/>
<circle cx="1681.7" cy="1421.7" r="5.2"/>
<circle cx="1687.3" cy="1423.3" r="5.2"/>
<circle cx="1693.3" cy="1423.3" r="5.2"/>
<circle cx="1699.3" cy="1421.7" r="5.2"/>
<circle cx="1705.7" cy="1423.3" r="5.2"/>
<circle cx="1711.7" cy="1422.7" r="5.2"/>
<circle cx="1717.7" cy="1424.0" r="5.2"/>
<circle cx="1723.3" cy="1425.0" r="5.2"/>
</g>
<g fill="#fff" stroke="#f00" stroke-width="1.9">
<rect x="1263.9" y="1154.6" width="10.4" height="10.4"/>
<rect x="1270.0" y="1133.5" width="10.4" height="10.4"/>
<rect x="1276.1" y="1119.2" width="10.4" height="10.4"/>
<rect x="1282.0" y="1132.8" width="10.4" height="10.4"/>
<rect x="1287.9" y="1126.3" width="10.4" height="10.4"/>
<rect x="1294.2" y="1128.5" width="10.4" height="10.4"/>
<rect x="1300.1" y="1138.1" width="10.4" height="10.4"/>
<rect x="1306.3" y="1157.3" width="10.4" height="10.4"/>
<rect x="1312.4" y="1139.6" width="10.4" height="10.4"/>
<rect x="1318.3" y="1155.7" width="10.4" height="10.4"/>
<rect x="1324.4" y="1186.8" width="10.4" height="10.4"/>
<rect x="1330.5" y="1196.5" width="10.4" height="10.4"/>
<rect x="1336.4" y="1196.5" width="10.4" height="10.4"/>
<rect x="1342.5" y="1195.2" width="10.4" height="10.4"/>
<rect x="1348.6" y="1170.5" width="10.4" height="10.4"/>
<rect x="1354.5" y="1185.0" width="10.4" height="10.4"/>
<rect x="1360.6" y="1174.8" width="10.4" height="10.4"/>
<rect x="1366.8" y="1169.8" width="10.4" height="10.4"/>
<rect x="1372.7" y="1212.4" width="10.4" height="10.4"/>
<rect x="1378.8" y="1214.0" width="10.4" height="10.4"/>
<rect x="1384.9" y="1189.5" width="10.4" height="10.4"/>
<rect x="1390.8" y="1170.9" width="10.4" height="10.4"/>
<rect x="1396.9" y="1187.2" width="10.4" height="10.4"/>
<rect x="1403.0" y="1207.6" width="10.4" height="10.4"/>
<rect x="1408.9" y="1259.3" width="10.4" height="10.4"/>
<rect x="1415.0" y="1274.7" width="10.4" height="10.4"/>
<rect x="1421.2" y="1266.1" width="10.4" height="10.4"/>
<rect x="1427.5" y="1274.7" width="10.4" height="10.4"/>
<rect x="1433.4" y="1286.5" width="10.4" height="10.4"/>
<rect x="1439.3" y="1317.1" width="10.4" height="10.4"/>
<rect x="1445.6" y="1334.8" width="10.4" height="10.4"/>
<rect x="1451.8" y="1346.6" width="10.4" height="10.4"/>
<rect x="1457.6" y="1351.8" width="10.4" height="10.4"/>
<rect x="1463.8" y="1371.0" width="10.4" height="10.4"/>
<rect x="1469.9" y="1378.3" width="10.4" height="10.4"/>
<rect x="1475.8" y="1394.8" width="10.4" height="10.4"/>
<rect x="1481.9" y="1400.3" width="10.4" height="10.4"/>
<rect x="1487.8" y="1403.2" width="10.4" height="10.4"/>
<rect x="1493.9" y="1404.3" width="10.4" height="10.4"/>
<rect x="1499.8" y="1406.6" width="10.4" height="10.4"/>
<rect x="1507.1" y="1408.8" width="10.4" height="10.4"/>
<rect x="1512.5" y="1407.5" width="10.4" height="10.4"/>
<rect x="1518.8" y="1390.8" width="10.4" height="10.4"/>
<rect x="1524.8" y="1399.8" width="10.4" height="10.4"/>
<rect x="1530.8" y="1411.5" width="10.4" height="10.4"/>
<rect x="1536.5" y="1410.8" width="10.4" height="10.4"/>
<rect x="1542.5" y="1417.5" width="10.4" height="10.4"/>
<rect x="1548.8" y="1418.1" width="10.4" height="10.4"/>
<rect x="1554.8" y="1408.8" width="10.4" height="10.4"/>
<rect x="1561.5" y="1411.5" width="10.4" height="10.4"/>
<rect x="1567.5" y="1416.5" width="10.4" height="10.4"/>
<rect x="1573.8" y="1414.8" width="10.4" height="10.4"/>
<rect x="1579.8" y="1416.5" width="10.4" height="10.4"/>
<rect x="1585.8" y="1416.5" width="10.4" height="10.4"/>
<rect x="1591.5" y="1418.1" width="10.4" height="10.4"/>
<rect x="1598.1" y="1416.5" width="10.4" height="10.4"/>
<rect x="1604.1" y="1413.1" width="10.4" height="10.4"/>
<rect x="1609.8" y="1418.1" width="10.4" height="10.4"/>
<rect x="1615.8" y="1419.8" width="10.4" height="10.4"/>
<rect x="1621.5" y="1411.5" width="10.4" height="10.4"/>
<rect x="1628.1" y="1413.1" width="10.4" height="10.4"/>
<rect x="1634.1" y="1414.8" width="10.4" height="10.4"/>
<rect x="1639.8" y="1416.5" width="10.4" height="10.4"/>
<rect x="1646.5" y="1419.8" width="10.4" height="10.4"/>
<rect x="1652.1" y="1412.1" width="10.4" height="10.4"/>
<rect x="1658.1" y="1419.8" width="10.4" height="10.4"/>
<rect x="1664.1" y="1417.5" width="10.4" height="10.4"/>
<rect x="1669.8" y="1420.8" width="10.4" height="10.4"/>
<rect x="1676.5" y="1419.8" width="10.4" height="10.4"/>
<rect x="1682.1" y="1418.8" width="10.4" height="10.4"/>
<rect x="1688.1" y="1418.1" width="10.4" height="10.4"/>
<rect x="1694.1" y="1419.8" width="10.4" height="10.4"/>
<rect x="1700.5" y="1419.8" width="10.4" height="10.4"/>
<rect x="1706.5" y="1419.8" width="10.4" height="10.4"/>
<rect x="1712.5" y="1419.8" width="10.4" height="10.4"/>
<rect x="1718.1" y="1419.8" width="10.4" height="10.4"/>
</g>
</g>
<rect x="1269.6" y="1006.4" width="454.1" height="424.0" fill="none" stroke="#000" stroke-width="2.6"/>
<g clip-path="url(#cl2)">
<path d="M1450.0 1235.0L1556.0 1430.0" stroke="#000" stroke-width="4.6"/>
<path d="M1404.0 1208.3L1497.3 1430.7" stroke="#f00" stroke-width="4.6"/>
</g>
<text transform="translate(1235.59,1443.00) scale(0.9500,1)" font-size="39.30">0</text>
<text transform="translate(1214.86,1273.40) scale(0.9500,1)" font-size="39.30">20</text>
<text transform="translate(1214.86,1103.80) scale(0.9500,1)" font-size="39.30">40</text>
<text transform="translate(1470.94,1067.30) scale(0.9720,1)" font-size="39.30">45 s</text>
<circle cx="1514.1" cy="1102.9" r="5.2" fill="#fff" stroke="#000" stroke-width="1.9"/>
<rect x="1508.9" y="1145.2" width="10.4" height="10.4" fill="none" stroke="#f00" stroke-width="1.9"/>
<text transform="translate(1566.62,1114.90) scale(0.9480,1)" font-size="39.30">-0.5 ps</text>
<text transform="translate(1567.44,1162.40) scale(0.9460,1)" font-size="39.30">+1.5 ps</text>
<text transform="translate(1284.97,1403.50) scale(0.9880,1)" font-size="50.20">(i)</text>
<text transform="translate(1311.73,1473.30) scale(0.9600,1)" font-size="39.30">-0.2</text>
<text transform="translate(1469.13,1473.30) scale(0.9600,1)" font-size="39.30">0.0</text>
<text transform="translate(1620.78,1473.30) scale(0.9600,1)" font-size="39.30">0.2</text>
<g transform="translate(1196.5,947.3) rotate(-90)">
<text transform="translate(-3.83,0.00) scale(0.9290,1)" font-size="51.50">PES intensity</text>
</g>
<text transform="translate(1346.03,1520.00) scale(1.0131,1)" font-size="49.00">E-E</text>
<text transform="translate(1429.85,1537.30) scale(0.9948,1)" font-size="28.80">onset(+)</text>
<text transform="translate(1552.00,1520.00) scale(1.0210,1)" font-size="49.00">(eV)</text>
</svg></body></html>
